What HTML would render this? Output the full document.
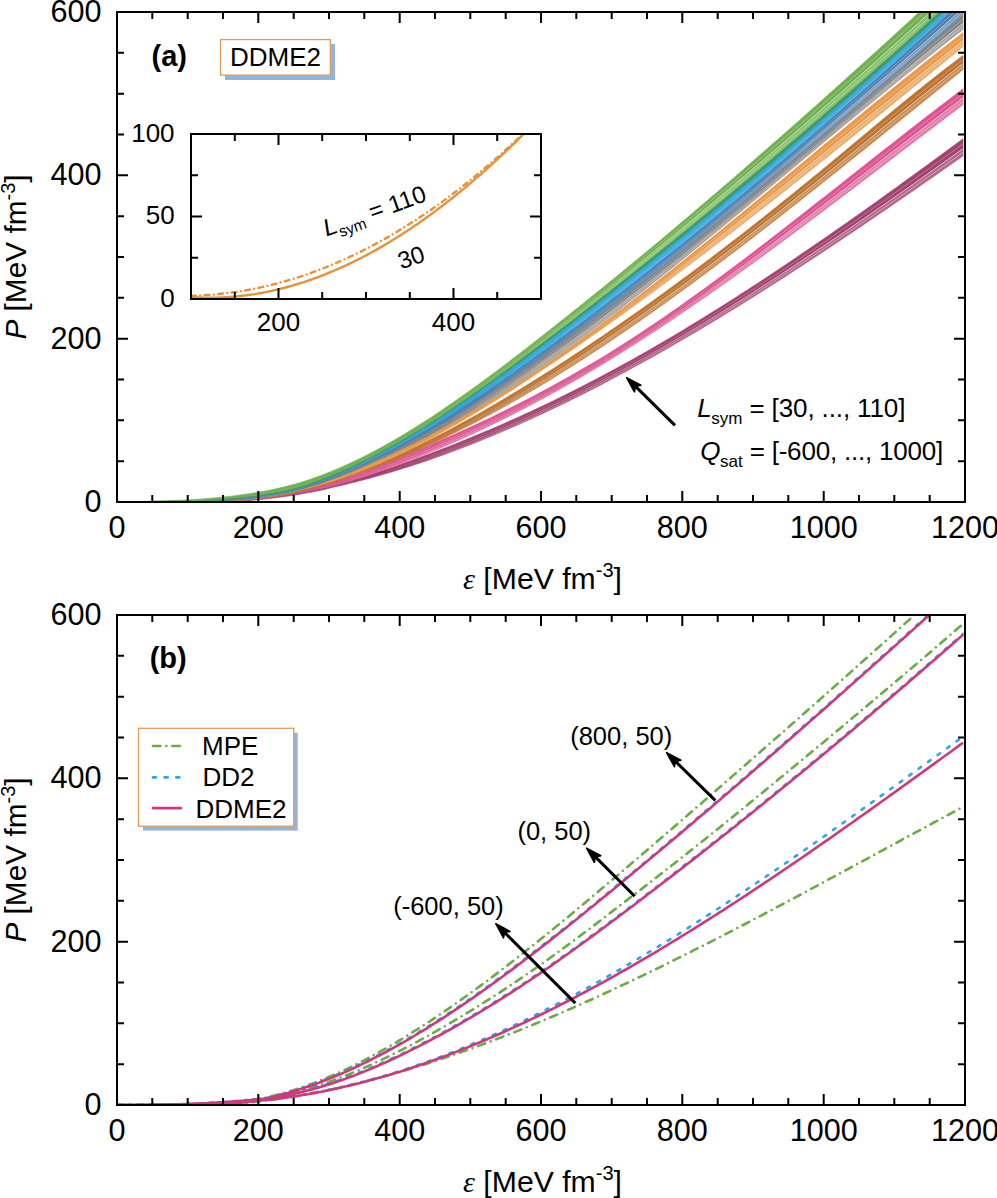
<!DOCTYPE html><html><head><meta charset="utf-8"><style>html,body{margin:0;padding:0;background:#fff;}svg{display:block;}</style></head><body><svg width="997" height="1198" viewBox="0 0 997 1198" font-family='"Liberation Sans", sans-serif'>
<rect width="997" height="1198" fill="#fff"/>
<g clip-path="url(#clipA)">
<path d="M117,502 L123,501.9 L129,501.7 L135,501.7 L141,501.6 L147,501.6 L153,501.6 L159,501.6 L165,501.6 L171,501.6 L177,501.6 L183,501.6 L189,501.5 L195,501.5 L201,501.4 L207,501.3 L213,501.1 L219,500.9 L225,500.6 L231,500.3 L237,499.9 L243,499.5 L249,499 L255,498.5 L261,497.9 L267,497.2 L273,496.5 L279,495.7 L285,494.9 L291,494 L297,493.1 L303,492 L309,491 L315,489.8 L321,488.6 L327,487.2 L333,485.7 L339,484.1 L345,482.4 L351,480.6 L357,478.7 L363,476.9 L369,474.9 L375,473 L381,471 L387,469 L393,467 L399,464.9 L405,462.8 L411,460.7 L417,458.5 L423,456.3 L429,454.1 L435,451.8 L441,449.5 L447,447.2 L453,444.9 L459,442.5 L465,440.1 L471,437.6 L477,435.1 L483,432.6 L489,430.1 L495,427.5 L501,424.9 L507,422.3 L513,419.6 L519,416.9 L525,414.1 L531,411.4 L537,408.6 L543,405.7 L549,402.9 L555,400 L561,397 L567,394 L573,391 L579,388 L585,384.9 L591,381.8 L597,378.7 L603,375.5 L609,372.3 L615,369.1 L621,365.8 L627,362.5 L633,359.2 L639,355.8 L645,352.4 L651,349 L657,345.5 L663,342 L669,338.5 L675,334.9 L681,331.4 L687,327.7 L693,324.1 L699,320.4 L705,316.7 L711,313 L717,309.3 L723,305.5 L729,301.7 L735,297.9 L741,294 L747,290.2 L753,286.3 L759,282.4 L765,278.4 L771,274.5 L777,270.5 L783,266.5 L789,262.4 L795,258.4 L801,254.3 L807,250.2 L813,246.1 L819,242 L825,237.9 L831,233.7 L837,229.5 L843,225.4 L849,221.2 L855,216.9 L861,212.7 L867,208.4 L873,204.2 L879,199.9 L885,195.6 L891,191.3 L897,187 L903,182.6 L909,178.3 L915,173.9 L921,169.6 L927,165.2 L933,160.8 L939,156.4 L945,152 L951,147.6 L957,143.2 L963,138.8 L963,155.9 L957,160.1 L951,164.3 L945,168.5 L939,172.7 L933,176.9 L927,181 L921,185.2 L915,189.4 L909,193.5 L903,197.7 L897,201.8 L891,205.9 L885,210 L879,214.1 L873,218.2 L867,222.3 L861,226.4 L855,230.4 L849,234.4 L843,238.5 L837,242.5 L831,246.5 L825,250.5 L819,254.4 L813,258.4 L807,262.3 L801,266.2 L795,270.1 L789,274 L783,277.9 L777,281.7 L771,285.6 L765,289.4 L759,293.2 L753,297 L747,300.7 L741,304.4 L735,308.2 L729,311.8 L723,315.5 L717,319.2 L711,322.8 L705,326.4 L699,330 L693,333.5 L687,337 L681,340.5 L675,344 L669,347.5 L663,350.9 L657,354.3 L651,357.7 L645,361 L639,364.3 L633,367.6 L627,370.9 L621,374.1 L615,377.3 L609,380.5 L603,383.7 L597,386.8 L591,389.9 L585,392.9 L579,395.9 L573,398.9 L567,401.9 L561,404.8 L555,407.7 L549,410.5 L543,413.4 L537,416.1 L531,418.9 L525,421.6 L519,424.3 L513,426.9 L507,429.5 L501,432.1 L495,434.6 L489,437.1 L483,439.6 L477,442 L471,444.4 L465,446.7 L459,449 L453,451.3 L447,453.5 L441,455.7 L435,457.8 L429,459.9 L423,461.9 L417,463.9 L411,465.9 L405,467.8 L399,469.7 L393,471.5 L387,473.3 L381,475 L375,476.7 L369,478.4 L363,480 L357,481.5 L351,483 L345,484.5 L339,485.9 L333,487.3 L327,488.8 L321,490.2 L315,491.4 L309,492.6 L303,493.6 L297,494.7 L291,495.6 L285,496.5 L279,497.3 L273,498.1 L267,498.8 L261,499.5 L255,500.1 L249,500.6 L243,501.1 L237,501.5 L231,501.9 L225,502.2 L219,502.5 L213,502.7 L207,502.9 L201,503 L195,503.1 L189,503.1 L183,503.2 L177,503.2 L171,503.2 L165,503.2 L159,503.2 L153,503.2 L147,503.2 L141,503.2 L135,503.3 L129,503.3 L123,503.5 L117,503.6Z" fill="#a24270" stroke="#a24270" stroke-width="0.6"/>
<path d="M117,503.6 L123,503.5 L129,503.3 L135,503.3 L141,503.2 L147,503.2 L153,503.2 L159,503.2 L165,503.2 L171,503.2 L177,503.2 L183,503.2 L189,503.1 L195,503.1 L201,503 L207,502.9 L213,502.7 L219,502.5 L225,502.2 L231,501.9 L237,501.5 L243,501.1 L249,500.6 L255,500.1 L261,499.5 L267,498.8 L273,498.1 L279,497.3 L285,496.5 L291,495.6 L297,494.7 L303,493.6 L309,492.6 L315,491.4 L321,490.2 L327,488.8 L333,487.3 L339,485.9 L345,484.5 L351,483 L357,481.5 L363,480 L369,478.4 L375,476.7 L381,475 L387,473.2 L393,471.4 L399,469.5 L405,467.5 L411,465.5 L417,463.4 L423,461.4 L429,459.2 L435,457.1 L441,454.8 L447,452.6 L453,450.3 L459,448 L465,445.6 L471,443.2 L477,440.8 L483,438.3 L489,435.8 L495,433.2 L501,430.6 L507,428 L513,425.4 L519,422.7 L525,420 L531,417.2 L537,414.4 L543,411.6 L549,408.7 L555,405.9 L561,402.9 L567,400 L573,397 L579,394 L585,390.9 L591,387.8 L597,384.7 L603,381.5 L609,378.3 L615,375.1 L621,371.9 L627,368.6 L633,365.2 L639,361.9 L645,358.5 L651,355.1 L657,351.6 L663,348.1 L669,344.6 L675,341.1 L681,337.5 L687,333.9 L693,330.3 L699,326.6 L705,322.9 L711,319.2 L717,315.5 L723,311.7 L729,308 L735,304.3 L741,300.5 L747,296.7 L753,292.9 L759,289.1 L765,285.2 L771,281.4 L777,277.5 L783,273.6 L789,269.6 L795,265.7 L801,261.7 L807,257.7 L813,253.7 L819,249.7 L825,245.7 L831,241.6 L837,237.6 L843,233.5 L849,229.4 L855,225.3 L861,221.2 L867,217 L873,212.9 L879,208.7 L885,204.5 L891,200.4 L897,196.2 L903,191.9 L909,187.7 L915,183.5 L921,179.3 L927,175 L933,170.8 L939,166.5 L945,162.2 L951,157.9 L957,153.7 L963,149.4 L963,155.9 L957,160.1 L951,164.3 L945,168.5 L939,172.7 L933,176.9 L927,181 L921,185.2 L915,189.4 L909,193.5 L903,197.7 L897,201.8 L891,205.9 L885,210 L879,214.1 L873,218.2 L867,222.3 L861,226.4 L855,230.4 L849,234.4 L843,238.5 L837,242.5 L831,246.5 L825,250.5 L819,254.4 L813,258.4 L807,262.3 L801,266.2 L795,270.1 L789,274 L783,277.9 L777,281.7 L771,285.6 L765,289.4 L759,293.2 L753,297 L747,300.7 L741,304.4 L735,308.2 L729,311.8 L723,315.5 L717,319.2 L711,322.8 L705,326.4 L699,330 L693,333.5 L687,337 L681,340.5 L675,344 L669,347.5 L663,350.9 L657,354.3 L651,357.7 L645,361 L639,364.3 L633,367.6 L627,370.9 L621,374.1 L615,377.3 L609,380.5 L603,383.7 L597,386.8 L591,389.9 L585,392.9 L579,395.9 L573,398.9 L567,401.9 L561,404.8 L555,407.7 L549,410.5 L543,413.4 L537,416.1 L531,418.9 L525,421.6 L519,424.3 L513,426.9 L507,429.5 L501,432.1 L495,434.6 L489,437.1 L483,439.6 L477,442 L471,444.4 L465,446.7 L459,449 L453,451.3 L447,453.5 L441,455.7 L435,457.8 L429,459.9 L423,461.9 L417,463.9 L411,465.9 L405,467.8 L399,469.7 L393,471.5 L387,473.3 L381,475 L375,476.7 L369,478.4 L363,480 L357,481.5 L351,483 L345,484.5 L339,485.9 L333,487.3 L327,488.8 L321,490.2 L315,491.4 L309,492.6 L303,493.6 L297,494.7 L291,495.6 L285,496.5 L279,497.3 L273,498.1 L267,498.8 L261,499.5 L255,500.1 L249,500.6 L243,501.1 L237,501.5 L231,501.9 L225,502.2 L219,502.5 L213,502.7 L207,502.9 L201,503 L195,503.1 L189,503.1 L183,503.2 L177,503.2 L171,503.2 L165,503.2 L159,503.2 L153,503.2 L147,503.2 L141,503.2 L135,503.3 L129,503.3 L123,503.5 L117,503.6Z" fill="#c689a6" fill-opacity="0.55"/>
<path d="M387,470.3 L393,468.3 L399,466.3 L405,464.3 M405,464.3 L411,462.2 L417,460.1 L423,458 M387,471.5 L393,469.6 L399,467.7 L405,465.7 M387,472.4 L393,470.6 L399,468.7 L405,466.8 M405,466.8 L411,464.9 L417,462.9 L423,460.8" fill="none" stroke="#fff" stroke-opacity="0.05" stroke-width="0.8"/>
<path d="M423,458 L429,455.8 L435,453.6 L441,451.4 M441,451.4 L447,449.1 L453,446.8 L459,444.4 M459,444.4 L465,442.1 L471,439.7 L477,437.2 M423,460.8 L429,458.7 L435,456.6 L441,454.4" fill="none" stroke="#fff" stroke-opacity="0.10" stroke-width="0.8"/>
<path d="M477,437.2 L483,434.7 L489,432.2 L495,429.7 M495,429.7 L501,427.1 L507,424.4 L513,421.8 M513,421.8 L519,419.1 L525,416.4 L531,413.6 M531,413.6 L537,410.8 L543,408 L549,405.2 M549,405.2 L555,402.3 L561,399.4 L567,396.4 M567,396.4 L573,393.4 L579,390.4 L585,387.3 M405,465.7 L411,463.7 L417,461.7 L423,459.6 M441,454.4 L447,452.2 L453,450 L459,447.7 M459,447.7 L465,445.4 L471,443 L477,440.6 M477,440.6 L483,438.2 L489,435.7 L495,433.2" fill="none" stroke="#fff" stroke-opacity="0.15" stroke-width="0.8"/>
<path d="M585,387.3 L591,384.2 L597,381.1 L603,378 M603,378 L609,374.8 L615,371.6 L621,368.3 M621,368.3 L627,365 L633,361.7 L639,358.4 M639,358.4 L645,355 L651,351.6 L657,348.1 M657,348.1 L663,344.7 L669,341.2 L675,337.7 M423,459.6 L429,457.5 L435,455.3 L441,453.1 M495,433.2 L501,430.7 L507,428.1 L513,425.5 M513,425.5 L519,422.8 L525,420.1 L531,417.4 M531,417.4 L537,414.6 L543,411.8 L549,409 M549,409 L555,406.1 L561,403.2 L567,400.3 M567,400.3 L573,397.3 L579,394.3 L585,391.3" fill="none" stroke="#fff" stroke-opacity="0.20" stroke-width="0.8"/>
<path d="M675,337.7 L681,334.1 L687,330.5 L693,326.9 M693,326.9 L699,323.3 L705,319.6 L711,316 M711,316 L717,312.2 L723,308.5 L729,304.7 M441,453.1 L447,450.9 L453,448.6 L459,446.3 M585,391.3 L591,388.3 L597,385.2 L603,382 M603,382 L609,378.9 L615,375.7 L621,372.5 M621,372.5 L627,369.2 L633,365.9 L639,362.6 M639,362.6 L645,359.3 L651,355.9 L657,352.5" fill="none" stroke="#fff" stroke-opacity="0.25" stroke-width="0.8"/>
<path d="M729,304.7 L735,301 L741,297.2 L747,293.3 M747,293.3 L753,289.5 L759,285.6 L765,281.7 M765,281.7 L771,277.8 L777,273.9 L783,269.9 M459,446.3 L465,443.9 L471,441.5 L477,439.1 M477,439.1 L483,436.7 L489,434.2 L495,431.6 M657,352.5 L663,349.1 L669,345.7 L675,342.2 M675,342.2 L681,338.7 L687,335.2 L693,331.6 M693,331.6 L699,328.1 L705,324.5 L711,320.8" fill="none" stroke="#fff" stroke-opacity="0.30" stroke-width="0.8"/>
<path d="M783,269.9 L789,265.9 L795,261.9 L801,257.9 M801,257.9 L807,253.9 L813,249.8 L819,245.7 M819,245.7 L825,241.7 L831,237.6 L837,233.4 M837,233.4 L843,229.3 L849,225.1 L855,221 M855,221 L861,216.8 L867,212.6 L873,208.4 M873,208.4 L879,204.2 L885,199.9 L891,195.7 M891,195.7 L897,191.4 L903,187.1 L909,182.9 M909,182.9 L915,178.6 L921,174.3 L927,170 M927,170 L933,165.6 L939,161.3 L945,157 M945,157 L951,152.6 L957,148.3 L963,143.9 M495,431.6 L501,429.1 L507,426.5 L513,423.9 M513,423.9 L519,421.2 L525,418.5 L531,415.7 M711,320.8 L717,317.2 L723,313.5 L729,309.8 M729,309.8 L735,306.1 L741,302.4 L747,298.6" fill="none" stroke="#fff" stroke-opacity="0.35" stroke-width="0.8"/>
<path d="M531,415.7 L537,413 L543,410.2 L549,407.3 M549,407.3 L555,404.4 L561,401.5 L567,398.6 M567,398.6 L573,395.6 L579,392.6 L585,389.6 M747,298.6 L753,294.8 L759,291 L765,287.2 M765,287.2 L771,283.4 L777,279.5 L783,275.6" fill="none" stroke="#fff" stroke-opacity="0.40" stroke-width="0.8"/>
<path d="M585,389.6 L591,386.5 L597,383.4 L603,380.2 M603,380.2 L609,377.1 L615,373.9 L621,370.6 M621,370.6 L627,367.4 L633,364.1 L639,360.8 M783,275.6 L789,271.7 L795,267.8 L801,263.9 M801,263.9 L807,259.9 L813,255.9 L819,251.9 M819,251.9 L825,247.9 L831,243.9 L837,239.9 M837,239.9 L843,235.8 L849,231.8 L855,227.7 M855,227.7 L861,223.6 L867,219.5 L873,215.4 M873,215.4 L879,211.3 L885,207.1 L891,203 M891,203 L897,198.8 L903,194.6 L909,190.5 M909,190.5 L915,186.3 L921,182.1 L927,177.9 M927,177.9 L933,173.6 L939,169.4 L945,165.2 M945,165.2 L951,160.9 L957,156.7 L963,152.4" fill="none" stroke="#fff" stroke-opacity="0.45" stroke-width="0.8"/>
<path d="M639,360.8 L645,357.4 L651,354 L657,350.6" fill="none" stroke="#fff" stroke-opacity="0.50" stroke-width="0.8"/>
<path d="M657,350.6 L663,347.2 L669,343.7 L675,340.2 M675,340.2 L681,336.7 L687,333.1 L693,329.6" fill="none" stroke="#fff" stroke-opacity="0.55" stroke-width="0.8"/>
<path d="M693,329.6 L699,326 L705,322.3 L711,318.7" fill="none" stroke="#fff" stroke-opacity="0.60" stroke-width="0.8"/>
<path d="M711,318.7 L717,315 L723,311.3 L729,307.6 M729,307.6 L735,303.8 L741,300.1 L747,296.3" fill="none" stroke="#fff" stroke-opacity="0.65" stroke-width="0.8"/>
<path d="M747,296.3 L753,292.5 L759,288.6 L765,284.8" fill="none" stroke="#fff" stroke-opacity="0.70" stroke-width="0.8"/>
<path d="M765,284.8 L771,280.9 L777,277 L783,273.1" fill="none" stroke="#fff" stroke-opacity="0.75" stroke-width="0.8"/>
<path d="M783,273.1 L789,269.2 L795,265.2 L801,261.2" fill="none" stroke="#fff" stroke-opacity="0.80" stroke-width="0.8"/>
<path d="M801,261.2 L807,257.2 L813,253.2 L819,249.2 M819,249.2 L825,245.2 L831,241.1 L837,237.1 M837,237.1 L843,233 L849,228.9 L855,224.7 M855,224.7 L861,220.6 L867,216.5 L873,212.3 M873,212.3 L879,208.1 L885,204 L891,199.8 M891,199.8 L897,195.6 L903,191.3 L909,187.1 M909,187.1 L915,182.9 L921,178.6 L927,174.4 M927,174.4 L933,170.1 L939,165.8 L945,161.6 M945,161.6 L951,157.3 L957,153 L963,148.7" fill="none" stroke="#fff" stroke-opacity="0.85" stroke-width="0.8"/>
<path d="M117,502 L123,501.9 L129,501.8 L135,501.7 L141,501.7 L147,501.6 L153,501.6 L159,501.6 L165,501.5 L171,501.5 L177,501.4 L183,501.4 L189,501.3 L195,501.2 L201,501.1 L207,500.9 L213,500.7 L219,500.4 L225,500.1 L231,499.8 L237,499.4 L243,498.9 L249,498.4 L255,497.8 L261,497.1 L267,496.4 L273,495.5 L279,494.6 L285,493.6 L291,492.5 L297,491.3 L303,490 L309,488.6 L315,487.1 L321,485.5 L327,483.8 L333,482 L339,480.1 L345,478.2 L351,476.2 L357,474.1 L363,471.9 L369,469.7 L375,467.4 L381,465.1 L387,462.7 L393,460.3 L399,457.9 L405,455.5 L411,453 L417,450.5 L423,448 L429,445.4 L435,442.8 L441,440.2 L447,437.6 L453,435 L459,432.3 L465,429.6 L471,426.8 L477,424 L483,421.2 L489,418.4 L495,415.5 L501,412.6 L507,409.6 L513,406.6 L519,403.6 L525,400.5 L531,397.4 L537,394.3 L543,391.1 L549,387.9 L555,384.6 L561,381.3 L567,377.9 L573,374.5 L579,371.1 L585,367.6 L591,364.1 L597,360.5 L603,356.9 L609,353.2 L615,349.4 L621,345.7 L627,341.8 L633,337.9 L639,334 L645,330 L651,326 L657,322 L663,317.9 L669,313.7 L675,309.6 L681,305.4 L687,301.1 L693,296.8 L699,292.5 L705,288.2 L711,283.8 L717,279.4 L723,274.9 L729,270.5 L735,266 L741,261.5 L747,256.9 L753,252.4 L759,247.8 L765,243.2 L771,238.6 L777,233.9 L783,229.3 L789,224.6 L795,219.9 L801,215.3 L807,210.6 L813,205.8 L819,201.1 L825,196.4 L831,191.7 L837,186.9 L843,182.2 L849,177.5 L855,172.7 L861,168 L867,163.3 L873,158.5 L879,153.8 L885,149.1 L891,144.4 L897,139.7 L903,135 L909,130.3 L915,125.6 L921,120.9 L927,116.3 L933,111.7 L939,107.1 L945,102.5 L951,97.9 L957,93.3 L963,88.8 L963,104.6 L957,109.2 L951,113.7 L945,118.3 L939,122.8 L933,127.4 L927,132 L921,136.5 L915,141.1 L909,145.7 L903,150.3 L897,154.8 L891,159.4 L885,164 L879,168.6 L873,173.2 L867,177.7 L861,182.3 L855,186.9 L849,191.4 L843,196 L837,200.5 L831,205 L825,209.6 L819,214.1 L813,218.6 L807,223.1 L801,227.6 L795,232.1 L789,236.5 L783,241 L777,245.4 L771,249.8 L765,254.2 L759,258.6 L753,263 L747,267.3 L741,271.6 L735,275.9 L729,280.2 L723,284.5 L717,288.7 L711,292.9 L705,297.1 L699,301.3 L693,305.4 L687,309.5 L681,313.6 L675,317.7 L669,321.7 L663,325.7 L657,329.7 L651,333.6 L645,337.5 L639,341.4 L633,345.2 L627,349 L621,352.8 L615,356.5 L609,360.2 L603,363.9 L597,367.5 L591,371.1 L585,374.7 L579,378.2 L573,381.6 L567,385.1 L561,388.5 L555,391.8 L549,395.1 L543,398.4 L537,401.6 L531,404.8 L525,408 L519,411.1 L513,414.2 L507,417.2 L501,420.2 L495,423.1 L489,426 L483,428.9 L477,431.7 L471,434.5 L465,437.2 L459,439.9 L453,442.5 L447,445.2 L441,447.7 L435,450.2 L429,452.7 L423,455.1 L417,457.5 L411,459.8 L405,462.1 L399,464.4 L393,466.6 L387,468.7 L381,470.8 L375,472.9 L369,474.9 L363,476.9 L357,478.8 L351,480.7 L345,482.5 L339,484.2 L333,485.8 L327,487.2 L321,488.6 L315,489.8 L309,490.9 L303,492 L297,493 L291,494.1 L285,495.2 L279,496.2 L273,497.1 L267,498 L261,498.7 L255,499.4 L249,500 L243,500.5 L237,501 L231,501.4 L225,501.7 L219,502 L213,502.3 L207,502.5 L201,502.7 L195,502.8 L189,502.9 L183,503 L177,503 L171,503.1 L165,503.1 L159,503.2 L153,503.2 L147,503.2 L141,503.3 L135,503.3 L129,503.4 L123,503.5 L117,503.6Z" fill="#dc5592" stroke="#dc5592" stroke-width="0.6"/>
<path d="M117,503.6 L123,503.5 L129,503.4 L135,503.3 L141,503.3 L147,503.2 L153,503.2 L159,503.2 L165,503.1 L171,503.1 L177,503 L183,503 L189,502.9 L195,502.8 L201,502.7 L207,502.5 L213,502.3 L219,502 L225,501.7 L231,501.4 L237,501 L243,500.5 L249,500 L255,499.4 L261,498.7 L267,498 L273,497.1 L279,496.2 L285,495.2 L291,494.1 L297,493 L303,492 L309,490.9 L315,489.8 L321,488.6 L327,487.2 L333,485.8 L339,484.1 L345,482.4 L351,480.5 L357,478.6 L363,476.6 L369,474.5 L375,472.4 L381,470.2 L387,468 L393,465.7 L399,463.4 L405,461 L411,458.6 L417,456.2 L423,453.7 L429,451.2 L435,448.6 L441,446.1 L447,443.5 L453,440.8 L459,438.1 L465,435.4 L471,432.7 L477,429.9 L483,427.1 L489,424.2 L495,421.4 L501,418.4 L507,415.5 L513,412.5 L519,409.4 L525,406.4 L531,403.2 L537,400.1 L543,396.9 L549,393.6 L555,390.4 L561,387 L567,383.7 L573,380.2 L579,376.8 L585,373.3 L591,369.8 L597,366.2 L603,362.5 L609,358.9 L615,355.1 L621,351.4 L627,347.6 L633,343.7 L639,339.8 L645,335.9 L651,331.9 L657,327.9 L663,323.8 L669,319.7 L675,315.6 L681,311.4 L687,307.2 L693,302.9 L699,298.6 L705,294.3 L711,289.9 L717,285.6 L723,281.1 L729,276.7 L735,272.2 L741,267.8 L747,263.4 L753,258.9 L759,254.5 L765,250 L771,245.5 L777,241 L783,236.5 L789,232 L795,227.5 L801,222.9 L807,218.3 L813,213.8 L819,209.2 L825,204.6 L831,200 L837,195.4 L843,190.7 L849,186.1 L855,181.5 L861,176.9 L867,172.2 L873,167.6 L879,163 L885,158.3 L891,153.7 L897,149.1 L903,144.4 L909,139.8 L915,135.2 L921,130.6 L927,126 L933,121.4 L939,116.8 L945,112.3 L951,107.7 L957,103.2 L963,98.6 L963,104.6 L957,109.2 L951,113.7 L945,118.3 L939,122.8 L933,127.4 L927,132 L921,136.5 L915,141.1 L909,145.7 L903,150.3 L897,154.8 L891,159.4 L885,164 L879,168.6 L873,173.2 L867,177.7 L861,182.3 L855,186.9 L849,191.4 L843,196 L837,200.5 L831,205 L825,209.6 L819,214.1 L813,218.6 L807,223.1 L801,227.6 L795,232.1 L789,236.5 L783,241 L777,245.4 L771,249.8 L765,254.2 L759,258.6 L753,263 L747,267.3 L741,271.6 L735,275.9 L729,280.2 L723,284.5 L717,288.7 L711,292.9 L705,297.1 L699,301.3 L693,305.4 L687,309.5 L681,313.6 L675,317.7 L669,321.7 L663,325.7 L657,329.7 L651,333.6 L645,337.5 L639,341.4 L633,345.2 L627,349 L621,352.8 L615,356.5 L609,360.2 L603,363.9 L597,367.5 L591,371.1 L585,374.7 L579,378.2 L573,381.6 L567,385.1 L561,388.5 L555,391.8 L549,395.1 L543,398.4 L537,401.6 L531,404.8 L525,408 L519,411.1 L513,414.2 L507,417.2 L501,420.2 L495,423.1 L489,426 L483,428.9 L477,431.7 L471,434.5 L465,437.2 L459,439.9 L453,442.5 L447,445.2 L441,447.7 L435,450.2 L429,452.7 L423,455.1 L417,457.5 L411,459.8 L405,462.1 L399,464.4 L393,466.6 L387,468.7 L381,470.8 L375,472.9 L369,474.9 L363,476.9 L357,478.8 L351,480.7 L345,482.5 L339,484.2 L333,485.8 L327,487.2 L321,488.6 L315,489.8 L309,490.9 L303,492 L297,493 L291,494.1 L285,495.2 L279,496.2 L273,497.1 L267,498 L261,498.7 L255,499.4 L249,500 L243,500.5 L237,501 L231,501.4 L225,501.7 L219,502 L213,502.3 L207,502.5 L201,502.7 L195,502.8 L189,502.9 L183,503 L177,503 L171,503.1 L165,503.1 L159,503.2 L153,503.2 L147,503.2 L141,503.3 L135,503.3 L129,503.4 L123,503.5 L117,503.6Z" fill="#ec9cc0" fill-opacity="0.55"/>
<path d="M351,477.5 L357,475.5 L363,473.4 L369,471.3 M369,471.3 L375,469.1 L381,466.8 L387,464.5 M351,479.8 L357,477.9 L363,475.9 L369,473.9" fill="none" stroke="#fff" stroke-opacity="0.05" stroke-width="0.8"/>
<path d="M387,464.5 L393,462.2 L399,459.9 L405,457.5 M351,478.8 L357,476.8 L363,474.8 L369,472.7 M369,473.9 L375,471.8 L381,469.7 L387,467.5" fill="none" stroke="#fff" stroke-opacity="0.10" stroke-width="0.8"/>
<path d="M405,457.5 L411,455 L417,452.6 L423,450.1 M423,450.1 L429,447.6 L435,445.1 L441,442.5 M441,442.5 L447,439.9 L453,437.2 L459,434.6 M459,434.6 L465,431.9 L471,429.1 L477,426.3 M477,426.3 L483,423.5 L489,420.7 L495,417.8 M495,417.8 L501,414.8 L507,411.9 L513,408.9 M513,408.9 L519,405.8 L525,402.8 L531,399.6 M531,399.6 L537,396.5 L543,393.3 L549,390.1 M549,390.1 L555,386.8 L561,383.4 L567,380.1 M567,380.1 L573,376.7 L579,373.2 L585,369.7 M585,369.7 L591,366.2 L597,362.6 L603,359 M603,359 L609,355.3 L615,351.6 L621,347.8 M621,347.8 L627,344 L633,340.1 L639,336.2 M639,336.2 L645,332.3 L651,328.3 L657,324.3 M657,324.3 L663,320.2 L669,316.1 L675,312 M369,472.7 L375,470.6 L381,468.4 L387,466.2 M387,467.5 L393,465.3 L399,463.1 L405,460.8 M405,460.8 L411,458.5 L417,456.1 L423,453.7 M567,383.6 L573,380.2 L579,376.8 L585,373.2 M585,373.2 L591,369.7 L597,366.1 L603,362.5 M603,362.5 L609,358.8 L615,355.1 L621,351.4" fill="none" stroke="#fff" stroke-opacity="0.15" stroke-width="0.8"/>
<path d="M675,312 L681,307.8 L687,303.6 L693,299.4 M693,299.4 L699,295.1 L705,290.8 L711,286.5 M423,453.7 L429,451.2 L435,448.8 L441,446.2 M441,446.2 L447,443.6 L453,441 L459,438.4 M459,438.4 L465,435.7 L471,432.9 L477,430.2 M477,430.2 L483,427.3 L489,424.5 L495,421.6 M495,421.6 L501,418.6 L507,415.7 L513,412.6 M513,412.6 L519,409.6 L525,406.5 L531,403.3 M531,403.3 L537,400.2 L543,396.9 L549,393.7 M549,393.7 L555,390.4 L561,387 L567,383.6 M621,351.4 L627,347.6 L633,343.8 L639,339.9 M639,339.9 L645,336 L651,332.1 L657,328.1 M657,328.1 L663,324.1 L669,320.1 L675,316.1" fill="none" stroke="#fff" stroke-opacity="0.20" stroke-width="0.8"/>
<path d="M711,286.5 L717,282.2 L723,277.8 L729,273.4 M729,273.4 L735,269 L741,264.5 L747,260 M387,466.2 L393,464 L399,461.7 L405,459.3 M675,316.1 L681,312 L687,307.9 L693,303.7 M693,303.7 L699,299.5 L705,295.3 L711,291.1" fill="none" stroke="#fff" stroke-opacity="0.25" stroke-width="0.8"/>
<path d="M747,260 L753,255.5 L759,251 L765,246.5 M765,246.5 L771,241.9 L777,237.4 L783,232.8 M405,459.3 L411,457 L417,454.6 L423,452.1 M585,371.7 L591,368.2 L597,364.6 L603,360.9 M711,291.1 L717,286.8 L723,282.6 L729,278.3" fill="none" stroke="#fff" stroke-opacity="0.30" stroke-width="0.8"/>
<path d="M783,232.8 L789,228.2 L795,223.6 L801,219 M801,219 L807,214.3 L813,209.7 L819,205 M819,205 L825,200.4 L831,195.7 L837,191 M837,191 L843,186.3 L849,181.7 L855,177 M855,177 L861,172.3 L867,167.6 L873,162.9 M873,162.9 L879,158.2 L885,153.6 L891,148.9 M891,148.9 L897,144.2 L903,139.6 L909,134.9 M909,134.9 L915,130.3 L921,125.6 L927,121 M927,121 L933,116.4 L939,111.8 L945,107.2 M945,107.2 L951,102.6 L957,98.1 L963,93.6 M423,452.1 L429,449.6 L435,447.1 L441,444.6 M513,411 L519,407.9 L525,404.8 L531,401.7 M531,401.7 L537,398.5 L543,395.3 L549,392.1 M549,392.1 L555,388.8 L561,385.5 L567,382.1 M567,382.1 L573,378.7 L579,375.2 L585,371.7 M603,360.9 L609,357.3 L615,353.6 L621,349.8 M621,349.8 L627,346 L633,342.2 L639,338.3 M729,278.3 L735,273.9 L741,269.6 L747,265.2" fill="none" stroke="#fff" stroke-opacity="0.35" stroke-width="0.8"/>
<path d="M441,444.6 L447,442 L453,439.4 L459,436.7 M459,436.7 L465,434 L471,431.3 L477,428.5 M477,428.5 L483,425.7 L489,422.8 L495,419.9 M495,419.9 L501,417 L507,414 L513,411 M639,338.3 L645,334.4 L651,330.4 L657,326.4 M657,326.4 L663,322.4 L669,318.4 L675,314.3 M747,265.2 L753,260.8 L759,256.4 L765,252 M765,252 L771,247.6 L777,243.1 L783,238.6" fill="none" stroke="#fff" stroke-opacity="0.40" stroke-width="0.8"/>
<path d="M675,314.3 L681,310.2 L687,306 L693,301.8 M783,238.6 L789,234.1 L795,229.6 L801,225.1 M801,225.1 L807,220.6 L813,216 L819,211.5 M819,211.5 L825,206.9 L831,202.4 L837,197.8 M837,197.8 L843,193.2 L849,188.6 L855,184 M855,184 L861,179.4 L867,174.8 L873,170.2 M873,170.2 L879,165.6 L885,161 L891,156.4 M891,156.4 L897,151.8 L903,147.2 L909,142.6 M909,142.6 L915,138 L921,133.4 L927,128.8 M927,128.8 L933,124.3 L939,119.7 L945,115.1 M945,115.1 L951,110.6 L957,106 L963,101.5" fill="none" stroke="#fff" stroke-opacity="0.45" stroke-width="0.8"/>
<path d="M693,301.8 L699,297.6 L705,293.4 L711,289.1" fill="none" stroke="#fff" stroke-opacity="0.50" stroke-width="0.8"/>
<path d="M711,289.1 L717,284.8 L723,280.5 L729,276.1" fill="none" stroke="#fff" stroke-opacity="0.60" stroke-width="0.8"/>
<path d="M729,276.1 L735,271.7 L741,267.4 L747,262.9" fill="none" stroke="#fff" stroke-opacity="0.65" stroke-width="0.8"/>
<path d="M747,262.9 L753,258.5 L759,254.1 L765,249.6" fill="none" stroke="#fff" stroke-opacity="0.70" stroke-width="0.8"/>
<path d="M765,249.6 L771,245.1 L777,240.6 L783,236.1" fill="none" stroke="#fff" stroke-opacity="0.80" stroke-width="0.8"/>
<path d="M783,236.1 L789,231.5 L795,227 L801,222.4 M801,222.4 L807,217.8 L813,213.2 L819,208.6 M819,208.6 L825,204 L831,199.4 L837,194.8 M837,194.8 L843,190.2 L849,185.6 L855,180.9 M855,180.9 L861,176.3 L867,171.6 L873,167 M873,167 L879,162.4 L885,157.7 L891,153.1 M891,153.1 L897,148.5 L903,143.8 L909,139.2 M909,139.2 L915,134.6 L921,130 L927,125.4 M927,125.4 L933,120.8 L939,116.2 L945,111.6 M945,111.6 L951,107.1 L957,102.5 L963,98" fill="none" stroke="#fff" stroke-opacity="0.85" stroke-width="0.8"/>
<path d="M117,501.9 L123,501.8 L129,501.8 L135,501.7 L141,501.7 L147,501.6 L153,501.6 L159,501.6 L165,501.5 L171,501.5 L177,501.4 L183,501.4 L189,501.3 L195,501.2 L201,501 L207,500.8 L213,500.6 L219,500.4 L225,500 L231,499.7 L237,499.2 L243,498.7 L249,498.2 L255,497.5 L261,496.8 L267,496 L273,495.2 L279,494.2 L285,493.1 L291,492 L297,490.7 L303,489.3 L309,487.9 L315,486.3 L321,484.6 L327,482.8 L333,480.9 L339,478.9 L345,476.8 L351,474.7 L357,472.4 L363,470.1 L369,467.7 L375,465.2 L381,462.7 L387,460.1 L393,457.4 L399,454.7 L405,451.9 L411,449.1 L417,446.2 L423,443.3 L429,440.3 L435,437.3 L441,434.2 L447,431 L453,427.9 L459,424.6 L465,421.3 L471,418 L477,414.7 L483,411.2 L489,407.8 L495,404.3 L501,400.8 L507,397.2 L513,393.6 L519,390 L525,386.3 L531,382.6 L537,378.8 L543,375.1 L549,371.3 L555,367.4 L561,363.6 L567,359.7 L573,355.7 L579,351.8 L585,347.8 L591,343.8 L597,339.8 L603,335.7 L609,331.6 L615,327.5 L621,323.3 L627,319.1 L633,314.9 L639,310.7 L645,306.4 L651,302.2 L657,297.8 L663,293.5 L669,289.1 L675,284.8 L681,280.3 L687,275.9 L693,271.4 L699,266.9 L705,262.4 L711,257.9 L717,253.3 L723,248.8 L729,244.1 L735,239.5 L741,234.9 L747,230.2 L753,225.5 L759,220.8 L765,216 L771,211.2 L777,206.5 L783,201.6 L789,196.8 L795,192 L801,187.1 L807,182.2 L813,177.3 L819,172.4 L825,167.4 L831,162.4 L837,157.5 L843,152.5 L849,147.4 L855,142.4 L861,137.4 L867,132.4 L873,127.4 L879,122.4 L885,117.4 L891,112.5 L897,107.5 L903,102.6 L909,97.7 L915,92.8 L921,88 L927,83.2 L933,78.5 L939,73.7 L945,69.1 L951,64.5 L957,59.9 L963,55.4 L963,69.6 L957,74.5 L951,79.3 L945,84.1 L939,89 L933,93.8 L927,98.7 L921,103.5 L915,108.4 L909,113.2 L903,118.1 L897,122.9 L891,127.8 L885,132.6 L879,137.5 L873,142.3 L867,147.2 L861,152 L855,156.8 L849,161.6 L843,166.4 L837,171.2 L831,176 L825,180.8 L819,185.6 L813,190.4 L807,195.1 L801,199.9 L795,204.6 L789,209.3 L783,214.1 L777,218.8 L771,223.4 L765,228.1 L759,232.7 L753,237.4 L747,242 L741,246.6 L735,251.2 L729,255.7 L723,260.3 L717,264.8 L711,269.3 L705,273.8 L699,278.2 L693,282.7 L687,287.1 L681,291.4 L675,295.8 L669,300.1 L663,304.4 L657,308.7 L651,313 L645,317.2 L639,321.4 L633,325.6 L627,329.7 L621,333.8 L615,337.9 L609,341.9 L603,345.9 L597,349.9 L591,353.8 L585,357.7 L579,361.6 L573,365.4 L567,369.2 L561,373 L555,376.7 L549,380.4 L543,384.1 L537,387.7 L531,391.2 L525,394.7 L519,398.2 L513,401.7 L507,405.1 L501,408.4 L495,411.7 L489,415 L483,418.2 L477,421.4 L471,424.5 L465,427.6 L459,430.6 L453,433.6 L447,436.5 L441,439.4 L435,442.2 L429,445 L423,447.7 L417,450.4 L411,453 L405,455.5 L399,458 L393,460.5 L387,462.9 L381,465.2 L375,467.5 L369,469.7 L363,471.9 L357,474 L351,476.3 L345,478.4 L339,480.5 L333,482.5 L327,484.4 L321,486.2 L315,487.9 L309,489.5 L303,490.9 L297,492.3 L291,493.6 L285,494.7 L279,495.8 L273,496.8 L267,497.6 L261,498.4 L255,499.1 L249,499.8 L243,500.3 L237,500.8 L231,501.3 L225,501.6 L219,502 L213,502.2 L207,502.4 L201,502.6 L195,502.8 L189,502.9 L183,503 L177,503 L171,503.1 L165,503.1 L159,503.2 L153,503.2 L147,503.2 L141,503.3 L135,503.3 L129,503.4 L123,503.4 L117,503.5Z" fill="#bd7430" stroke="#bd7430" stroke-width="0.6"/>
<path d="M117,503.5 L123,503.4 L129,503.4 L135,503.3 L141,503.3 L147,503.2 L153,503.2 L159,503.2 L165,503.1 L171,503.1 L177,503 L183,503 L189,502.9 L195,502.8 L201,502.6 L207,502.4 L213,502.2 L219,502 L225,501.6 L231,501.3 L237,500.8 L243,500.3 L249,499.8 L255,499.1 L261,498.4 L267,497.6 L273,496.8 L279,495.8 L285,494.7 L291,493.6 L297,492.3 L303,490.9 L309,489.5 L315,487.9 L321,486.2 L327,484.4 L333,482.5 L339,480.5 L345,478.4 L351,476.3 L357,474 L363,471.9 L369,469.7 L375,467.5 L381,465.2 L387,462.9 L393,460.5 L399,458 L405,455.5 L411,453 L417,450.3 L423,447.6 L429,444.8 L435,441.9 L441,439 L447,436 L453,432.9 L459,429.8 L465,426.7 L471,423.5 L477,420.2 L483,416.9 L489,413.5 L495,410.1 L501,406.6 L507,403.1 L513,399.6 L519,396 L525,392.4 L531,388.7 L537,385 L543,381.2 L549,377.4 L555,373.6 L561,369.7 L567,365.9 L573,361.9 L579,358 L585,354 L591,350 L597,346 L603,342 L609,338 L615,333.9 L621,329.8 L627,325.7 L633,321.5 L639,317.3 L645,313.1 L651,308.9 L657,304.6 L663,300.3 L669,296 L675,291.6 L681,287.2 L687,282.8 L693,278.4 L699,273.9 L705,269.5 L711,265 L717,260.4 L723,255.9 L729,251.3 L735,246.7 L741,242.1 L747,237.5 L753,232.9 L759,228.2 L765,223.5 L771,218.8 L777,214.1 L783,209.3 L789,204.6 L795,199.8 L801,195 L807,190.2 L813,185.4 L819,180.6 L825,175.7 L831,170.9 L837,166 L843,161.1 L849,156.2 L855,151.3 L861,146.5 L867,141.6 L873,136.7 L879,131.8 L885,126.9 L891,122 L897,117.1 L903,112.2 L909,107.3 L915,102.5 L921,97.6 L927,92.8 L933,88 L939,83.2 L945,78.4 L951,73.7 L957,68.9 L963,64.2 L963,69.6 L957,74.5 L951,79.3 L945,84.1 L939,89 L933,93.8 L927,98.7 L921,103.5 L915,108.4 L909,113.2 L903,118.1 L897,122.9 L891,127.8 L885,132.6 L879,137.5 L873,142.3 L867,147.2 L861,152 L855,156.8 L849,161.6 L843,166.4 L837,171.2 L831,176 L825,180.8 L819,185.6 L813,190.4 L807,195.1 L801,199.9 L795,204.6 L789,209.3 L783,214.1 L777,218.8 L771,223.4 L765,228.1 L759,232.7 L753,237.4 L747,242 L741,246.6 L735,251.2 L729,255.7 L723,260.3 L717,264.8 L711,269.3 L705,273.8 L699,278.2 L693,282.7 L687,287.1 L681,291.4 L675,295.8 L669,300.1 L663,304.4 L657,308.7 L651,313 L645,317.2 L639,321.4 L633,325.6 L627,329.7 L621,333.8 L615,337.9 L609,341.9 L603,345.9 L597,349.9 L591,353.8 L585,357.7 L579,361.6 L573,365.4 L567,369.2 L561,373 L555,376.7 L549,380.4 L543,384.1 L537,387.7 L531,391.2 L525,394.7 L519,398.2 L513,401.7 L507,405.1 L501,408.4 L495,411.7 L489,415 L483,418.2 L477,421.4 L471,424.5 L465,427.6 L459,430.6 L453,433.6 L447,436.5 L441,439.4 L435,442.2 L429,445 L423,447.7 L417,450.4 L411,453 L405,455.5 L399,458 L393,460.5 L387,462.9 L381,465.2 L375,467.5 L369,469.7 L363,471.9 L357,474 L351,476.3 L345,478.4 L339,480.5 L333,482.5 L327,484.4 L321,486.2 L315,487.9 L309,489.5 L303,490.9 L297,492.3 L291,493.6 L285,494.7 L279,495.8 L273,496.8 L267,497.6 L261,498.4 L255,499.1 L249,499.8 L243,500.3 L237,500.8 L231,501.3 L225,501.6 L219,502 L213,502.2 L207,502.4 L201,502.6 L195,502.8 L189,502.9 L183,503 L177,503 L171,503.1 L165,503.1 L159,503.2 L153,503.2 L147,503.2 L141,503.3 L135,503.3 L129,503.4 L123,503.4 L117,503.5Z" fill="#d6a070" fill-opacity="0.55"/>
<path d="M423,444.6 L429,441.7 L435,438.7 L441,435.7 M441,435.7 L447,432.7 L453,429.6 L459,426.4 M423,446.8 L429,444 L435,441.2 L441,438.3" fill="none" stroke="#fff" stroke-opacity="0.05" stroke-width="0.8"/>
<path d="M459,426.4 L465,423.2 L471,420 L477,416.7 M423,445.8 L429,443 L435,440.1 L441,437.2 M441,438.3 L447,435.4 L453,432.4 L459,429.4" fill="none" stroke="#fff" stroke-opacity="0.10" stroke-width="0.8"/>
<path d="M477,416.7 L483,413.3 L489,409.9 L495,406.5 M495,406.5 L501,403.1 L507,399.6 L513,396 M441,437.2 L447,434.2 L453,431.2 L459,428.1 M459,429.4 L465,426.3 L471,423.2 L477,420 M477,420 L483,416.8 L489,413.5 L495,410.2" fill="none" stroke="#fff" stroke-opacity="0.15" stroke-width="0.8"/>
<path d="M513,396 L519,392.4 L525,388.8 L531,385.2 M531,385.2 L537,381.5 L543,377.8 L549,374 M495,410.2 L501,406.9 L507,403.5 L513,400" fill="none" stroke="#fff" stroke-opacity="0.20" stroke-width="0.8"/>
<path d="M549,374 L555,370.2 L561,366.4 L567,362.5 M567,362.5 L573,358.7 L579,354.7 L585,350.8 M585,350.8 L591,346.8 L597,342.8 L603,338.8 M459,428.1 L465,424.9 L471,421.8 L477,418.5 M513,400 L519,396.6 L525,393.1 L531,389.5" fill="none" stroke="#fff" stroke-opacity="0.25" stroke-width="0.8"/>
<path d="M603,338.8 L609,334.7 L615,330.6 L621,326.5 M621,326.5 L627,322.3 L633,318.1 L639,313.9 M639,313.9 L645,309.7 L651,305.4 L657,301.1 M657,301.1 L663,296.8 L669,292.4 L675,288.1 M675,288.1 L681,283.7 L687,279.3 L693,274.8 M693,274.8 L699,270.3 L705,265.8 L711,261.3 M531,389.5 L537,385.9 L543,382.3 L549,378.6 M549,378.6 L555,374.9 L561,371.1 L567,367.3 M567,367.3 L573,363.5 L579,359.6 L585,355.8" fill="none" stroke="#fff" stroke-opacity="0.30" stroke-width="0.8"/>
<path d="M711,261.3 L717,256.8 L723,252.2 L729,247.6 M729,247.6 L735,243 L741,238.4 L747,233.7 M747,233.7 L753,229 L759,224.4 L765,219.6 M765,219.6 L771,214.9 L777,210.1 L783,205.4 M783,205.4 L789,200.6 L795,195.8 L801,190.9 M801,190.9 L807,186.1 L813,181.2 L819,176.3 M819,176.3 L825,171.4 L831,166.5 L837,161.6 M837,161.6 L843,156.6 L849,151.7 L855,146.7 M855,146.7 L861,141.8 L867,136.8 L873,131.9 M873,131.9 L879,126.9 L885,122 L891,117.1 M891,117.1 L897,112.1 L903,107.2 L909,102.4 M909,102.4 L915,97.5 L921,92.7 L927,87.8 M927,87.8 L933,83.1 L939,78.3 L945,73.6 M945,73.6 L951,68.9 L957,64.3 L963,59.7 M477,418.5 L483,415.3 L489,412 L495,408.6 M585,355.8 L591,351.8 L597,347.9 L603,343.9 M603,343.9 L609,339.8 L615,335.8 L621,331.7 M621,331.7 L627,327.6 L633,323.4 L639,319.3" fill="none" stroke="#fff" stroke-opacity="0.35" stroke-width="0.8"/>
<path d="M495,408.6 L501,405.2 L507,401.8 L513,398.3 M639,319.3 L645,315 L651,310.8 L657,306.5 M657,306.5 L663,302.3 L669,297.9 L675,293.6 M675,293.6 L681,289.2 L687,284.8 L693,280.4 M693,280.4 L699,276 L705,271.5 L711,267 M711,267 L717,262.5 L723,258 L729,253.4" fill="none" stroke="#fff" stroke-opacity="0.40" stroke-width="0.8"/>
<path d="M513,398.3 L519,394.8 L525,391.2 L531,387.6 M729,253.4 L735,248.8 L741,244.2 L747,239.6 M747,239.6 L753,235 L759,230.3 L765,225.7 M765,225.7 L771,221 L777,216.3 L783,211.6 M783,211.6 L789,206.8 L795,202.1 L801,197.3 M801,197.3 L807,192.6 L813,187.8 L819,183 M819,183 L825,178.1 L831,173.3 L837,168.5 M837,168.5 L843,163.6 L849,158.8 L855,153.9 M855,153.9 L861,149.1 L867,144.2 L873,139.3 M873,139.3 L879,134.5 L885,129.6 L891,124.7 M891,124.7 L897,119.8 L903,115 L909,110.1 M909,110.1 L915,105.3 L921,100.4 L927,95.6 M927,95.6 L933,90.7 L939,85.9 L945,81.1 M945,81.1 L951,76.3 L957,71.5 L963,66.8" fill="none" stroke="#fff" stroke-opacity="0.45" stroke-width="0.8"/>
<path d="M531,387.6 L537,383.9 L543,380.3 L549,376.6" fill="none" stroke="#fff" stroke-opacity="0.50" stroke-width="0.8"/>
<path d="M549,376.6 L555,372.8 L561,369 L567,365.2" fill="none" stroke="#fff" stroke-opacity="0.55" stroke-width="0.8"/>
<path d="M567,365.2 L573,361.4 L579,357.5 L585,353.6" fill="none" stroke="#fff" stroke-opacity="0.60" stroke-width="0.8"/>
<path d="M585,353.6 L591,349.6 L597,345.6 L603,341.6" fill="none" stroke="#fff" stroke-opacity="0.65" stroke-width="0.8"/>
<path d="M603,341.6 L609,337.6 L615,333.5 L621,329.4 M621,329.4 L627,325.3 L633,321.1 L639,316.9 M639,316.9 L645,312.7 L651,308.4 L657,304.2" fill="none" stroke="#fff" stroke-opacity="0.70" stroke-width="0.8"/>
<path d="M657,304.2 L663,299.9 L669,295.5 L675,291.2 M675,291.2 L681,286.8 L687,282.4 L693,277.9" fill="none" stroke="#fff" stroke-opacity="0.75" stroke-width="0.8"/>
<path d="M693,277.9 L699,273.5 L705,269 L711,264.5 M711,264.5 L717,260 L723,255.4 L729,250.9 M729,250.9 L735,246.3 L741,241.7 L747,237" fill="none" stroke="#fff" stroke-opacity="0.80" stroke-width="0.8"/>
<path d="M747,237 L753,232.4 L759,227.7 L765,223 M765,223 L771,218.3 L777,213.6 L783,208.8 M783,208.8 L789,204.1 L795,199.3 L801,194.5 M801,194.5 L807,189.7 L813,184.9 L819,180 M819,180 L825,175.2 L831,170.3 L837,165.5 M837,165.5 L843,160.6 L849,155.7 L855,150.8 M855,150.8 L861,145.9 L867,141 L873,136.1 M873,136.1 L879,131.1 L885,126.2 L891,121.4 M891,121.4 L897,116.5 L903,111.6 L909,106.7 M909,106.7 L915,101.8 L921,97 L927,92.2 M927,92.2 L933,87.4 L939,82.6 L945,77.8 M945,77.8 L951,73.1 L957,68.3 L963,63.7" fill="none" stroke="#fff" stroke-opacity="0.85" stroke-width="0.8"/>
<path d="M117,502 L123,501.8 L129,501.7 L135,501.6 L141,501.5 L147,501.4 L153,501.3 L159,501.3 L165,501.2 L171,501.2 L177,501.1 L183,501 L189,500.9 L195,500.8 L201,500.6 L207,500.4 L213,500.2 L219,499.9 L225,499.6 L231,499.2 L237,498.7 L243,498.1 L249,497.5 L255,496.8 L261,496 L267,495.2 L273,494.2 L279,493.1 L285,491.9 L291,490.6 L297,489.2 L303,487.7 L309,486 L315,484.3 L321,482.4 L327,480.4 L333,478.3 L339,476.2 L345,473.9 L351,471.6 L357,469.3 L363,466.8 L369,464.3 L375,461.7 L381,459.1 L387,456.4 L393,453.6 L399,450.7 L405,447.8 L411,444.9 L417,441.8 L423,438.7 L429,435.6 L435,432.4 L441,429.1 L447,425.8 L453,422.4 L459,419 L465,415.5 L471,412 L477,408.4 L483,404.8 L489,401.1 L495,397.4 L501,393.6 L507,389.7 L513,385.9 L519,381.9 L525,378 L531,374 L537,369.9 L543,365.8 L549,361.7 L555,357.5 L561,353.3 L567,349.1 L573,344.8 L579,340.5 L585,336.1 L591,331.7 L597,327.3 L603,322.8 L609,318.3 L615,313.8 L621,309.3 L627,304.7 L633,300.1 L639,295.5 L645,290.8 L651,286.2 L657,281.5 L663,276.7 L669,272 L675,267.2 L681,262.4 L687,257.6 L693,252.8 L699,248 L705,243.1 L711,238.3 L717,233.4 L723,228.5 L729,223.6 L735,218.7 L741,213.7 L747,208.8 L753,203.8 L759,198.9 L765,193.9 L771,188.9 L777,184 L783,179 L789,174 L795,169 L801,164.1 L807,159.1 L813,154.1 L819,149.1 L825,144.1 L831,139.2 L837,134.2 L843,129.2 L849,124.3 L855,119.3 L861,114.4 L867,109.4 L873,104.5 L879,99.6 L885,94.7 L891,89.8 L897,85 L903,80.1 L909,75.3 L915,70.4 L921,65.6 L927,60.8 L933,56.1 L939,51.3 L945,46.6 L951,41.9 L957,37.2 L963,32.6 L963,46.6 L957,51.5 L951,56.4 L945,61.3 L939,66.2 L933,71.1 L927,76 L921,80.9 L915,85.8 L909,90.7 L903,95.6 L897,100.5 L891,105.4 L885,110.3 L879,115.2 L873,120 L867,124.9 L861,129.7 L855,134.6 L849,139.4 L843,144.3 L837,149.1 L831,153.9 L825,158.8 L819,163.6 L813,168.4 L807,173.2 L801,177.9 L795,182.7 L789,187.5 L783,192.2 L777,197 L771,201.7 L765,206.4 L759,211.1 L753,215.8 L747,220.5 L741,225.2 L735,229.8 L729,234.5 L723,239.1 L717,243.7 L711,248.3 L705,252.9 L699,257.5 L693,262 L687,266.5 L681,271.1 L675,275.6 L669,280.1 L663,284.5 L657,289 L651,293.4 L645,297.8 L639,302.2 L633,306.6 L627,310.9 L621,315.3 L615,319.6 L609,323.9 L603,328.2 L597,332.4 L591,336.6 L585,340.8 L579,345 L573,349.2 L567,353.3 L561,357.4 L555,361.5 L549,365.6 L543,369.6 L537,373.6 L531,377.6 L525,381.6 L519,385.5 L513,389.4 L507,393.3 L501,397.1 L495,400.9 L489,404.6 L483,408.3 L477,412 L471,415.6 L465,419.2 L459,422.7 L453,426.1 L447,429.5 L441,432.9 L435,436.2 L429,439.4 L423,442.5 L417,445.6 L411,448.7 L405,451.6 L399,454.5 L393,457.3 L387,460 L381,462.7 L375,465.3 L369,467.8 L363,470.2 L357,472.5 L351,474.8 L345,476.9 L339,479 L333,480.9 L327,482.8 L321,484.6 L315,486.2 L309,487.8 L303,489.3 L297,490.8 L291,492.2 L285,493.5 L279,494.7 L273,495.8 L267,496.8 L261,497.6 L255,498.4 L249,499.1 L243,499.7 L237,500.3 L231,500.8 L225,501.2 L219,501.5 L213,501.8 L207,502 L201,502.2 L195,502.4 L189,502.5 L183,502.6 L177,502.7 L171,502.8 L165,502.8 L159,502.9 L153,502.9 L147,503 L141,503.1 L135,503.2 L129,503.3 L123,503.4 L117,503.6Z" fill="#e99a4c" stroke="#e99a4c" stroke-width="0.6"/>
<path d="M117,503.6 L123,503.4 L129,503.3 L135,503.2 L141,503.1 L147,503 L153,502.9 L159,502.9 L165,502.8 L171,502.8 L177,502.7 L183,502.6 L189,502.5 L195,502.4 L201,502.2 L207,502 L213,501.8 L219,501.5 L225,501.2 L231,500.8 L237,500.3 L243,499.7 L249,499.1 L255,498.4 L261,497.6 L267,496.8 L273,495.8 L279,494.7 L285,493.5 L291,492.2 L297,490.8 L303,489.3 L309,487.8 L315,486.2 L321,484.6 L327,482.8 L333,480.9 L339,479 L345,476.9 L351,474.8 L357,472.5 L363,470.2 L369,467.8 L375,465.3 L381,462.7 L387,460 L393,457.3 L399,454.5 L405,451.6 L411,448.7 L417,445.6 L423,442.5 L429,439.4 L435,436.2 L441,432.9 L447,429.5 L453,426.1 L459,422.7 L465,419.2 L471,415.6 L477,412 L483,408.3 L489,404.6 L495,400.9 L501,397.1 L507,393.3 L513,389.4 L519,385.5 L525,381.6 L531,377.6 L537,373.6 L543,369.6 L549,365.6 L555,361.5 L561,357.4 L567,353.3 L573,349.1 L579,344.9 L585,340.6 L591,336.3 L597,332 L603,327.7 L609,323.3 L615,318.9 L621,314.5 L627,310.1 L633,305.6 L639,301.1 L645,296.5 L651,291.9 L657,287.3 L663,282.7 L669,278 L675,273.3 L681,268.5 L687,263.8 L693,259 L699,254.2 L705,249.3 L711,244.5 L717,239.8 L723,235.1 L729,230.3 L735,225.6 L741,220.8 L747,216 L753,211.3 L759,206.5 L765,201.7 L771,196.9 L777,192 L783,187.2 L789,182.4 L795,177.5 L801,172.7 L807,167.8 L813,162.9 L819,158.1 L825,153.2 L831,148.3 L837,143.4 L843,138.6 L849,133.7 L855,128.8 L861,123.9 L867,119 L873,114.1 L879,109.2 L885,104.4 L891,99.5 L897,94.6 L903,89.7 L909,84.9 L915,80 L921,75.1 L927,70.3 L933,65.4 L939,60.6 L945,55.7 L951,50.9 L957,46.1 L963,41.3 L963,46.6 L957,51.5 L951,56.4 L945,61.3 L939,66.2 L933,71.1 L927,76 L921,80.9 L915,85.8 L909,90.7 L903,95.6 L897,100.5 L891,105.4 L885,110.3 L879,115.2 L873,120 L867,124.9 L861,129.7 L855,134.6 L849,139.4 L843,144.3 L837,149.1 L831,153.9 L825,158.8 L819,163.6 L813,168.4 L807,173.2 L801,177.9 L795,182.7 L789,187.5 L783,192.2 L777,197 L771,201.7 L765,206.4 L759,211.1 L753,215.8 L747,220.5 L741,225.2 L735,229.8 L729,234.5 L723,239.1 L717,243.7 L711,248.3 L705,252.9 L699,257.5 L693,262 L687,266.5 L681,271.1 L675,275.6 L669,280.1 L663,284.5 L657,289 L651,293.4 L645,297.8 L639,302.2 L633,306.6 L627,310.9 L621,315.3 L615,319.6 L609,323.9 L603,328.2 L597,332.4 L591,336.6 L585,340.8 L579,345 L573,349.2 L567,353.3 L561,357.4 L555,361.5 L549,365.6 L543,369.6 L537,373.6 L531,377.6 L525,381.6 L519,385.5 L513,389.4 L507,393.3 L501,397.1 L495,400.9 L489,404.6 L483,408.3 L477,412 L471,415.6 L465,419.2 L459,422.7 L453,426.1 L447,429.5 L441,432.9 L435,436.2 L429,439.4 L423,442.5 L417,445.6 L411,448.7 L405,451.6 L399,454.5 L393,457.3 L387,460 L381,462.7 L375,465.3 L369,467.8 L363,470.2 L357,472.5 L351,474.8 L345,476.9 L339,479 L333,480.9 L327,482.8 L321,484.6 L315,486.2 L309,487.8 L303,489.3 L297,490.8 L291,492.2 L285,493.5 L279,494.7 L273,495.8 L267,496.8 L261,497.6 L255,498.4 L249,499.1 L243,499.7 L237,500.3 L231,500.8 L225,501.2 L219,501.5 L213,501.8 L207,502 L201,502.2 L195,502.4 L189,502.5 L183,502.6 L177,502.7 L171,502.8 L165,502.8 L159,502.9 L153,502.9 L147,503 L141,503.1 L135,503.2 L129,503.3 L123,503.4 L117,503.6Z" fill="#f2bd85" fill-opacity="0.55"/>
<path d="M585,337.5 L591,333.2 L597,328.8 L603,324.4 M603,324.4 L609,320 L615,315.6 L621,311.1 M567,351.5 L573,347.3 L579,343.1 L585,338.8 M567,352.5 L573,348.3 L579,344.1 L585,339.9 M585,339.9 L591,335.7 L597,331.4 L603,327.1" fill="none" stroke="#fff" stroke-opacity="0.05" stroke-width="0.8"/>
<path d="M621,311.1 L627,306.6 L633,302.1 L639,297.5 M585,338.8 L591,334.6 L597,330.3 L603,325.9 M603,327.1 L609,322.8 L615,318.4 L621,314.1" fill="none" stroke="#fff" stroke-opacity="0.10" stroke-width="0.8"/>
<path d="M639,297.5 L645,292.9 L651,288.3 L657,283.7 M657,283.7 L663,279.1 L669,274.4 L675,269.7 M621,314.1 L627,309.7 L633,305.3 L639,300.9" fill="none" stroke="#fff" stroke-opacity="0.15" stroke-width="0.8"/>
<path d="M675,269.7 L681,265 L687,260.3 L693,255.6 M603,325.9 L609,321.6 L615,317.2 L621,312.8 M639,300.9 L645,296.4 L651,292 L657,287.5 M657,287.5 L663,283 L669,278.4 L675,273.9" fill="none" stroke="#fff" stroke-opacity="0.20" stroke-width="0.8"/>
<path d="M693,255.6 L699,250.8 L705,246.1 L711,241.3 M621,312.8 L627,308.3 L633,303.9 L639,299.4 M675,273.9 L681,269.3 L687,264.8 L693,260.2" fill="none" stroke="#fff" stroke-opacity="0.25" stroke-width="0.8"/>
<path d="M711,241.3 L717,236.5 L723,231.7 L729,226.8 M729,226.8 L735,222 L741,217.2 L747,212.3 M693,260.2 L699,255.6 L705,250.9 L711,246.3" fill="none" stroke="#fff" stroke-opacity="0.30" stroke-width="0.8"/>
<path d="M747,212.3 L753,207.4 L759,202.6 L765,197.7 M765,197.7 L771,192.8 L777,187.9 L783,183 M783,183 L789,178.1 L795,173.1 L801,168.2 M801,168.2 L807,163.3 L813,158.4 L819,153.4 M819,153.4 L825,148.5 L831,143.6 L837,138.7 M837,138.7 L843,133.7 L849,128.8 L855,123.9 M855,123.9 L861,119 L867,114.1 L873,109.2 M873,109.2 L879,104.3 L885,99.4 L891,94.5 M891,94.5 L897,89.6 L903,84.8 L909,79.9 M909,79.9 L915,75.1 L921,70.2 L927,65.4 M927,65.4 L933,60.6 L939,55.8 L945,51 M945,51 L951,46.2 L957,41.5 L963,36.8 M639,299.4 L645,294.9 L651,290.4 L657,285.8 M711,246.3 L717,241.6 L723,237 L729,232.3" fill="none" stroke="#fff" stroke-opacity="0.35" stroke-width="0.8"/>
<path d="M657,285.8 L663,281.3 L669,276.7 L675,272.1 M729,232.3 L735,227.6 L741,222.9 L747,218.2" fill="none" stroke="#fff" stroke-opacity="0.40" stroke-width="0.8"/>
<path d="M747,218.2 L753,213.4 L759,208.7 L765,203.9 M765,203.9 L771,199.1 L777,194.4 L783,189.6 M783,189.6 L789,184.8 L795,180 L801,175.2 M801,175.2 L807,170.3 L813,165.5 L819,160.7 M819,160.7 L825,155.8 L831,151 L837,146.1 M837,146.1 L843,141.3 L849,136.4 L855,131.5 M855,131.5 L861,126.7 L867,121.8 L873,116.9 M873,116.9 L879,112 L885,107.2 L891,102.3 M891,102.3 L897,97.4 L903,92.5 L909,87.6 M909,87.6 L915,82.8 L921,77.9 L927,73 M927,73 L933,68.1 L939,63.3 L945,58.4 M945,58.4 L951,53.5 L957,48.7 L963,43.8" fill="none" stroke="#fff" stroke-opacity="0.45" stroke-width="0.8"/>
<path d="M675,272.1 L681,267.4 L687,262.8 L693,258.2" fill="none" stroke="#fff" stroke-opacity="0.50" stroke-width="0.8"/>
<path d="M693,258.2 L699,253.5 L705,248.8 L711,244.1" fill="none" stroke="#fff" stroke-opacity="0.60" stroke-width="0.8"/>
<path d="M711,244.1 L717,239.4 L723,234.6 L729,229.9" fill="none" stroke="#fff" stroke-opacity="0.70" stroke-width="0.8"/>
<path d="M729,229.9 L735,225.1 L741,220.4 L747,215.6" fill="none" stroke="#fff" stroke-opacity="0.80" stroke-width="0.8"/>
<path d="M747,215.6 L753,210.8 L759,206 L765,201.2 M765,201.2 L771,196.3 L777,191.5 L783,186.7 M783,186.7 L789,181.8 L795,177 L801,172.1 M801,172.1 L807,167.2 L813,162.4 L819,157.5 M819,157.5 L825,152.6 L831,147.7 L837,142.8 M837,142.8 L843,138 L849,133.1 L855,128.2 M855,128.2 L861,123.3 L867,118.4 L873,113.5 M873,113.5 L879,108.6 L885,103.7 L891,98.9 M891,98.9 L897,94 L903,89.1 L909,84.2 M909,84.2 L915,79.4 L921,74.5 L927,69.7 M927,69.7 L933,64.8 L939,60 L945,55.1 M945,55.1 L951,50.3 L957,45.5 L963,40.7" fill="none" stroke="#fff" stroke-opacity="0.85" stroke-width="0.8"/>
<path d="M117,501.9 L123,501.8 L129,501.7 L135,501.7 L141,501.6 L147,501.5 L153,501.5 L159,501.4 L165,501.4 L171,501.3 L177,501.2 L183,501.1 L189,501 L195,500.8 L201,500.6 L207,500.4 L213,500.1 L219,499.8 L225,499.4 L231,498.9 L237,498.4 L243,497.8 L249,497.2 L255,496.4 L261,495.6 L267,494.7 L273,493.7 L279,492.6 L285,491.3 L291,490 L297,488.6 L303,487 L309,485.3 L315,483.6 L321,481.7 L327,479.6 L333,477.5 L339,475.3 L345,473 L351,470.6 L357,468.1 L363,465.5 L369,462.8 L375,460 L381,457.1 L387,454.2 L393,451.2 L399,448.1 L405,444.9 L411,441.6 L417,438.3 L423,434.9 L429,431.5 L435,427.9 L441,424.3 L447,420.7 L453,417 L459,413.2 L465,409.4 L471,405.5 L477,401.6 L483,397.7 L489,393.7 L495,389.6 L501,385.5 L507,381.4 L513,377.2 L519,373 L525,368.8 L531,364.5 L537,360.3 L543,356 L549,351.6 L555,347.3 L561,342.9 L567,338.5 L573,334.1 L579,329.6 L585,325.2 L591,320.7 L597,316.2 L603,311.7 L609,307.1 L615,302.6 L621,298 L627,293.4 L633,288.8 L639,284.1 L645,279.5 L651,274.8 L657,270.1 L663,265.4 L669,260.7 L675,255.9 L681,251.2 L687,246.4 L693,241.6 L699,236.8 L705,232 L711,227.2 L717,222.3 L723,217.4 L729,212.6 L735,207.7 L741,202.8 L747,197.9 L753,192.9 L759,188 L765,183 L771,178.1 L777,173.1 L783,168.1 L789,163.1 L795,158.1 L801,153.1 L807,148 L813,143 L819,138 L825,132.9 L831,127.8 L837,122.8 L843,117.7 L849,112.6 L855,107.5 L861,102.4 L867,97.3 L873,92.1 L879,87 L885,81.9 L891,76.7 L897,71.6 L903,66.5 L909,61.3 L915,56.1 L921,51 L927,45.8 L933,40.6 L939,35.5 L945,30.3 L951,25.1 L957,19.9 L963,14.7 L963,29.5 L957,34.1 L951,38.8 L945,43.5 L939,48.2 L933,52.9 L927,57.7 L921,62.5 L915,67.3 L909,72.1 L903,76.9 L897,81.8 L891,86.7 L885,91.6 L879,96.5 L873,101.4 L867,106.4 L861,111.3 L855,116.3 L849,121.2 L843,126.2 L837,131.2 L831,136.2 L825,141.2 L819,146.2 L813,151.2 L807,156.2 L801,161.3 L795,166.3 L789,171.3 L783,176.3 L777,181.3 L771,186.3 L765,191.3 L759,196.3 L753,201.3 L747,206.3 L741,211.3 L735,216.3 L729,221.3 L723,226.2 L717,231.2 L711,236.1 L705,241 L699,245.9 L693,250.8 L687,255.7 L681,260.5 L675,265.4 L669,270.2 L663,275 L657,279.8 L651,284.5 L645,289.2 L639,293.9 L633,298.6 L627,303.3 L621,307.9 L615,312.5 L609,317.1 L603,321.6 L597,326.1 L591,330.6 L585,335 L579,339.4 L573,343.8 L567,348.1 L561,352.4 L555,356.7 L549,360.9 L543,365.1 L537,369.2 L531,373.3 L525,377.4 L519,381.4 L513,385.3 L507,389.2 L501,393.1 L495,396.9 L489,400.7 L483,404.4 L477,408.1 L471,411.7 L465,415.3 L459,418.8 L453,422.3 L447,425.7 L441,429 L435,432.3 L429,435.5 L423,438.7 L417,441.8 L411,444.8 L405,447.8 L399,450.7 L393,453.6 L387,456.4 L381,459.1 L375,461.8 L369,464.4 L363,467.1 L357,469.7 L351,472.2 L345,474.6 L339,476.9 L333,479.1 L327,481.2 L321,483.3 L315,485.2 L309,486.9 L303,488.6 L297,490.2 L291,491.6 L285,492.9 L279,494.2 L273,495.3 L267,496.3 L261,497.2 L255,498 L249,498.8 L243,499.4 L237,500 L231,500.5 L225,501 L219,501.4 L213,501.7 L207,502 L201,502.2 L195,502.4 L189,502.6 L183,502.7 L177,502.8 L171,502.9 L165,503 L159,503 L153,503.1 L147,503.1 L141,503.2 L135,503.3 L129,503.3 L123,503.4 L117,503.5Z" fill="#858585" stroke="#858585" stroke-width="0.6"/>
<path d="M117,503.5 L123,503.4 L129,503.3 L135,503.3 L141,503.2 L147,503.1 L153,503.1 L159,503 L165,503 L171,502.9 L177,502.8 L183,502.7 L189,502.6 L195,502.4 L201,502.2 L207,502 L213,501.7 L219,501.4 L225,501 L231,500.5 L237,500 L243,499.4 L249,498.8 L255,498 L261,497.2 L267,496.3 L273,495.3 L279,494.2 L285,492.9 L291,491.6 L297,490.2 L303,488.6 L309,486.9 L315,485.2 L321,483.3 L327,481.2 L333,479.1 L339,476.9 L345,474.6 L351,472.2 L357,469.7 L363,467.1 L369,464.4 L375,461.8 L381,459.1 L387,456.4 L393,453.6 L399,450.7 L405,447.8 L411,444.8 L417,441.8 L423,438.7 L429,435.5 L435,432.2 L441,428.8 L447,425.4 L453,421.8 L459,418.2 L465,414.6 L471,410.9 L477,407.1 L483,403.2 L489,399.3 L495,395.4 L501,391.4 L507,387.3 L513,383.2 L519,379.1 L525,374.9 L531,370.7 L537,366.4 L543,362.1 L549,357.8 L555,353.5 L561,349.1 L567,344.7 L573,340.3 L579,335.8 L585,331.4 L591,326.9 L597,322.4 L603,317.9 L609,313.3 L615,308.8 L621,304.2 L627,299.6 L633,295 L639,290.3 L645,285.7 L651,281 L657,276.3 L663,271.6 L669,266.9 L675,262.1 L681,257.4 L687,252.6 L693,247.8 L699,243 L705,238.1 L711,233.3 L717,228.4 L723,223.6 L729,218.7 L735,213.8 L741,208.9 L747,203.9 L753,199 L759,194 L765,189.1 L771,184.1 L777,179.1 L783,174.1 L789,169.1 L795,164.1 L801,159.1 L807,154.1 L813,149 L819,144 L825,138.9 L831,133.9 L837,128.8 L843,123.8 L849,118.7 L855,113.6 L861,108.5 L867,103.4 L873,98.3 L879,93.2 L885,88.1 L891,82.9 L897,77.9 L903,73 L909,68 L915,63 L921,58.1 L927,53.2 L933,48.3 L939,43.4 L945,38.5 L951,33.6 L957,28.7 L963,23.9 L963,29.5 L957,34.1 L951,38.8 L945,43.5 L939,48.2 L933,52.9 L927,57.7 L921,62.5 L915,67.3 L909,72.1 L903,76.9 L897,81.8 L891,86.7 L885,91.6 L879,96.5 L873,101.4 L867,106.4 L861,111.3 L855,116.3 L849,121.2 L843,126.2 L837,131.2 L831,136.2 L825,141.2 L819,146.2 L813,151.2 L807,156.2 L801,161.3 L795,166.3 L789,171.3 L783,176.3 L777,181.3 L771,186.3 L765,191.3 L759,196.3 L753,201.3 L747,206.3 L741,211.3 L735,216.3 L729,221.3 L723,226.2 L717,231.2 L711,236.1 L705,241 L699,245.9 L693,250.8 L687,255.7 L681,260.5 L675,265.4 L669,270.2 L663,275 L657,279.8 L651,284.5 L645,289.2 L639,293.9 L633,298.6 L627,303.3 L621,307.9 L615,312.5 L609,317.1 L603,321.6 L597,326.1 L591,330.6 L585,335 L579,339.4 L573,343.8 L567,348.1 L561,352.4 L555,356.7 L549,360.9 L543,365.1 L537,369.2 L531,373.3 L525,377.4 L519,381.4 L513,385.3 L507,389.2 L501,393.1 L495,396.9 L489,400.7 L483,404.4 L477,408.1 L471,411.7 L465,415.3 L459,418.8 L453,422.3 L447,425.7 L441,429 L435,432.3 L429,435.5 L423,438.7 L417,441.8 L411,444.8 L405,447.8 L399,450.7 L393,453.6 L387,456.4 L381,459.1 L375,461.8 L369,464.4 L363,467.1 L357,469.7 L351,472.2 L345,474.6 L339,476.9 L333,479.1 L327,481.2 L321,483.3 L315,485.2 L309,486.9 L303,488.6 L297,490.2 L291,491.6 L285,492.9 L279,494.2 L273,495.3 L267,496.3 L261,497.2 L255,498 L249,498.8 L243,499.4 L237,500 L231,500.5 L225,501 L219,501.4 L213,501.7 L207,502 L201,502.2 L195,502.4 L189,502.6 L183,502.7 L177,502.8 L171,502.9 L165,503 L159,503 L153,503.1 L147,503.1 L141,503.2 L135,503.3 L129,503.3 L123,503.4 L117,503.5Z" fill="#bdbdbd" fill-opacity="0.55"/>
<path d="M441,425.7 L447,422.2 L453,418.6 L459,414.9 M441,428.1 L447,424.7 L453,421.2 L459,417.7" fill="none" stroke="#fff" stroke-opacity="0.05" stroke-width="0.8"/>
<path d="M459,414.9 L465,411.2 L471,407.4 L477,403.6 M441,427 L447,423.6 L453,420 L459,416.5 M459,417.7 L465,414.1 L471,410.5 L477,406.8" fill="none" stroke="#fff" stroke-opacity="0.10" stroke-width="0.8"/>
<path d="M477,403.6 L483,399.7 L489,395.8 L495,391.8 M495,391.8 L501,387.8 L507,383.7 L513,379.7 M477,406.8 L483,403.1 L489,399.3 L495,395.5" fill="none" stroke="#fff" stroke-opacity="0.15" stroke-width="0.8"/>
<path d="M513,379.7 L519,375.5 L525,371.4 L531,367.2 M531,367.2 L537,362.9 L543,358.7 L549,354.4 M693,244.4 L699,239.5 L705,234.7 L711,229.8 M711,229.8 L717,225 L723,220.1 L729,215.2 M729,215.2 L735,210.3 L741,205.3 L747,200.4 M747,200.4 L753,195.5 L759,190.5 L765,185.5 M765,185.5 L771,180.6 L777,175.6 L783,170.6 M783,170.6 L789,165.6 L795,160.5 L801,155.5 M801,155.5 L807,150.5 L813,145.5 L819,140.4 M819,140.4 L825,135.4 L831,130.3 L837,125.3 M837,125.3 L843,120.2 L849,115.2 L855,110.1 M855,110.1 L861,105.1 L867,100 L873,94.9 M459,416.5 L465,412.8 L471,409.1 L477,405.4 M495,395.5 L501,391.6 L507,387.7 L513,383.7" fill="none" stroke="#fff" stroke-opacity="0.20" stroke-width="0.8"/>
<path d="M549,354.4 L555,350.1 L561,345.8 L567,341.4 M567,341.4 L573,337 L579,332.6 L585,328.1 M585,328.1 L591,323.7 L597,319.2 L603,314.6 M603,314.6 L609,310.1 L615,305.5 L621,301 M621,301 L627,296.4 L633,291.7 L639,287.1 M639,287.1 L645,282.4 L651,277.7 L657,273 M657,273 L663,268.3 L669,263.5 L675,258.8 M675,258.8 L681,254 L687,249.2 L693,244.4 M873,94.9 L879,89.9 L885,84.8 L891,79.7 M513,383.7 L519,379.7 L525,375.6 L531,371.6 M711,234.3 L717,229.4 L723,224.5 L729,219.5 M729,219.5 L735,214.6 L741,209.6 L747,204.6 M747,204.6 L753,199.7 L759,194.7 L765,189.7 M765,189.7 L771,184.7 L777,179.7 L783,174.7 M783,174.7 L789,169.7 L795,164.6 L801,159.6 M801,159.6 L807,154.6 L813,149.6 L819,144.6 M819,144.6 L825,139.5 L831,134.5 L837,129.5 M837,129.5 L843,124.5 L849,119.5 L855,114.5" fill="none" stroke="#fff" stroke-opacity="0.25" stroke-width="0.8"/>
<path d="M891,79.7 L897,74.7 L903,69.6 L909,64.5 M909,64.5 L915,59.5 L921,54.4 L927,49.4 M477,405.4 L483,401.6 L489,397.7 L495,393.9 M531,371.6 L537,367.4 L543,363.2 L549,359 M549,359 L555,354.8 L561,350.5 L567,346.2 M567,346.2 L573,341.8 L579,337.5 L585,333 M639,292 L645,287.3 L651,282.6 L657,277.8 M657,277.8 L663,273.1 L669,268.3 L675,263.5 M675,263.5 L681,258.7 L687,253.8 L693,249 M693,249 L699,244.1 L705,239.2 L711,234.3 M855,114.5 L861,109.5 L867,104.5 L873,99.6 M873,99.6 L879,94.6 L885,89.6 L891,84.7" fill="none" stroke="#fff" stroke-opacity="0.30" stroke-width="0.8"/>
<path d="M927,49.4 L933,44.3 L939,39.3 L945,34.2 M945,34.2 L951,29.2 L957,24.2 L963,19.2 M585,333 L591,328.6 L597,324.1 L603,319.6 M603,319.6 L609,315.1 L615,310.5 L621,305.9 M621,305.9 L627,301.3 L633,296.6 L639,292 M891,84.7 L897,79.8 L903,74.8 L909,69.9" fill="none" stroke="#fff" stroke-opacity="0.35" stroke-width="0.8"/>
<path d="M495,393.9 L501,389.9 L507,385.9 L513,381.9 M909,69.9 L915,65.1 L921,60.2 L927,55.3" fill="none" stroke="#fff" stroke-opacity="0.40" stroke-width="0.8"/>
<path d="M513,381.9 L519,377.9 L525,373.8 L531,369.6 M747,202.8 L753,197.8 L759,192.8 L765,187.9 M765,187.9 L771,182.9 L777,177.9 L783,172.9 M783,172.9 L789,167.9 L795,162.8 L801,157.8 M801,157.8 L807,152.8 L813,147.8 L819,142.7 M819,142.7 L825,137.7 L831,132.7 L837,127.7 M927,55.3 L933,50.5 L939,45.6 L945,40.8 M945,40.8 L951,36 L957,31.3 L963,26.5" fill="none" stroke="#fff" stroke-opacity="0.45" stroke-width="0.8"/>
<path d="M711,232.3 L717,227.4 L723,222.5 L729,217.6 M729,217.6 L735,212.7 L741,207.7 L747,202.8 M837,127.7 L843,122.6 L849,117.6 L855,112.6" fill="none" stroke="#fff" stroke-opacity="0.50" stroke-width="0.8"/>
<path d="M531,369.6 L537,365.5 L543,361.2 L549,357 M675,261.4 L681,256.6 L687,251.8 L693,246.9 M693,246.9 L699,242.1 L705,237.2 L711,232.3 M855,112.6 L861,107.6 L867,102.5 L873,97.5" fill="none" stroke="#fff" stroke-opacity="0.55" stroke-width="0.8"/>
<path d="M549,357 L555,352.7 L561,348.4 L567,344.1 M567,344.1 L573,339.7 L579,335.3 L585,330.9 M585,330.9 L591,326.4 L597,321.9 L603,317.4 M621,303.7 L627,299.1 L633,294.5 L639,289.8 M639,289.8 L645,285.1 L651,280.4 L657,275.7 M657,275.7 L663,271 L669,266.2 L675,261.4 M873,97.5 L879,92.5 L885,87.5 L891,82.5" fill="none" stroke="#fff" stroke-opacity="0.60" stroke-width="0.8"/>
<path d="M603,317.4 L609,312.9 L615,308.3 L621,303.7" fill="none" stroke="#fff" stroke-opacity="0.65" stroke-width="0.8"/>
<path d="M891,82.5 L897,77.5 L903,72.5 L909,67.6" fill="none" stroke="#fff" stroke-opacity="0.70" stroke-width="0.8"/>
<path d="M909,67.6 L915,62.6 L921,57.6 L927,52.7" fill="none" stroke="#fff" stroke-opacity="0.80" stroke-width="0.8"/>
<path d="M927,52.7 L933,47.8 L939,42.8 L945,37.9 M945,37.9 L951,33 L957,28.2 L963,23.3" fill="none" stroke="#fff" stroke-opacity="0.85" stroke-width="0.8"/>
<path d="M117,502 L123,501.9 L129,501.8 L135,501.8 L141,501.7 L147,501.6 L153,501.6 L159,501.5 L165,501.4 L171,501.2 L177,501.1 L183,501 L189,500.8 L195,500.6 L201,500.3 L207,500.1 L213,499.8 L219,499.4 L225,499.1 L231,498.6 L237,498.1 L243,497.6 L249,497 L255,496.3 L261,495.5 L267,494.6 L273,493.6 L279,492.5 L285,491.3 L291,489.9 L297,488.4 L303,486.7 L309,484.9 L315,483 L321,480.9 L327,478.7 L333,476.4 L339,474 L345,471.5 L351,469 L357,466.3 L363,463.6 L369,460.7 L375,457.8 L381,454.8 L387,451.7 L393,448.5 L399,445.3 L405,442 L411,438.6 L417,435.2 L423,431.6 L429,428.1 L435,424.4 L441,420.7 L447,416.9 L453,413.1 L459,409.3 L465,405.3 L471,401.4 L477,397.3 L483,393.3 L489,389.2 L495,385 L501,380.9 L507,376.6 L513,372.4 L519,368.1 L525,363.8 L531,359.5 L537,355.1 L543,350.7 L549,346.3 L555,341.9 L561,337.4 L567,333 L573,328.5 L579,324 L585,319.4 L591,314.9 L597,310.3 L603,305.7 L609,301.1 L615,296.5 L621,291.9 L627,287.2 L633,282.5 L639,277.8 L645,273.1 L651,268.4 L657,263.6 L663,258.8 L669,254 L675,249.2 L681,244.4 L687,239.5 L693,234.7 L699,229.8 L705,224.9 L711,220 L717,215.1 L723,210.1 L729,205.1 L735,200.2 L741,195.2 L747,190.2 L753,185.1 L759,180.1 L765,175 L771,169.9 L777,164.8 L783,159.7 L789,154.6 L795,149.5 L801,144.3 L807,139.1 L813,134 L819,128.8 L825,123.6 L831,118.3 L837,113.1 L843,107.8 L849,102.6 L855,97.3 L861,92 L867,86.7 L873,81.4 L879,76 L885,70.7 L891,65.3 L897,59.9 L903,54.5 L909,49.1 L915,43.7 L921,38.3 L927,32.9 L933,27.4 L939,22 L945,16.5 L951,11 L957,5.5 L963,0 L963,14.7 L957,19.9 L951,25.1 L945,30.3 L939,35.5 L933,40.6 L927,45.8 L921,51 L915,56.1 L909,61.3 L903,66.5 L897,71.6 L891,76.7 L885,81.9 L879,87 L873,92.1 L867,97.3 L861,102.4 L855,107.5 L849,112.6 L843,117.7 L837,122.8 L831,127.8 L825,132.9 L819,138 L813,143 L807,148 L801,153.1 L795,158.1 L789,163.1 L783,168.1 L777,173.1 L771,178.1 L765,183 L759,188 L753,192.9 L747,197.9 L741,202.8 L735,207.7 L729,212.6 L723,217.4 L717,222.3 L711,227.2 L705,232 L699,236.8 L693,241.6 L687,246.4 L681,251.2 L675,255.9 L669,260.7 L663,265.4 L657,270.1 L651,274.8 L645,279.5 L639,284.1 L633,288.8 L627,293.4 L621,298 L615,302.6 L609,307.1 L603,311.7 L597,316.2 L591,320.7 L585,325.2 L579,329.6 L573,334.1 L567,338.5 L561,342.9 L555,347.3 L549,351.6 L543,356 L537,360.3 L531,364.5 L525,368.8 L519,373 L513,377.2 L507,381.4 L501,385.5 L495,389.6 L489,393.7 L483,397.7 L477,401.6 L471,405.5 L465,409.4 L459,413.2 L453,417 L447,420.7 L441,424.3 L435,427.9 L429,431.5 L423,434.9 L417,438.3 L411,441.6 L405,444.9 L399,448.1 L393,451.2 L387,454.2 L381,457.1 L375,460 L369,462.8 L363,465.5 L357,468.1 L351,470.6 L345,473.1 L339,475.6 L333,478 L327,480.3 L321,482.5 L315,484.6 L309,486.5 L303,488.3 L297,490 L291,491.5 L285,492.9 L279,494.1 L273,495.2 L267,496.2 L261,497.1 L255,497.9 L249,498.6 L243,499.2 L237,499.7 L231,500.2 L225,500.7 L219,501 L213,501.4 L207,501.7 L201,501.9 L195,502.2 L189,502.4 L183,502.6 L177,502.7 L171,502.8 L165,503 L159,503.1 L153,503.2 L147,503.2 L141,503.3 L135,503.4 L129,503.4 L123,503.5 L117,503.6Z" fill="#4f7fae" stroke="#4f7fae" stroke-width="0.6"/>
<path d="M117,503.6 L123,503.5 L129,503.4 L135,503.4 L141,503.3 L147,503.2 L153,503.2 L159,503.1 L165,503 L171,502.8 L177,502.7 L183,502.6 L189,502.4 L195,502.2 L201,501.9 L207,501.7 L213,501.4 L219,501 L225,500.7 L231,500.2 L237,499.7 L243,499.2 L249,498.6 L255,497.9 L261,497.1 L267,496.2 L273,495.2 L279,494.1 L285,492.9 L291,491.5 L297,490 L303,488.3 L309,486.5 L315,484.6 L321,482.5 L327,480.3 L333,478 L339,475.6 L345,473.1 L351,470.6 L357,468.1 L363,465.5 L369,462.8 L375,460 L381,457.1 L387,454.2 L393,451.2 L399,448.1 L405,444.9 L411,441.6 L417,438.3 L423,434.9 L429,431.5 L435,427.9 L441,424.3 L447,420.7 L453,417 L459,413.2 L465,409.4 L471,405.5 L477,401.6 L483,397.6 L489,393.5 L495,389.4 L501,385.3 L507,381.2 L513,377 L519,372.7 L525,368.5 L531,364.2 L537,359.9 L543,355.5 L549,351.2 L555,346.8 L561,342.4 L567,338 L573,333.5 L579,329 L585,324.5 L591,320 L597,315.5 L603,310.9 L609,306.4 L615,301.8 L621,297.2 L627,292.5 L633,287.9 L639,283.2 L645,278.5 L651,273.8 L657,269.1 L663,264.3 L669,259.6 L675,254.8 L681,250 L687,245.2 L693,240.3 L699,235.5 L705,230.6 L711,225.7 L717,220.8 L723,215.9 L729,211 L735,206 L741,201 L747,196.1 L753,191 L759,186 L765,181 L771,175.9 L777,170.9 L783,165.8 L789,160.7 L795,155.6 L801,150.4 L807,145.3 L813,140.1 L819,134.9 L825,129.7 L831,124.5 L837,119.3 L843,114 L849,108.8 L855,103.6 L861,98.4 L867,93.2 L873,88 L879,82.8 L885,77.6 L891,72.4 L897,67.2 L903,61.9 L909,56.7 L915,51.4 L921,46.2 L927,40.9 L933,35.6 L939,30.3 L945,25 L951,19.8 L957,14.4 L963,9.1 L963,14.7 L957,19.9 L951,25.1 L945,30.3 L939,35.5 L933,40.6 L927,45.8 L921,51 L915,56.1 L909,61.3 L903,66.5 L897,71.6 L891,76.7 L885,81.9 L879,87 L873,92.1 L867,97.3 L861,102.4 L855,107.5 L849,112.6 L843,117.7 L837,122.8 L831,127.8 L825,132.9 L819,138 L813,143 L807,148 L801,153.1 L795,158.1 L789,163.1 L783,168.1 L777,173.1 L771,178.1 L765,183 L759,188 L753,192.9 L747,197.9 L741,202.8 L735,207.7 L729,212.6 L723,217.4 L717,222.3 L711,227.2 L705,232 L699,236.8 L693,241.6 L687,246.4 L681,251.2 L675,255.9 L669,260.7 L663,265.4 L657,270.1 L651,274.8 L645,279.5 L639,284.1 L633,288.8 L627,293.4 L621,298 L615,302.6 L609,307.1 L603,311.7 L597,316.2 L591,320.7 L585,325.2 L579,329.6 L573,334.1 L567,338.5 L561,342.9 L555,347.3 L549,351.6 L543,356 L537,360.3 L531,364.5 L525,368.8 L519,373 L513,377.2 L507,381.4 L501,385.5 L495,389.6 L489,393.7 L483,397.7 L477,401.6 L471,405.5 L465,409.4 L459,413.2 L453,417 L447,420.7 L441,424.3 L435,427.9 L429,431.5 L423,434.9 L417,438.3 L411,441.6 L405,444.9 L399,448.1 L393,451.2 L387,454.2 L381,457.1 L375,460 L369,462.8 L363,465.5 L357,468.1 L351,470.6 L345,473.1 L339,475.6 L333,478 L327,480.3 L321,482.5 L315,484.6 L309,486.5 L303,488.3 L297,490 L291,491.5 L285,492.9 L279,494.1 L273,495.2 L267,496.2 L261,497.1 L255,497.9 L249,498.6 L243,499.2 L237,499.7 L231,500.2 L225,500.7 L219,501 L213,501.4 L207,501.7 L201,501.9 L195,502.2 L189,502.4 L183,502.6 L177,502.7 L171,502.8 L165,503 L159,503.1 L153,503.2 L147,503.2 L141,503.3 L135,503.4 L129,503.4 L123,503.5 L117,503.6Z" fill="#95b2cd" fill-opacity="0.55"/>
<path d="M495,386.4 L501,382.3 L507,378.1 L513,373.8 M513,373.8 L519,369.6 L525,365.3 L531,361 M531,361 L537,356.6 L543,352.3 L549,347.9 M549,347.9 L555,343.5 L561,339.1 L567,334.6 M567,334.6 L573,330.2 L579,325.7 L585,321.2 M477,399.8 L483,395.8 L489,391.8 L495,387.7 M495,388.7 L501,384.6 L507,380.4 L513,376.3 M513,376.3 L519,372 L525,367.8 L531,363.5 M531,363.5 L537,359.2 L543,354.9 L549,350.6" fill="none" stroke="#fff" stroke-opacity="0.05" stroke-width="0.8"/>
<path d="M585,321.2 L591,316.6 L597,312.1 L603,307.5 M603,307.5 L609,302.9 L615,298.3 L621,293.7 M621,293.7 L627,289.1 L633,284.4 L639,279.7 M639,279.7 L645,275 L651,270.3 L657,265.6 M657,265.6 L663,260.8 L669,256 L675,251.2 M675,251.2 L681,246.4 L687,241.6 L693,236.8 M495,387.7 L501,383.6 L507,379.4 L513,375.2 M513,375.2 L519,371 L525,366.7 L531,362.4 M549,350.6 L555,346.2 L561,341.8 L567,337.4 M567,337.4 L573,333 L579,328.5 L585,324 M585,324 L591,319.5 L597,315 L603,310.5 M603,310.5 L609,305.9 L615,301.4 L621,296.8 M621,296.8 L627,292.1 L633,287.5 L639,282.9" fill="none" stroke="#fff" stroke-opacity="0.10" stroke-width="0.8"/>
<path d="M693,236.8 L699,231.9 L705,227 L711,222.1 M711,222.1 L717,217.2 L723,212.3 L729,207.4 M729,207.4 L735,202.4 L741,197.5 L747,192.5 M747,192.5 L753,187.5 L759,182.5 L765,177.4 M531,362.4 L537,358.1 L543,353.8 L549,349.4 M549,349.4 L555,345 L561,340.6 L567,336.2 M567,336.2 L573,331.7 L579,327.3 L585,322.8 M639,282.9 L645,278.2 L651,273.5 L657,268.8 M657,268.8 L663,264.1 L669,259.4 L675,254.6 M675,254.6 L681,249.8 L687,245 L693,240.2 M693,240.2 L699,235.4 L705,230.6 L711,225.7" fill="none" stroke="#fff" stroke-opacity="0.15" stroke-width="0.8"/>
<path d="M765,177.4 L771,172.4 L777,167.3 L783,162.2 M783,162.2 L789,157.2 L795,152.1 L801,146.9 M801,146.9 L807,141.8 L813,136.7 L819,131.5 M585,322.8 L591,318.3 L597,313.7 L603,309.2 M603,309.2 L609,304.6 L615,300 L621,295.4 M711,225.7 L717,220.9 L723,216 L729,211.1 M729,211.1 L735,206.2 L741,201.3 L747,196.3 M747,196.3 L753,191.4 L759,186.4 L765,181.4" fill="none" stroke="#fff" stroke-opacity="0.20" stroke-width="0.8"/>
<path d="M819,131.5 L825,126.4 L831,121.2 L837,116 M837,116 L843,110.8 L849,105.6 L855,100.3 M621,295.4 L627,290.8 L633,286.1 L639,281.5 M639,281.5 L645,276.8 L651,272.1 L657,267.4 M765,181.4 L771,176.4 L777,171.4 L783,166.4 M783,166.4 L789,161.4 L795,156.4 L801,151.3" fill="none" stroke="#fff" stroke-opacity="0.25" stroke-width="0.8"/>
<path d="M855,100.3 L861,95.1 L867,89.9 L873,84.6 M873,84.6 L879,79.3 L885,74 L891,68.7 M657,267.4 L663,262.6 L669,257.9 L675,253.1 M675,253.1 L681,248.3 L687,243.5 L693,238.7 M693,238.7 L699,233.9 L705,229 L711,224.1 M801,151.3 L807,146.3 L813,141.2 L819,136.1 M819,136.1 L825,131 L831,125.9 L837,120.8" fill="none" stroke="#fff" stroke-opacity="0.30" stroke-width="0.8"/>
<path d="M891,68.7 L897,63.4 L903,58.1 L909,52.8 M909,52.8 L915,47.5 L921,42.1 L927,36.8 M927,36.8 L933,31.4 L939,26 L945,20.6 M945,20.6 L951,15.2 L957,9.8 L963,4.4 M711,224.1 L717,219.3 L723,214.4 L729,209.5 M837,120.8 L843,115.7 L849,110.6 L855,105.4 M855,105.4 L861,100.3 L867,95.1 L873,90" fill="none" stroke="#fff" stroke-opacity="0.35" stroke-width="0.8"/>
<path d="M729,209.5 L735,204.5 L741,199.6 L747,194.6 M747,194.6 L753,189.7 L759,184.7 L765,179.7 M873,90 L879,84.8 L885,79.6 L891,74.5" fill="none" stroke="#fff" stroke-opacity="0.40" stroke-width="0.8"/>
<path d="M765,179.7 L771,174.7 L777,169.6 L783,164.6 M891,74.5 L897,69.3 L903,64.1 L909,58.9 M909,58.9 L915,53.7 L921,48.4 L927,43.2 M927,43.2 L933,38 L939,32.8 L945,27.5 M945,27.5 L951,22.3 L957,17 L963,11.8" fill="none" stroke="#fff" stroke-opacity="0.45" stroke-width="0.8"/>
<path d="M783,164.6 L789,159.5 L795,154.5 L801,149.4" fill="none" stroke="#fff" stroke-opacity="0.50" stroke-width="0.8"/>
<path d="M801,149.4 L807,144.3 L813,139.2 L819,134.1" fill="none" stroke="#fff" stroke-opacity="0.55" stroke-width="0.8"/>
<path d="M819,134.1 L825,129 L831,123.8 L837,118.7" fill="none" stroke="#fff" stroke-opacity="0.60" stroke-width="0.8"/>
<path d="M837,118.7 L843,113.5 L849,108.4 L855,103.2" fill="none" stroke="#fff" stroke-opacity="0.65" stroke-width="0.8"/>
<path d="M855,103.2 L861,98 L867,92.8 L873,87.6" fill="none" stroke="#fff" stroke-opacity="0.70" stroke-width="0.8"/>
<path d="M873,87.6 L879,82.4 L885,77.2 L891,71.9" fill="none" stroke="#fff" stroke-opacity="0.75" stroke-width="0.8"/>
<path d="M891,71.9 L897,66.7 L903,61.5 L909,56.2 M909,56.2 L915,50.9 L921,45.7 L927,40.4 M927,40.4 L933,35.1 L939,29.8 L945,24.5 M945,24.5 L951,19.2 L957,13.9 L963,8.6" fill="none" stroke="#fff" stroke-opacity="0.85" stroke-width="0.8"/>
<path d="M117,502 L123,502 L129,502 L135,502 L141,501.9 L147,501.9 L153,501.8 L159,501.6 L165,501.5 L171,501.3 L177,501.2 L183,500.9 L189,500.7 L195,500.4 L201,500.1 L207,499.8 L213,499.5 L219,499.1 L225,498.7 L231,498.3 L237,497.8 L243,497.2 L249,496.6 L255,496 L261,495.2 L267,494.3 L273,493.3 L279,492.2 L285,490.9 L291,489.5 L297,487.9 L303,486.1 L309,484.2 L315,482.1 L321,479.9 L327,477.6 L333,475.2 L339,472.7 L345,470.1 L351,467.5 L357,464.7 L363,461.8 L369,458.9 L375,455.8 L381,452.7 L387,449.5 L393,446.2 L399,442.8 L405,439.3 L411,435.8 L417,432.2 L423,428.6 L429,424.8 L435,421 L441,417.2 L447,413.3 L453,409.3 L459,405.3 L465,401.2 L471,397.1 L477,392.9 L483,388.7 L489,384.5 L495,380.2 L501,375.9 L507,371.5 L513,367.1 L519,362.7 L525,358.3 L531,353.8 L537,349.4 L543,344.9 L549,340.4 L555,335.8 L561,331.3 L567,326.8 L573,322.2 L579,317.6 L585,313 L591,308.4 L597,303.8 L603,299.1 L609,294.5 L615,289.8 L621,285.1 L627,280.4 L633,275.7 L639,271 L645,266.2 L651,261.5 L657,256.7 L663,251.9 L669,247.1 L675,242.3 L681,237.4 L687,232.6 L693,227.7 L699,222.8 L705,217.9 L711,213 L717,208.1 L723,203.2 L729,198.2 L735,193.3 L741,188.3 L747,183.3 L753,178.3 L759,173.3 L765,168.2 L771,163.2 L777,158.1 L783,153 L789,147.9 L795,142.8 L801,137.7 L807,132.5 L813,127.4 L819,122.2 L825,117 L831,111.8 L837,106.6 L843,101.4 L849,96.2 L855,90.9 L861,85.6 L867,80.4 L873,75.1 L879,69.8 L885,64.4 L891,59.1 L897,53.7 L903,48.4 L909,43 L915,37.6 L921,32.2 L927,26.8 L933,21.3 L939,15.9 L945,10.4 L951,5 L957,-0.5 L963,-6 L963,0 L957,5.5 L951,11 L945,16.5 L939,22 L933,27.4 L927,32.9 L921,38.3 L915,43.7 L909,49.1 L903,54.5 L897,59.9 L891,65.3 L885,70.7 L879,76 L873,81.4 L867,86.7 L861,92 L855,97.3 L849,102.6 L843,107.8 L837,113.1 L831,118.3 L825,123.6 L819,128.8 L813,134 L807,139.1 L801,144.3 L795,149.5 L789,154.6 L783,159.7 L777,164.8 L771,169.9 L765,175 L759,180.1 L753,185.1 L747,190.2 L741,195.2 L735,200.2 L729,205.1 L723,210.1 L717,215.1 L711,220 L705,224.9 L699,229.8 L693,234.7 L687,239.5 L681,244.4 L675,249.2 L669,254 L663,258.8 L657,263.6 L651,268.4 L645,273.1 L639,277.8 L633,282.5 L627,287.2 L621,291.9 L615,296.5 L609,301.1 L603,305.7 L597,310.3 L591,314.9 L585,319.4 L579,324 L573,328.5 L567,333 L561,337.4 L555,341.9 L549,346.3 L543,350.7 L537,355.1 L531,359.5 L525,363.8 L519,368.1 L513,372.4 L507,376.6 L501,380.9 L495,385 L489,389.2 L483,393.3 L477,397.3 L471,401.4 L465,405.3 L459,409.3 L453,413.1 L447,416.9 L441,420.7 L435,424.4 L429,428.1 L423,431.6 L417,435.2 L411,438.6 L405,442 L399,445.3 L393,448.5 L387,451.7 L381,454.8 L375,457.8 L369,460.7 L363,463.6 L357,466.3 L351,469.1 L345,471.7 L339,474.3 L333,476.8 L327,479.2 L321,481.5 L315,483.7 L309,485.8 L303,487.7 L297,489.5 L291,491.1 L285,492.5 L279,493.8 L273,494.9 L267,495.9 L261,496.8 L255,497.6 L249,498.2 L243,498.8 L237,499.4 L231,499.9 L225,500.3 L219,500.7 L213,501.1 L207,501.4 L201,501.7 L195,502 L189,502.3 L183,502.5 L177,502.8 L171,502.9 L165,503.1 L159,503.2 L153,503.4 L147,503.5 L141,503.5 L135,503.6 L129,503.6 L123,503.6 L117,503.6Z" fill="#2ba6df" stroke="#2ba6df" stroke-width="0.6"/>
<path d="M117,503.6 L123,503.6 L129,503.6 L135,503.6 L141,503.5 L147,503.5 L153,503.4 L159,503.2 L165,503.1 L171,502.9 L177,502.8 L183,502.5 L189,502.3 L195,502 L201,501.7 L207,501.4 L213,501.1 L219,500.7 L225,500.3 L231,499.9 L237,499.4 L243,498.8 L249,498.2 L255,497.6 L261,496.8 L267,495.9 L273,494.9 L279,493.8 L285,492.5 L291,491.1 L297,489.5 L303,487.7 L309,485.8 L315,483.7 L321,481.5 L327,479.2 L333,476.8 L339,474.3 L345,471.7 L351,469.1 L357,466.3 L363,463.6 L369,460.7 L375,457.8 L381,454.8 L387,451.7 L393,448.5 L399,445.3 L405,442 L411,438.6 L417,435.2 L423,431.6 L429,428.1 L435,424.4 L441,420.7 L447,416.9 L453,413.1 L459,409.3 L465,405.3 L471,401.3 L477,397.2 L483,393.1 L489,389 L495,384.8 L501,380.5 L507,376.3 L513,372 L519,367.6 L525,363.3 L531,358.9 L537,354.5 L543,350 L549,345.6 L555,341.1 L561,336.6 L567,332.1 L573,327.6 L579,323 L585,318.5 L591,313.9 L597,309.3 L603,304.6 L609,300 L615,295.4 L621,290.7 L627,286 L633,281.3 L639,276.6 L645,271.8 L651,267.1 L657,262.3 L663,257.5 L669,252.7 L675,247.9 L681,243.1 L687,238.2 L693,233.4 L699,228.5 L705,223.6 L711,218.7 L717,213.8 L723,208.8 L729,203.9 L735,198.9 L741,193.9 L747,188.9 L753,183.9 L759,178.9 L765,173.8 L771,168.7 L777,163.7 L783,158.6 L789,153.5 L795,148.3 L801,143.2 L807,138.1 L813,132.9 L819,127.7 L825,122.5 L831,117.3 L837,112.1 L843,106.8 L849,101.6 L855,96.3 L861,91 L867,85.8 L873,80.4 L879,75.1 L885,69.8 L891,64.4 L897,59.1 L903,53.7 L909,48.3 L915,42.9 L921,37.5 L927,32.1 L933,26.6 L939,21.2 L945,15.7 L951,10.2 L957,4.7 L963,-0.8 L963,0 L957,5.5 L951,11 L945,16.5 L939,22 L933,27.4 L927,32.9 L921,38.3 L915,43.7 L909,49.1 L903,54.5 L897,59.9 L891,65.3 L885,70.7 L879,76 L873,81.4 L867,86.7 L861,92 L855,97.3 L849,102.6 L843,107.8 L837,113.1 L831,118.3 L825,123.6 L819,128.8 L813,134 L807,139.1 L801,144.3 L795,149.5 L789,154.6 L783,159.7 L777,164.8 L771,169.9 L765,175 L759,180.1 L753,185.1 L747,190.2 L741,195.2 L735,200.2 L729,205.1 L723,210.1 L717,215.1 L711,220 L705,224.9 L699,229.8 L693,234.7 L687,239.5 L681,244.4 L675,249.2 L669,254 L663,258.8 L657,263.6 L651,268.4 L645,273.1 L639,277.8 L633,282.5 L627,287.2 L621,291.9 L615,296.5 L609,301.1 L603,305.7 L597,310.3 L591,314.9 L585,319.4 L579,324 L573,328.5 L567,333 L561,337.4 L555,341.9 L549,346.3 L543,350.7 L537,355.1 L531,359.5 L525,363.8 L519,368.1 L513,372.4 L507,376.6 L501,380.9 L495,385 L489,389.2 L483,393.3 L477,397.3 L471,401.4 L465,405.3 L459,409.3 L453,413.1 L447,416.9 L441,420.7 L435,424.4 L429,428.1 L423,431.6 L417,435.2 L411,438.6 L405,442 L399,445.3 L393,448.5 L387,451.7 L381,454.8 L375,457.8 L369,460.7 L363,463.6 L357,466.3 L351,469.1 L345,471.7 L339,474.3 L333,476.8 L327,479.2 L321,481.5 L315,483.7 L309,485.8 L303,487.7 L297,489.5 L291,491.1 L285,492.5 L279,493.8 L273,494.9 L267,495.9 L261,496.8 L255,497.6 L249,498.2 L243,498.8 L237,499.4 L231,499.9 L225,500.3 L219,500.7 L213,501.1 L207,501.4 L201,501.7 L195,502 L189,502.3 L183,502.5 L177,502.8 L171,502.9 L165,503.1 L159,503.2 L153,503.4 L147,503.5 L141,503.5 L135,503.6 L129,503.6 L123,503.6 L117,503.6Z" fill="#7fcbef" fill-opacity="0.55"/>
<path d="M477,394.3 L483,390.1 L489,385.9 L495,381.6 M495,381.6 L501,377.4 L507,373.1 L513,368.7 M513,368.7 L519,364.3 L525,359.9 L531,355.5 M477,395.5 L483,391.4 L489,387.2 L495,383 M477,396.5 L483,392.4 L489,388.2 L495,384.1 M495,384.1 L501,379.9 L507,375.6 L513,371.3" fill="none" stroke="#fff" stroke-opacity="0.05" stroke-width="0.8"/>
<path d="M531,355.5 L537,351.1 L543,346.6 L549,342.1 M549,342.1 L555,337.7 L561,333.1 L567,328.6 M567,328.6 L573,324.1 L579,319.5 L585,314.9 M585,314.9 L591,310.3 L597,305.7 L603,301.1 M603,301.1 L609,296.5 L615,291.8 L621,287.1 M621,287.1 L627,282.5 L633,277.7 L639,273 M747,185.3 L753,180.3 L759,175.3 L765,170.3 M765,170.3 L771,165.2 L777,160.1 L783,155 M783,155 L789,149.9 L795,144.8 L801,139.7 M801,139.7 L807,134.5 L813,129.4 L819,124.2 M819,124.2 L825,119 L831,113.8 L837,108.6 M837,108.6 L843,103.3 L849,98.1 L855,92.8 M855,92.8 L861,87.5 L867,82.3 L873,77 M873,77 L879,71.6 L885,66.3 L891,61 M891,61 L897,55.6 L903,50.2 L909,44.8 M909,44.8 L915,39.4 L921,34 L927,28.6 M927,28.6 L933,23.2 L939,17.7 L945,12.2 M945,12.2 L951,6.8 L957,1.3 L963,-4.2 M495,383 L501,378.8 L507,374.5 L513,370.2 M513,371.3 L519,367 L525,362.7 L531,358.3 M531,358.3 L537,353.9 L543,349.5 L549,345.1 M549,345.1 L555,340.7 L561,336.2 L567,331.7 M891,64.1 L897,58.7 L903,53.3 L909,47.9 M909,47.9 L915,42.5 L921,37.1 L927,31.7 M927,31.7 L933,26.2 L939,20.7 L945,15.3 M945,15.3 L951,9.8 L957,4.3 L963,-1.2" fill="none" stroke="#fff" stroke-opacity="0.10" stroke-width="0.8"/>
<path d="M639,273 L645,268.3 L651,263.5 L657,258.8 M657,258.8 L663,254 L669,249.2 L675,244.4 M675,244.4 L681,239.5 L687,234.7 L693,229.8 M693,229.8 L699,224.9 L705,220 L711,215.1 M711,215.1 L717,210.2 L723,205.3 L729,200.3 M729,200.3 L735,195.3 L741,190.3 L747,185.3 M513,370.2 L519,365.8 L525,361.5 L531,357.1 M567,331.7 L573,327.2 L579,322.7 L585,318.2 M585,318.2 L591,313.6 L597,309 L603,304.4 M603,304.4 L609,299.8 L615,295.2 L621,290.5 M621,290.5 L627,285.8 L633,281.2 L639,276.4 M639,276.4 L645,271.7 L651,267 L657,262.2 M657,262.2 L663,257.4 L669,252.6 L675,247.8 M675,247.8 L681,243 L687,238.2 L693,233.3 M693,233.3 L699,228.4 L705,223.5 L711,218.6 M711,218.6 L717,213.7 L723,208.7 L729,203.8 M729,203.8 L735,198.8 L741,193.8 L747,188.8 M747,188.8 L753,183.8 L759,178.7 L765,173.7 M765,173.7 L771,168.6 L777,163.5 L783,158.4 M783,158.4 L789,153.3 L795,148.1 L801,143 M801,143 L807,137.8 L813,132.6 L819,127.5 M819,127.5 L825,122.3 L831,117 L837,111.8 M837,111.8 L843,106.5 L849,101.3 L855,96 M855,96 L861,90.7 L867,85.4 L873,80.1 M873,80.1 L879,74.8 L885,69.4 L891,64.1" fill="none" stroke="#fff" stroke-opacity="0.15" stroke-width="0.8"/>
<path d="M531,357.1 L537,352.7 L543,348.3 L549,343.8 M549,343.8 L555,339.3 L561,334.9 L567,330.4 M909,46.6 L915,41.2 L921,35.7 L927,30.3 M927,30.3 L933,24.9 L939,19.4 L945,13.9 M945,13.9 L951,8.5 L957,3 L963,-2.5" fill="none" stroke="#fff" stroke-opacity="0.20" stroke-width="0.8"/>
<path d="M567,330.4 L573,325.8 L579,321.3 L585,316.7 M585,316.7 L591,312.2 L597,307.6 L603,303 M819,126 L825,120.8 L831,115.6 L837,110.4 M837,110.4 L843,105.1 L849,99.9 L855,94.6 M855,94.6 L861,89.3 L867,84 L873,78.7 M873,78.7 L879,73.4 L885,68 L891,62.7 M891,62.7 L897,57.3 L903,52 L909,46.6" fill="none" stroke="#fff" stroke-opacity="0.25" stroke-width="0.8"/>
<path d="M603,303 L609,298.3 L615,293.7 L621,289 M621,289 L627,284.3 L633,279.7 L639,274.9 M639,274.9 L645,270.2 L651,265.5 L657,260.7 M657,260.7 L663,255.9 L669,251.1 L675,246.3 M675,246.3 L681,241.5 L687,236.6 L693,231.8 M693,231.8 L699,226.9 L705,222 L711,217.1 M711,217.1 L717,212.1 L723,207.2 L729,202.2 M729,202.2 L735,197.3 L741,192.3 L747,187.3 M747,187.3 L753,182.2 L759,177.2 L765,172.2 M765,172.2 L771,167.1 L777,162 L783,156.9 M783,156.9 L789,151.8 L795,146.7 L801,141.5 M801,141.5 L807,136.4 L813,131.2 L819,126" fill="none" stroke="#fff" stroke-opacity="0.30" stroke-width="0.8"/>
<path d="M117,502 L123,501.8 L129,501.7 L135,501.6 L141,501.5 L147,501.4 L153,501.3 L159,501.2 L165,501.1 L171,501 L177,500.9 L183,500.7 L189,500.6 L195,500.3 L201,500.1 L207,499.8 L213,499.5 L219,499.1 L225,498.6 L231,498.1 L237,497.5 L243,496.9 L249,496.2 L255,495.4 L261,494.6 L267,493.6 L273,492.6 L279,491.5 L285,490.2 L291,488.8 L297,487.2 L303,485.5 L309,483.5 L315,481.4 L321,479.1 L327,476.7 L333,474.3 L339,471.8 L345,469.1 L351,466.4 L357,463.6 L363,460.7 L369,457.7 L375,454.6 L381,451.4 L387,448.1 L393,444.8 L399,441.4 L405,437.9 L411,434.3 L417,430.6 L423,426.9 L429,423.1 L435,419.3 L441,415.4 L447,411.4 L453,407.4 L459,403.3 L465,399.2 L471,395 L477,390.8 L483,386.6 L489,382.3 L495,377.9 L501,373.6 L507,369.2 L513,364.7 L519,360.3 L525,355.8 L531,351.3 L537,346.8 L543,342.2 L549,337.7 L555,333.1 L561,328.6 L567,324 L573,319.4 L579,314.7 L585,310.1 L591,305.4 L597,300.8 L603,296.1 L609,291.4 L615,286.7 L621,282 L627,277.3 L633,272.5 L639,267.7 L645,263 L651,258.2 L657,253.4 L663,248.6 L669,243.7 L675,238.9 L681,234 L687,229.1 L693,224.3 L699,219.3 L705,214.4 L711,209.5 L717,204.6 L723,199.6 L729,194.6 L735,189.6 L741,184.6 L747,179.6 L753,174.6 L759,169.6 L765,164.5 L771,159.4 L777,154.3 L783,149.3 L789,144.1 L795,139 L801,133.9 L807,128.7 L813,123.6 L819,118.4 L825,113.2 L831,108 L837,102.8 L843,97.5 L849,92.3 L855,87 L861,81.7 L867,76.5 L873,71.2 L879,65.8 L885,60.5 L891,55.2 L897,49.8 L903,44.4 L909,39.1 L915,33.7 L921,28.2 L927,22.8 L933,17.4 L939,11.9 L945,6.5 L951,1 L957,-4.5 L963,-10 L963,-6 L957,-0.5 L951,5 L945,10.4 L939,15.9 L933,21.3 L927,26.8 L921,32.2 L915,37.6 L909,43 L903,48.4 L897,53.7 L891,59.1 L885,64.4 L879,69.8 L873,75.1 L867,80.4 L861,85.6 L855,90.9 L849,96.2 L843,101.4 L837,106.6 L831,111.8 L825,117 L819,122.2 L813,127.4 L807,132.5 L801,137.7 L795,142.8 L789,147.9 L783,153 L777,158.1 L771,163.2 L765,168.2 L759,173.3 L753,178.3 L747,183.3 L741,188.3 L735,193.3 L729,198.2 L723,203.2 L717,208.1 L711,213 L705,217.9 L699,222.8 L693,227.7 L687,232.6 L681,237.4 L675,242.3 L669,247.1 L663,251.9 L657,256.7 L651,261.5 L645,266.2 L639,271 L633,275.7 L627,280.4 L621,285.1 L615,289.8 L609,294.5 L603,299.1 L597,303.8 L591,308.4 L585,313 L579,317.6 L573,322.2 L567,326.8 L561,331.3 L555,335.8 L549,340.4 L543,344.9 L537,349.4 L531,353.8 L525,358.3 L519,362.7 L513,367.1 L507,371.5 L501,375.9 L495,380.2 L489,384.5 L483,388.7 L477,392.9 L471,397.1 L465,401.2 L459,405.3 L453,409.3 L447,413.3 L441,417.2 L435,421 L429,424.8 L423,428.6 L417,432.2 L411,435.9 L405,439.5 L399,443 L393,446.4 L387,449.7 L381,453 L375,456.2 L369,459.3 L363,462.3 L357,465.2 L351,468 L345,470.7 L339,473.4 L333,475.9 L327,478.3 L321,480.7 L315,483 L309,485.1 L303,487.1 L297,488.8 L291,490.4 L285,491.8 L279,493.1 L273,494.2 L267,495.2 L261,496.2 L255,497 L249,497.8 L243,498.5 L237,499.1 L231,499.7 L225,500.2 L219,500.7 L213,501.1 L207,501.4 L201,501.7 L195,501.9 L189,502.2 L183,502.3 L177,502.5 L171,502.6 L165,502.7 L159,502.8 L153,502.9 L147,503 L141,503.1 L135,503.2 L129,503.3 L123,503.4 L117,503.6Z" fill="#3e9868" stroke="#3e9868" stroke-width="0.6"/>
<path d="M117,503.6 L123,503.4 L129,503.3 L135,503.2 L141,503.1 L147,503 L153,502.9 L159,502.8 L165,502.7 L171,502.6 L177,502.5 L183,502.3 L189,502.2 L195,501.9 L201,501.7 L207,501.4 L213,501.1 L219,500.7 L225,500.2 L231,499.7 L237,499.1 L243,498.5 L249,497.8 L255,497 L261,496.2 L267,495.2 L273,494.2 L279,493.1 L285,491.8 L291,490.4 L297,488.8 L303,487.1 L309,485.1 L315,483 L321,480.7 L327,478.3 L333,475.9 L339,473.4 L345,470.7 L351,468 L357,465.2 L363,462.3 L369,459.3 L375,456.2 L381,453 L387,449.7 L393,446.4 L399,443 L405,439.5 L411,435.9 L417,432.2 L423,428.6 L429,424.8 L435,421 L441,417.2 L447,413.3 L453,409.3 L459,405.3 L465,401.2 L471,397.1 L477,392.9 L483,388.7 L489,384.5 L495,380.2 L501,375.9 L507,371.5 L513,367.1 L519,362.7 L525,358.3 L531,353.8 L537,349.4 L543,344.9 L549,340.4 L555,335.8 L561,331.3 L567,326.8 L573,322.2 L579,317.6 L585,313 L591,308.4 L597,303.8 L603,299.1 L609,294.5 L615,289.8 L621,285.1 L627,280.4 L633,275.7 L639,271 L645,266.2 L651,261.5 L657,256.7 L663,251.9 L669,247.1 L675,242.3 L681,237.4 L687,232.6 L693,227.7 L699,222.8 L705,217.9 L711,213 L717,208.1 L723,203.2 L729,198.2 L735,193.3 L741,188.3 L747,183.3 L753,178.3 L759,173.3 L765,168.2 L771,163.2 L777,158.1 L783,153 L789,147.9 L795,142.8 L801,137.7 L807,132.5 L813,127.4 L819,122.2 L825,117 L831,111.8 L837,106.6 L843,101.4 L849,96.2 L855,90.9 L861,85.6 L867,80.4 L873,75.1 L879,69.8 L885,64.4 L891,59.1 L897,53.7 L903,48.4 L909,43 L915,37.6 L921,32.2 L927,26.8 L933,21.3 L939,15.9 L945,10.4 L951,5 L957,-0.5 L963,-6 L963,-6 L957,-0.5 L951,5 L945,10.4 L939,15.9 L933,21.3 L927,26.8 L921,32.2 L915,37.6 L909,43 L903,48.4 L897,53.7 L891,59.1 L885,64.4 L879,69.8 L873,75.1 L867,80.4 L861,85.6 L855,90.9 L849,96.2 L843,101.4 L837,106.6 L831,111.8 L825,117 L819,122.2 L813,127.4 L807,132.5 L801,137.7 L795,142.8 L789,147.9 L783,153 L777,158.1 L771,163.2 L765,168.2 L759,173.3 L753,178.3 L747,183.3 L741,188.3 L735,193.3 L729,198.2 L723,203.2 L717,208.1 L711,213 L705,217.9 L699,222.8 L693,227.7 L687,232.6 L681,237.4 L675,242.3 L669,247.1 L663,251.9 L657,256.7 L651,261.5 L645,266.2 L639,271 L633,275.7 L627,280.4 L621,285.1 L615,289.8 L609,294.5 L603,299.1 L597,303.8 L591,308.4 L585,313 L579,317.6 L573,322.2 L567,326.8 L561,331.3 L555,335.8 L549,340.4 L543,344.9 L537,349.4 L531,353.8 L525,358.3 L519,362.7 L513,367.1 L507,371.5 L501,375.9 L495,380.2 L489,384.5 L483,388.7 L477,392.9 L471,397.1 L465,401.2 L459,405.3 L453,409.3 L447,413.3 L441,417.2 L435,421 L429,424.8 L423,428.6 L417,432.2 L411,435.9 L405,439.5 L399,443 L393,446.4 L387,449.7 L381,453 L375,456.2 L369,459.3 L363,462.3 L357,465.2 L351,468 L345,470.7 L339,473.4 L333,475.9 L327,478.3 L321,480.7 L315,483 L309,485.1 L303,487.1 L297,488.8 L291,490.4 L285,491.8 L279,493.1 L273,494.2 L267,495.2 L261,496.2 L255,497 L249,497.8 L243,498.5 L237,499.1 L231,499.7 L225,500.2 L219,500.7 L213,501.1 L207,501.4 L201,501.7 L195,501.9 L189,502.2 L183,502.3 L177,502.5 L171,502.6 L165,502.7 L159,502.8 L153,502.9 L147,503 L141,503.1 L135,503.2 L129,503.3 L123,503.4 L117,503.6Z" fill="#3e9868" fill-opacity="0.55"/>
<path d="M117,502 L123,501.9 L129,501.8 L135,501.7 L141,501.6 L147,501.5 L153,501.3 L159,501.1 L165,500.9 L171,500.7 L177,500.4 L183,500.1 L189,499.8 L195,499.4 L201,499 L207,498.5 L213,498 L219,497.4 L225,496.8 L231,496.2 L237,495.4 L243,494.6 L249,493.8 L255,492.8 L261,491.8 L267,490.7 L273,489.5 L279,488.1 L285,486.7 L291,485.1 L297,483.5 L303,481.7 L309,479.7 L315,477.6 L321,475.5 L327,473.1 L333,470.7 L339,468.2 L345,465.5 L351,462.8 L357,459.9 L363,457 L369,453.9 L375,450.8 L381,447.5 L387,444.2 L393,440.8 L399,437.3 L405,433.7 L411,430.1 L417,426.3 L423,422.5 L429,418.7 L435,414.7 L441,410.7 L447,406.6 L453,402.5 L459,398.3 L465,394.1 L471,389.8 L477,385.5 L483,381.1 L489,376.7 L495,372.2 L501,367.7 L507,363.2 L513,358.6 L519,354 L525,349.4 L531,344.7 L537,340 L543,335.3 L549,330.6 L555,325.9 L561,321.1 L567,316.4 L573,311.6 L579,306.8 L585,302 L591,297.1 L597,292.3 L603,287.4 L609,282.6 L615,277.7 L621,272.8 L627,267.8 L633,262.9 L639,257.9 L645,253 L651,248 L657,243 L663,238 L669,232.9 L675,227.9 L681,222.8 L687,217.7 L693,212.7 L699,207.6 L705,202.4 L711,197.3 L717,192.2 L723,187 L729,181.9 L735,176.7 L741,171.5 L747,166.3 L753,161.1 L759,155.8 L765,150.6 L771,145.3 L777,140.1 L783,134.8 L789,129.5 L795,124.2 L801,118.9 L807,113.6 L813,108.2 L819,102.9 L825,97.5 L831,92.2 L837,86.8 L843,81.4 L849,76 L855,70.6 L861,65.2 L867,59.8 L873,54.3 L879,48.9 L885,43.4 L891,38 L897,32.5 L903,27 L909,21.5 L915,16 L921,10.5 L927,5 L933,-0.5 L939,-6 L945,-11.6 L951,-17.1 L957,-22.7 L963,-28.2 L963,-10 L957,-4.5 L951,1 L945,6.5 L939,11.9 L933,17.4 L927,22.8 L921,28.2 L915,33.7 L909,39.1 L903,44.4 L897,49.8 L891,55.2 L885,60.5 L879,65.8 L873,71.2 L867,76.5 L861,81.7 L855,87 L849,92.3 L843,97.5 L837,102.8 L831,108 L825,113.2 L819,118.4 L813,123.6 L807,128.7 L801,133.9 L795,139 L789,144.1 L783,149.3 L777,154.3 L771,159.4 L765,164.5 L759,169.6 L753,174.6 L747,179.6 L741,184.6 L735,189.6 L729,194.6 L723,199.6 L717,204.6 L711,209.5 L705,214.4 L699,219.3 L693,224.3 L687,229.1 L681,234 L675,238.9 L669,243.7 L663,248.6 L657,253.4 L651,258.2 L645,263 L639,267.7 L633,272.5 L627,277.3 L621,282 L615,286.7 L609,291.4 L603,296.1 L597,300.8 L591,305.4 L585,310.1 L579,314.7 L573,319.4 L567,324 L561,328.6 L555,333.1 L549,337.7 L543,342.2 L537,346.8 L531,351.3 L525,355.8 L519,360.3 L513,364.7 L507,369.2 L501,373.6 L495,377.9 L489,382.3 L483,386.6 L477,390.8 L471,395 L465,399.2 L459,403.3 L453,407.4 L447,411.4 L441,415.4 L435,419.3 L429,423.1 L423,426.9 L417,430.6 L411,434.3 L405,437.9 L399,441.4 L393,444.8 L387,448.1 L381,451.4 L375,454.6 L369,457.7 L363,460.7 L357,463.6 L351,466.4 L345,469.1 L339,471.8 L333,474.3 L327,476.7 L321,479.1 L315,481.4 L309,483.5 L303,485.5 L297,487.2 L291,488.8 L285,490.2 L279,491.5 L273,492.6 L267,493.6 L261,494.6 L255,495.4 L249,496.2 L243,496.9 L237,497.5 L231,498.1 L225,498.6 L219,499.1 L213,499.6 L207,500.1 L201,500.6 L195,501 L189,501.4 L183,501.7 L177,502 L171,502.3 L165,502.5 L159,502.7 L153,502.9 L147,503.1 L141,503.2 L135,503.3 L129,503.4 L123,503.5 L117,503.6Z" fill="#72b152" stroke="#72b152" stroke-width="0.6"/>
<path d="M117,503.6 L123,503.5 L129,503.4 L135,503.3 L141,503.2 L147,503.1 L153,502.9 L159,502.7 L165,502.5 L171,502.3 L177,502 L183,501.7 L189,501.4 L195,501 L201,500.6 L207,500.1 L213,499.6 L219,499.1 L225,498.6 L231,498.1 L237,497.5 L243,496.9 L249,496.2 L255,495.4 L261,494.6 L267,493.6 L273,492.6 L279,491.5 L285,490.2 L291,488.8 L297,487.2 L303,485.5 L309,483.5 L315,481.4 L321,479.1 L327,476.7 L333,474.3 L339,471.8 L345,469.1 L351,466.4 L357,463.6 L363,460.7 L369,457.7 L375,454.6 L381,451.4 L387,448.1 L393,444.8 L399,441.3 L405,437.8 L411,434.2 L417,430.6 L423,426.8 L429,423 L435,419.1 L441,415.2 L447,411.2 L453,407.1 L459,403 L465,398.8 L471,394.6 L477,390.4 L483,386.1 L489,381.7 L495,377.3 L501,372.9 L507,368.4 L513,363.9 L519,359.4 L525,354.8 L531,350.2 L537,345.6 L543,341 L549,336.3 L555,331.6 L561,326.9 L567,322.2 L573,317.5 L579,312.8 L585,308 L591,303.2 L597,298.4 L603,293.5 L609,288.7 L615,283.8 L621,278.9 L627,274 L633,269.1 L639,264.1 L645,259.2 L651,254.3 L657,249.4 L663,244.5 L669,239.6 L675,234.7 L681,229.8 L687,224.8 L693,219.8 L699,214.9 L705,209.9 L711,204.9 L717,199.9 L723,194.8 L729,189.8 L735,184.7 L741,179.6 L747,174.6 L753,169.5 L759,164.3 L765,159.2 L771,154.1 L777,148.9 L783,143.8 L789,138.6 L795,133.4 L801,128.2 L807,123 L813,117.7 L819,112.5 L825,107.2 L831,102 L837,96.7 L843,91.4 L849,86.1 L855,80.8 L861,75.5 L867,70.1 L873,64.8 L879,59.4 L885,54 L891,48.6 L897,43.2 L903,37.8 L909,32.4 L915,27 L921,21.5 L927,16.1 L933,10.6 L939,5.1 L945,-0.4 L951,-5.9 L957,-11.4 L963,-16.9 L963,-10 L957,-4.5 L951,1 L945,6.5 L939,11.9 L933,17.4 L927,22.8 L921,28.2 L915,33.7 L909,39.1 L903,44.4 L897,49.8 L891,55.2 L885,60.5 L879,65.8 L873,71.2 L867,76.5 L861,81.7 L855,87 L849,92.3 L843,97.5 L837,102.8 L831,108 L825,113.2 L819,118.4 L813,123.6 L807,128.7 L801,133.9 L795,139 L789,144.1 L783,149.3 L777,154.3 L771,159.4 L765,164.5 L759,169.6 L753,174.6 L747,179.6 L741,184.6 L735,189.6 L729,194.6 L723,199.6 L717,204.6 L711,209.5 L705,214.4 L699,219.3 L693,224.3 L687,229.1 L681,234 L675,238.9 L669,243.7 L663,248.6 L657,253.4 L651,258.2 L645,263 L639,267.7 L633,272.5 L627,277.3 L621,282 L615,286.7 L609,291.4 L603,296.1 L597,300.8 L591,305.4 L585,310.1 L579,314.7 L573,319.4 L567,324 L561,328.6 L555,333.1 L549,337.7 L543,342.2 L537,346.8 L531,351.3 L525,355.8 L519,360.3 L513,364.7 L507,369.2 L501,373.6 L495,377.9 L489,382.3 L483,386.6 L477,390.8 L471,395 L465,399.2 L459,403.3 L453,407.4 L447,411.4 L441,415.4 L435,419.3 L429,423.1 L423,426.9 L417,430.6 L411,434.3 L405,437.9 L399,441.4 L393,444.8 L387,448.1 L381,451.4 L375,454.6 L369,457.7 L363,460.7 L357,463.6 L351,466.4 L345,469.1 L339,471.8 L333,474.3 L327,476.7 L321,479.1 L315,481.4 L309,483.5 L303,485.5 L297,487.2 L291,488.8 L285,490.2 L279,491.5 L273,492.6 L267,493.6 L261,494.6 L255,495.4 L249,496.2 L243,496.9 L237,497.5 L231,498.1 L225,498.6 L219,499.1 L213,499.6 L207,500.1 L201,500.6 L195,501 L189,501.4 L183,501.7 L177,502 L171,502.3 L165,502.5 L159,502.7 L153,502.9 L147,503.1 L141,503.2 L135,503.3 L129,503.4 L123,503.5 L117,503.6Z" fill="#9fcd85" fill-opacity="0.55"/>
<path d="M441,412.1 L447,408.1 L453,404 L459,399.8 M459,399.8 L465,395.6 L471,391.4 L477,387.1 M477,387.1 L483,382.7 L489,378.3 L495,373.9 M405,436.1 L411,432.5 L417,428.8 L423,425.1 M423,425.1 L429,421.3 L435,417.4 L441,413.4 M423,426 L429,422.2 L435,418.4 L441,414.4 M441,414.4 L447,410.5 L453,406.4 L459,402.3 M459,402.3 L465,398.2 L471,394 L477,389.8" fill="none" stroke="#fff" stroke-opacity="0.05" stroke-width="0.8"/>
<path d="M495,373.9 L501,369.5 L507,365 L513,360.4 M513,360.4 L519,355.9 L525,351.3 L531,346.7 M531,346.7 L537,342 L543,337.4 L549,332.7 M441,413.4 L447,409.4 L453,405.4 L459,401.2 M459,401.2 L465,397.1 L471,392.8 L477,388.6 M477,389.8 L483,385.5 L489,381.1 L495,376.8 M495,376.8 L501,372.4 L507,368 L513,363.5" fill="none" stroke="#fff" stroke-opacity="0.10" stroke-width="0.8"/>
<path d="M549,332.7 L555,328.1 L561,323.4 L567,318.6 M567,318.6 L573,313.9 L579,309.2 L585,304.4 M477,388.6 L483,384.3 L489,379.9 L495,375.5 M513,363.5 L519,359 L525,354.5 L531,350 M531,350 L537,345.4 L543,340.9 L549,336.3" fill="none" stroke="#fff" stroke-opacity="0.15" stroke-width="0.8"/>
<path d="M585,304.4 L591,299.6 L597,294.8 L603,290 M603,290 L609,285.2 L615,280.4 L621,275.5 M495,375.5 L501,371.1 L507,366.6 L513,362.2 M549,336.3 L555,331.7 L561,327.1 L567,322.4 M567,322.4 L573,317.8 L579,313.1 L585,308.5" fill="none" stroke="#fff" stroke-opacity="0.20" stroke-width="0.8"/>
<path d="M621,275.5 L627,270.7 L633,265.8 L639,260.9 M639,260.9 L645,256 L651,251 L657,246.1 M513,362.2 L519,357.6 L525,353.1 L531,348.5 M585,308.5 L591,303.8 L597,299.1 L603,294.4" fill="none" stroke="#fff" stroke-opacity="0.25" stroke-width="0.8"/>
<path d="M657,246.1 L663,241.1 L669,236.2 L675,231.2 M675,231.2 L681,226.2 L687,221.2 L693,216.1 M531,348.5 L537,343.9 L543,339.3 L549,334.7 M603,294.4 L609,289.6 L615,284.9 L621,280.1 M621,280.1 L627,275.4 L633,270.6 L639,265.8" fill="none" stroke="#fff" stroke-opacity="0.30" stroke-width="0.8"/>
<path d="M693,216.1 L699,211.1 L705,206 L711,201 M711,201 L717,195.9 L723,190.8 L729,185.7 M729,185.7 L735,180.6 L741,175.4 L747,170.3 M747,170.3 L753,165.1 L759,160 L765,154.8 M765,154.8 L771,149.6 L777,144.4 L783,139.1 M783,139.1 L789,133.9 L795,128.7 L801,123.4 M801,123.4 L807,118.1 L813,112.8 L819,107.5 M819,107.5 L825,102.2 L831,96.9 L837,91.6 M837,91.6 L843,86.2 L849,80.9 L855,75.5 M855,75.5 L861,70.2 L867,64.8 L873,59.4 M873,59.4 L879,54 L885,48.6 L891,43.1 M891,43.1 L897,37.7 L903,32.2 L909,26.8 M909,26.8 L915,21.3 L921,15.8 L927,10.4 M927,10.4 L933,4.9 L939,-0.6 L945,-6.2 M945,-6.2 L951,-11.7 L957,-17.2 L963,-22.8 M549,334.7 L555,330.1 L561,325.4 L567,320.8 M639,265.8 L645,261 L651,256.1 L657,251.3" fill="none" stroke="#fff" stroke-opacity="0.35" stroke-width="0.8"/>
<path d="M567,320.8 L573,316.1 L579,311.4 L585,306.7 M657,251.3 L663,246.4 L669,241.6 L675,236.7 M675,236.7 L681,231.8 L687,226.9 L693,221.9" fill="none" stroke="#fff" stroke-opacity="0.40" stroke-width="0.8"/>
<path d="M585,306.7 L591,302 L597,297.2 L603,292.5 M693,221.9 L699,217 L705,212 L711,207.1 M711,207.1 L717,202.1 L723,197.1 L729,192.1 M729,192.1 L735,187 L741,182 L747,177 M747,177 L753,171.9 L759,166.8 L765,161.7 M765,161.7 L771,156.6 L777,151.5 L783,146.4 M783,146.4 L789,141.2 L795,136.1 L801,130.9 M801,130.9 L807,125.7 L813,120.5 L819,115.3 M819,115.3 L825,110.1 L831,104.8 L837,99.6 M837,99.6 L843,94.3 L849,89 L855,83.7 M855,83.7 L861,78.4 L867,73.1 L873,67.8 M873,67.8 L879,62.4 L885,57.1 L891,51.7 M891,51.7 L897,46.3 L903,41 L909,35.6 M909,35.6 L915,30.1 L921,24.7 L927,19.3 M927,19.3 L933,13.8 L939,8.3 L945,2.9 M945,2.9 L951,-2.6 L957,-8.1 L963,-13.6" fill="none" stroke="#fff" stroke-opacity="0.45" stroke-width="0.8"/>
<path d="M603,292.5 L609,287.7 L615,282.9 L621,278.1" fill="none" stroke="#fff" stroke-opacity="0.55" stroke-width="0.8"/>
<path d="M621,278.1 L627,273.3 L633,268.5 L639,263.6" fill="none" stroke="#fff" stroke-opacity="0.60" stroke-width="0.8"/>
<path d="M639,263.6 L645,258.8 L651,253.9 L657,249" fill="none" stroke="#fff" stroke-opacity="0.65" stroke-width="0.8"/>
<path d="M657,249 L663,244.1 L669,239.2 L675,234.3" fill="none" stroke="#fff" stroke-opacity="0.70" stroke-width="0.8"/>
<path d="M675,234.3 L681,229.3 L687,224.4 L693,219.4" fill="none" stroke="#fff" stroke-opacity="0.75" stroke-width="0.8"/>
<path d="M693,219.4 L699,214.4 L705,209.4 L711,204.4 M711,204.4 L717,199.4 L723,194.3 L729,189.3 M729,189.3 L735,184.2 L741,179.1 L747,174 M747,174 L753,168.9 L759,163.8 L765,158.7 M765,158.7 L771,153.5 L777,148.4 L783,143.2 M783,143.2 L789,138 L795,132.8 L801,127.6 M801,127.6 L807,122.4 L813,117.1 L819,111.9 M819,111.9 L825,106.6 L831,101.3 L837,96.1 M837,96.1 L843,90.8 L849,85.5 L855,80.1 M855,80.1 L861,74.8 L867,69.4 L873,64.1 M873,64.1 L879,58.7 L885,53.3 L891,47.9 M891,47.9 L897,42.5 L903,37.1 L909,31.7 M909,31.7 L915,26.3 L921,20.8 L927,15.3 M927,15.3 L933,9.9 L939,4.4 L945,-1.1 M945,-1.1 L951,-6.6 L957,-12.1 L963,-17.7" fill="none" stroke="#fff" stroke-opacity="0.85" stroke-width="0.8"/>
</g>
<path d="M152.3,502 v-7 M152.3,12 v7 M187.7,502 v-7 M187.7,12 v7 M223,502 v-7 M223,12 v7 M258.3,502 v-11 M258.3,12 v11 M293.7,502 v-7 M293.7,12 v7 M329,502 v-7 M329,12 v7 M364.3,502 v-7 M364.3,12 v7 M399.7,502 v-11 M399.7,12 v11 M435,502 v-7 M435,12 v7 M470.3,502 v-7 M470.3,12 v7 M505.7,502 v-7 M505.7,12 v7 M541,502 v-11 M541,12 v11 M576.3,502 v-7 M576.3,12 v7 M611.7,502 v-7 M611.7,12 v7 M647,502 v-7 M647,12 v7 M682.3,502 v-11 M682.3,12 v11 M717.7,502 v-7 M717.7,12 v7 M753,502 v-7 M753,12 v7 M788.3,502 v-7 M788.3,12 v7 M823.7,502 v-11 M823.7,12 v11 M859,502 v-7 M859,12 v7 M894.3,502 v-7 M894.3,12 v7 M929.7,502 v-7 M929.7,12 v7 M117,461.2 h7 M965,461.2 h-7 M117,420.3 h7 M965,420.3 h-7 M117,379.5 h7 M965,379.5 h-7 M117,338.7 h11 M965,338.7 h-11 M117,297.8 h7 M965,297.8 h-7 M117,257 h7 M965,257 h-7 M117,216.2 h7 M965,216.2 h-7 M117,175.3 h11 M965,175.3 h-11 M117,134.5 h7 M965,134.5 h-7 M117,93.7 h7 M965,93.7 h-7 M117,52.8 h7 M965,52.8 h-7" stroke="#000" stroke-width="2" fill="none"/>
<rect x="117" y="12" width="848" height="490" fill="none" stroke="#000" stroke-width="2"/>
<text x="117" y="538" text-anchor="middle" font-size="30.6">0</text>
<text x="258.3" y="538" text-anchor="middle" font-size="30.6">200</text>
<text x="399.7" y="538" text-anchor="middle" font-size="30.6">400</text>
<text x="541" y="538" text-anchor="middle" font-size="30.6">600</text>
<text x="682.3" y="538" text-anchor="middle" font-size="30.6">800</text>
<text x="823.7" y="538" text-anchor="middle" font-size="30.6">1000</text>
<text x="965" y="538" text-anchor="middle" font-size="30.6">1200</text>
<text x="101.5" y="511.8" text-anchor="end" font-size="30.6">0</text>
<text x="101.5" y="348.5" text-anchor="end" font-size="30.6">200</text>
<text x="101.5" y="185.1" text-anchor="end" font-size="30.6">400</text>
<text x="101.5" y="21.8" text-anchor="end" font-size="30.6">600</text>
<text x="542.5" y="589" text-anchor="middle" font-size="30.2"><tspan font-family="Liberation Serif" font-style="italic">ε</tspan> [MeV fm<tspan dy="-11.7" font-size="20">-3</tspan><tspan dy="11.7">]</tspan></text>
<text transform="translate(26.4,257) rotate(-90)" text-anchor="middle" font-size="29.8"><tspan font-style="italic">P</tspan> [MeV fm<tspan dy="-11.7" font-size="20">-3</tspan><tspan dy="11.7">]</tspan></text>
<text x="151.5" y="65.6" font-size="29" font-weight="bold">(a)</text>
<rect x="225" y="44" width="110" height="36" fill="#8fb6de"/>
<rect x="220.5" y="39.6" width="109.8" height="35.5" fill="#fff" stroke="#e49b5a" stroke-width="1.3"/>
<text x="275.5" y="66.4" text-anchor="middle" font-size="26">DDME2</text>
<rect x="191" y="134" width="350" height="165" fill="#fff"/>
<path d="M191,295.7 L192.8,295.7 L194.5,295.6 L196.2,295.6 L198,295.5 L199.8,295.4 L201.5,295.3 L203.2,295.2 L205,295.1 L206.8,295 L208.5,294.9 L210.2,294.8 L212,294.6 L213.8,294.5 L215.5,294.3 L217.2,294.2 L219,294 L220.8,293.8 L222.5,293.6 L224.2,293.4 L226,293.2 L227.8,293 L229.5,292.8 L231.2,292.6 L233,292.3 L234.8,292.1 L236.5,291.8 L238.2,291.5 L240,291.3 L241.8,291 L243.5,290.7 L245.2,290.4 L247,290.1 L248.8,289.8 L250.5,289.4 L252.2,289.1 L254,288.8 L255.8,288.4 L257.5,288 L259.2,287.7 L261,287.3 L262.8,286.9 L264.5,286.5 L266.2,286.1 L268,285.7 L269.8,285.3 L271.5,284.9 L273.2,284.4 L275,284 L276.8,283.5 L278.5,283.1 L280.2,282.6 L282,282.1 L283.8,281.6 L285.5,281.1 L287.2,280.6 L289,280.1 L290.8,279.6 L292.5,279 L294.2,278.5 L296,278 L297.8,277.4 L299.5,276.8 L301.2,276.3 L303,275.7 L304.8,275.1 L306.5,274.5 L308.2,273.9 L310,273.3 L311.8,272.6 L313.5,272 L315.2,271.3 L317,270.7 L318.8,270 L320.5,269.4 L322.2,268.7 L324,268 L325.8,267.3 L327.5,266.6 L329.2,265.9 L331,265.2 L332.8,264.4 L334.5,263.7 L336.2,263 L338,262.2 L339.8,261.4 L341.5,260.7 L343.2,259.9 L345,259.1 L346.8,258.3 L348.5,257.5 L350.2,256.7 L352,255.9 L353.8,255 L355.5,254.2 L357.2,253.3 L359,252.5 L360.8,251.6 L362.5,250.7 L364.2,249.8 L366,249 L367.8,248.1 L369.5,247.1 L371.2,246.2 L373,245.3 L374.8,244.4 L376.5,243.4 L378.2,242.5 L380,241.5 L381.8,240.5 L383.5,239.6 L385.2,238.6 L387,237.6 L388.8,236.6 L390.5,235.6 L392.2,234.5 L394,233.5 L395.8,232.5 L397.5,231.4 L399.2,230.4 L401,229.3 L402.8,228.2 L404.5,227.1 L406.2,226 L408,224.9 L409.8,223.8 L411.5,222.7 L413.2,221.6 L415,220.5 L416.8,219.3 L418.5,218.2 L420.2,217 L422,215.8 L423.8,214.7 L425.5,213.5 L427.2,212.3 L429,211.1 L430.8,209.9 L432.5,208.7 L434.2,207.4 L436,206.2 L437.8,204.9 L439.5,203.7 L441.2,202.4 L443,201.2 L444.8,199.9 L446.5,198.6 L448.2,197.3 L450,196 L451.8,194.7 L453.5,193.3 L455.2,192 L457,190.7 L458.8,189.3 L460.5,188 L462.2,186.6 L464,185.2 L465.8,183.8 L467.5,182.4 L469.2,181 L471,179.6 L472.8,178.2 L474.5,176.8 L476.2,175.3 L478,173.9 L479.8,172.4 L481.5,171 L483.2,169.5 L485,168 L486.8,166.5 L488.5,165 L490.2,163.5 L492,162 L493.8,160.5 L495.5,159 L497.2,157.4 L499,155.9 L500.8,154.3 L502.5,152.8 L504.2,151.2 L506,149.6 L507.8,148 L509.5,146.4 L511.2,144.8 L513,143.2 L514.8,141.6 L516.5,139.9 L518.2,138.3 L520,136.6 L521.8,135 L522.8,134" stroke="#e6923a" stroke-width="2.4" fill="none" stroke-dasharray="4.8 4.4 0 4.4" stroke-linecap="round"/>
<path d="M191,297 L192.8,297.1 L194.5,297.2 L196.2,297.3 L198,297.4 L199.8,297.5 L201.5,297.5 L203.2,297.6 L205,297.6 L206.8,297.6 L208.5,297.6 L210.2,297.7 L212,297.6 L213.8,297.6 L215.5,297.6 L217.2,297.6 L219,297.5 L220.8,297.4 L222.5,297.4 L224.2,297.3 L226,297.2 L227.8,297.1 L229.5,297 L231.2,296.8 L233,296.7 L234.8,296.5 L236.5,296.4 L238.2,296.2 L240,296 L241.8,295.8 L243.5,295.6 L245.2,295.4 L247,295.2 L248.8,294.9 L250.5,294.7 L252.2,294.4 L254,294.2 L255.8,293.9 L257.5,293.6 L259.2,293.3 L261,293 L262.8,292.7 L264.5,292.3 L266.2,292 L268,291.6 L269.8,291.3 L271.5,290.9 L273.2,290.5 L275,290.1 L276.8,289.7 L278.5,289.3 L280.2,288.8 L282,288.4 L283.8,288 L285.5,287.5 L287.2,287 L289,286.5 L290.8,286.1 L292.5,285.6 L294.2,285 L296,284.5 L297.8,284 L299.5,283.4 L301.2,282.9 L303,282.3 L304.8,281.8 L306.5,281.2 L308.2,280.6 L310,280 L311.8,279.4 L313.5,278.7 L315.2,278.1 L317,277.5 L318.8,276.8 L320.5,276.1 L322.2,275.5 L324,274.8 L325.8,274.1 L327.5,273.4 L329.2,272.7 L331,271.9 L332.8,271.2 L334.5,270.5 L336.2,269.7 L338,268.9 L339.8,268.2 L341.5,267.4 L343.2,266.6 L345,265.8 L346.8,265 L348.5,264.1 L350.2,263.3 L352,262.5 L353.8,261.6 L355.5,260.7 L357.2,259.9 L359,259 L360.8,258.1 L362.5,257.2 L364.2,256.3 L366,255.4 L367.8,254.4 L369.5,253.5 L371.2,252.5 L373,251.6 L374.8,250.6 L376.5,249.6 L378.2,248.6 L380,247.6 L381.8,246.6 L383.5,245.6 L385.2,244.6 L387,243.5 L388.8,242.5 L390.5,241.4 L392.2,240.3 L394,239.3 L395.8,238.2 L397.5,237.1 L399.2,236 L401,234.9 L402.8,233.7 L404.5,232.6 L406.2,231.5 L408,230.3 L409.8,229.2 L411.5,228 L413.2,226.8 L415,225.6 L416.8,224.4 L418.5,223.2 L420.2,222 L422,220.8 L423.8,219.5 L425.5,218.3 L427.2,217 L429,215.8 L430.8,214.5 L432.5,213.2 L434.2,211.9 L436,210.6 L437.8,209.3 L439.5,208 L441.2,206.7 L443,205.3 L444.8,204 L446.5,202.6 L448.2,201.3 L450,199.9 L451.8,198.5 L453.5,197.1 L455.2,195.7 L457,194.3 L458.8,192.9 L460.5,191.4 L462.2,190 L464,188.6 L465.8,187.1 L467.5,185.6 L469.2,184.2 L471,182.7 L472.8,181.2 L474.5,179.7 L476.2,178.2 L478,176.7 L479.8,175.2 L481.5,173.6 L483.2,172.1 L485,170.5 L486.8,169 L488.5,167.4 L490.2,165.8 L492,164.2 L493.8,162.6 L495.5,161 L497.2,159.4 L499,157.8 L500.8,156.2 L502.5,154.5 L504.2,152.9 L506,151.2 L507.8,149.6 L509.5,147.9 L511.2,146.2 L513,144.5 L514.8,142.8 L516.5,141.1 L518.2,139.4 L520,137.7 L521.8,136 L523.5,134.2 L523.7,134" stroke="#e6923a" stroke-width="2.4" fill="none"/>
<path d="M234.8,299 v-7 M234.8,134 v7 M278.5,299 v-11 M278.5,134 v11 M322.2,299 v-7 M322.2,134 v7 M366,299 v-7 M366,134 v7 M409.8,299 v-7 M409.8,134 v7 M453.5,299 v-11 M453.5,134 v11 M497.2,299 v-7 M497.2,134 v7 M191,257.8 h7 M541,257.8 h-7 M191,216.5 h11 M541,216.5 h-11 M191,175.2 h7 M541,175.2 h-7" stroke="#000" stroke-width="2" fill="none"/>
<rect x="191" y="134" width="350" height="165" fill="none" stroke="#000" stroke-width="2"/>
<text x="174.6" y="306.5" text-anchor="end" font-size="26">0</text>
<text x="174.6" y="224" text-anchor="end" font-size="26">50</text>
<text x="174.6" y="141.5" text-anchor="end" font-size="26">100</text>
<text x="278.5" y="330.6" text-anchor="middle" font-size="26">200</text>
<text x="453.5" y="330.6" text-anchor="middle" font-size="26">400</text>
<text transform="translate(326.5,236.5) rotate(-19.5)" font-size="24"><tspan font-style="italic">L</tspan><tspan dy="5.5" font-size="15.5">sym</tspan><tspan dy="-5.5"> = 110</tspan></text>
<text transform="translate(401.2,269.5) rotate(-19)" font-size="24">30</text>
<path d="M675,425.4 L635.5,386.4" stroke="#000" stroke-width="3.0"/>
<path d="M626.6,377.6 L640.9,385.2 L635.5,386.4 L634.4,391.8 Z" fill="#000" stroke="#000" stroke-width="1.6" stroke-linejoin="round"/>
<text x="697.2" y="416.8" font-size="26"><tspan font-style="italic">L</tspan><tspan dx="-0.5" dy="7" font-size="17">sym</tspan><tspan dy="-7" letter-spacing="-0.12"> = [30, ..., 110]</tspan></text>
<text x="700.2" y="460.3" font-size="26"><tspan font-style="italic">Q</tspan><tspan dx="-0.5" dy="7" font-size="17">sat</tspan><tspan dy="-7" letter-spacing="-0.2"> = [-600, ..., 1000]</tspan></text>
<g clip-path="url(#clipB)">
<path d="M117,1105 L120,1105 L123,1105 L126,1105 L129,1105 L132,1105 L135,1105 L138,1105 L141,1105 L144,1105 L147,1105 L150,1105 L153,1105 L156,1105 L159,1105 L162,1105 L165,1104.9 L168,1104.9 L171,1104.9 L174,1104.9 L177,1104.9 L180,1104.8 L183,1104.8 L186,1104.7 L189,1104.7 L192,1104.6 L195,1104.6 L198,1104.5 L201,1104.4 L204,1104.3 L207,1104.2 L210,1104.1 L213,1103.9 L216,1103.8 L219,1103.6 L222,1103.4 L225,1103.2 L228,1102.9 L231,1102.7 L234,1102.4 L237,1102.1 L240,1101.7 L243,1101.4 L246,1101 L249,1100.5 L252,1100.1 L255,1099.6 L258,1099 L261,1098.5 L264,1097.8 L267,1097.2 L270,1096.5 L273,1095.8 L276,1095.1 L279,1094.3 L282,1093.5 L285,1092.6 L288,1091.8 L291,1090.9 L294,1089.9 L297,1089 L300,1088 L303,1087 L306,1085.9 L309,1084.8 L312,1083.7 L315,1082.6 L318,1081.4 L321,1080.2 L324,1079 L327,1077.8 L330,1076.5 L333,1075.2 L336,1073.9 L339,1072.5 L342,1071.2 L345,1069.8 L348,1068.3 L351,1066.9 L354,1065.4 L357,1063.9 L360,1062.4 L363,1060.9 L366,1059.3 L369,1057.7 L372,1056.1 L375,1054.5 L378,1052.8 L381,1051.1 L384,1049.5 L387,1047.7 L390,1046 L393,1044.3 L396,1042.5 L399,1040.7 L402,1038.9 L405,1037 L408,1035.2 L411,1033.3 L414,1031.4 L417,1029.5 L420,1027.6 L423,1025.7 L426,1023.7 L429,1021.8 L432,1019.8 L435,1017.8 L438,1015.8 L441,1013.7 L444,1011.7 L447,1009.6 L450,1007.6 L453,1005.5 L456,1003.4 L459,1001.3 L462,999.1 L465,997 L468,994.8 L471,992.7 L474,990.5 L477,988.3 L480,986.1 L483,983.9 L486,981.6 L489,979.4 L492,977.1 L495,974.9 L498,972.6 L501,970.3 L504,968 L507,965.7 L510,963.4 L513,961 L516,958.7 L519,956.4 L522,954 L525,951.6 L528,949.3 L531,946.9 L534,944.5 L537,942.1 L540,939.7 L543,937.3 L546,934.8 L549,932.4 L552,930 L555,927.5 L558,925.1 L561,922.6 L564,920.1 L567,917.7 L570,915.2 L573,912.7 L576,910.2 L579,907.7 L582,905.2 L585,902.7 L588,900.2 L591,897.7 L594,895.2 L597,892.7 L600,890.1 L603,887.6 L606,885.1 L609,882.5 L612,880 L615,877.4 L618,874.9 L621,872.4 L624,869.8 L627,867.2 L630,864.7 L633,862.1 L636,859.6 L639,857 L642,854.4 L645,851.9 L648,849.3 L651,846.7 L654,844.2 L657,841.6 L660,839 L663,836.4 L666,833.8 L669,831.2 L672,828.7 L675,826.1 L678,823.5 L681,820.9 L684,818.3 L687,815.7 L690,813.1 L693,810.5 L696,807.9 L699,805.3 L702,802.7 L705,800.1 L708,797.5 L711,794.9 L714,792.2 L717,789.6 L720,787 L723,784.4 L726,781.8 L729,779.2 L732,776.6 L735,773.9 L738,771.3 L741,768.7 L744,766.1 L747,763.5 L750,760.8 L753,758.2 L756,755.6 L759,753 L762,750.3 L765,747.7 L768,745.1 L771,742.5 L774,739.8 L777,737.2 L780,734.6 L783,731.9 L786,729.3 L789,726.7 L792,724 L795,721.4 L798,718.8 L801,716.1 L804,713.5 L807,710.8 L810,708.2 L813,705.6 L816,702.9 L819,700.3 L822,697.6 L825,694.9 L828,692.3 L831,689.6 L834,687 L837,684.3 L840,681.6 L843,679 L846,676.3 L849,673.6 L852,671 L855,668.3 L858,665.6 L861,662.9 L864,660.3 L867,657.6 L870,654.9 L873,652.2 L876,649.5 L879,646.9 L882,644.2 L885,641.5 L888,638.8 L891,636.1 L894,633.4 L897,630.7 L900,628 L903,625.3 L906,622.6 L909,620 L912,617.3 L915,614.6 L916.7,613" stroke="#6aad45" stroke-width="2.6" fill="none" stroke-dasharray="7.5 5.95 0 5.95" stroke-linecap="round"/>
<path d="M117,1105 L120,1105 L123,1105 L126,1105 L129,1105 L132,1105 L135,1105 L138,1105 L141,1105 L144,1105 L147,1105 L150,1105 L153,1104.9 L156,1104.9 L159,1104.9 L162,1104.9 L165,1104.8 L168,1104.8 L171,1104.8 L174,1104.7 L177,1104.7 L180,1104.6 L183,1104.5 L186,1104.5 L189,1104.4 L192,1104.3 L195,1104.2 L198,1104.1 L201,1104 L204,1103.9 L207,1103.7 L210,1103.6 L213,1103.4 L216,1103.3 L219,1103.1 L222,1102.9 L225,1102.7 L228,1102.5 L231,1102.2 L234,1102 L237,1101.7 L240,1101.4 L243,1101.1 L246,1100.8 L249,1100.5 L252,1100.2 L255,1099.8 L258,1099.4 L261,1099 L264,1098.6 L267,1098.1 L270,1097.6 L273,1097.1 L276,1096.5 L279,1095.9 L282,1095.3 L285,1094.7 L288,1094 L291,1093.3 L294,1092.5 L297,1091.8 L300,1091 L303,1090.1 L306,1089.3 L309,1088.4 L312,1087.5 L315,1086.6 L318,1085.6 L321,1084.6 L324,1083.6 L327,1082.6 L330,1081.5 L333,1080.4 L336,1079.3 L339,1078.2 L342,1077 L345,1075.9 L348,1074.7 L351,1073.5 L354,1072.2 L357,1070.9 L360,1069.7 L363,1068.4 L366,1067 L369,1065.7 L372,1064.3 L375,1062.9 L378,1061.5 L381,1060.1 L384,1058.7 L387,1057.2 L390,1055.7 L393,1054.2 L396,1052.7 L399,1051.2 L402,1049.7 L405,1048.1 L408,1046.6 L411,1045 L414,1043.4 L417,1041.8 L420,1040.1 L423,1038.5 L426,1036.8 L429,1035.2 L432,1033.5 L435,1031.8 L438,1030.1 L441,1028.4 L444,1026.7 L447,1024.9 L450,1023.2 L453,1021.4 L456,1019.6 L459,1017.8 L462,1016 L465,1014.2 L468,1012.4 L471,1010.6 L474,1008.7 L477,1006.9 L480,1005 L483,1003.1 L486,1001.2 L489,999.3 L492,997.4 L495,995.5 L498,993.5 L501,991.6 L504,989.6 L507,987.6 L510,985.6 L513,983.6 L516,981.6 L519,979.6 L522,977.5 L525,975.5 L528,973.4 L531,971.4 L534,969.3 L537,967.2 L540,965.1 L543,963 L546,960.8 L549,958.7 L552,956.5 L555,954.4 L558,952.2 L561,950 L564,947.8 L567,945.6 L570,943.4 L573,941.1 L576,938.9 L579,936.7 L582,934.4 L585,932.2 L588,929.9 L591,927.6 L594,925.4 L597,923.1 L600,920.8 L603,918.5 L606,916.2 L609,913.9 L612,911.6 L615,909.3 L618,907 L621,904.7 L624,902.4 L627,900.1 L630,897.8 L633,895.5 L636,893.2 L639,890.9 L642,888.6 L645,886.3 L648,883.9 L651,881.6 L654,879.3 L657,877 L660,874.6 L663,872.3 L666,869.9 L669,867.6 L672,865.3 L675,862.9 L678,860.6 L681,858.2 L684,855.8 L687,853.5 L690,851.1 L693,848.7 L696,846.3 L699,844 L702,841.6 L705,839.2 L708,836.8 L711,834.4 L714,832 L717,829.6 L720,827.2 L723,824.7 L726,822.3 L729,819.9 L732,817.5 L735,815 L738,812.6 L741,810.1 L744,807.7 L747,805.3 L750,802.8 L753,800.4 L756,797.9 L759,795.4 L762,793 L765,790.5 L768,788 L771,785.6 L774,783.1 L777,780.6 L780,778.1 L783,775.7 L786,773.2 L789,770.7 L792,768.2 L795,765.8 L798,763.3 L801,760.8 L804,758.3 L807,755.8 L810,753.3 L813,750.8 L816,748.3 L819,745.9 L822,743.4 L825,740.9 L828,738.4 L831,735.9 L834,733.4 L837,730.9 L840,728.4 L843,725.9 L846,723.4 L849,720.9 L852,718.3 L855,715.8 L858,713.3 L861,710.8 L864,708.3 L867,705.8 L870,703.3 L873,700.7 L876,698.2 L879,695.7 L882,693.2 L885,690.6 L888,688.1 L891,685.6 L894,683 L897,680.5 L900,677.9 L903,675.4 L906,672.8 L909,670.3 L912,667.7 L915,665.2 L918,662.6 L921,660.1 L924,657.5 L927,654.9 L930,652.4 L933,649.8 L936,647.2 L939,644.7 L942,642.1 L945,639.5 L948,636.9 L951,634.3 L954,631.7 L957,629.1 L960,626.5 L963,623.9" stroke="#6aad45" stroke-width="2.6" fill="none" stroke-dasharray="7.5 5.95 0 5.95" stroke-linecap="round"/>
<path d="M117,1105 L120,1105 L123,1105 L126,1105 L129,1105 L132,1105 L135,1105 L138,1105 L141,1105 L144,1105 L147,1105 L150,1105 L153,1105 L156,1105 L159,1105 L162,1105 L165,1105 L168,1105 L171,1105 L174,1105 L177,1104.9 L180,1104.9 L183,1104.9 L186,1104.9 L189,1104.9 L192,1104.8 L195,1104.8 L198,1104.8 L201,1104.7 L204,1104.7 L207,1104.6 L210,1104.6 L213,1104.5 L216,1104.4 L219,1104.3 L222,1104.2 L225,1104.1 L228,1103.9 L231,1103.8 L234,1103.6 L237,1103.4 L240,1103.2 L243,1103 L246,1102.8 L249,1102.5 L252,1102.2 L255,1101.9 L258,1101.6 L261,1101.2 L264,1100.8 L267,1100.4 L270,1100 L273,1099.6 L276,1099.2 L279,1098.7 L282,1098.3 L285,1097.8 L288,1097.3 L291,1096.9 L294,1096.4 L297,1095.9 L300,1095.3 L303,1094.8 L306,1094.3 L309,1093.7 L312,1093.1 L315,1092.6 L318,1092 L321,1091.4 L324,1090.8 L327,1090.1 L330,1089.5 L333,1088.9 L336,1088.2 L339,1087.5 L342,1086.9 L345,1086.2 L348,1085.5 L351,1084.8 L354,1084.1 L357,1083.3 L360,1082.6 L363,1081.9 L366,1081.1 L369,1080.3 L372,1079.6 L375,1078.8 L378,1078 L381,1077.2 L384,1076.3 L387,1075.5 L390,1074.7 L393,1073.8 L396,1073 L399,1072.1 L402,1071.2 L405,1070.4 L408,1069.5 L411,1068.6 L414,1067.6 L417,1066.7 L420,1065.8 L423,1064.9 L426,1063.9 L429,1062.9 L432,1062 L435,1061 L438,1060 L441,1059 L444,1058 L447,1057 L450,1056 L453,1055 L456,1053.9 L459,1052.9 L462,1051.8 L465,1050.8 L468,1049.7 L471,1048.6 L474,1047.6 L477,1046.5 L480,1045.4 L483,1044.3 L486,1043.1 L489,1042 L492,1040.9 L495,1039.8 L498,1038.6 L501,1037.5 L504,1036.3 L507,1035.1 L510,1033.9 L513,1032.8 L516,1031.6 L519,1030.4 L522,1029.2 L525,1028 L528,1026.7 L531,1025.5 L534,1024.3 L537,1023 L540,1021.8 L543,1020.5 L546,1019.3 L549,1018 L552,1016.8 L555,1015.5 L558,1014.2 L561,1012.9 L564,1011.6 L567,1010.3 L570,1009 L573,1007.7 L576,1006.3 L579,1005 L582,1003.7 L585,1002.3 L588,1001 L591,999.7 L594,998.3 L597,996.9 L600,995.6 L603,994.2 L606,992.8 L609,991.4 L612,990 L615,988.6 L618,987.2 L621,985.8 L624,984.4 L627,983 L630,981.6 L633,980.2 L636,978.7 L639,977.3 L642,975.9 L645,974.4 L648,973 L651,971.5 L654,970.1 L657,968.6 L660,967.1 L663,965.7 L666,964.2 L669,962.7 L672,961.2 L675,959.7 L678,958.2 L681,956.7 L684,955.2 L687,953.7 L690,952.2 L693,950.7 L696,949.2 L699,947.7 L702,946.2 L705,944.6 L708,943.1 L711,941.6 L714,940.1 L717,938.5 L720,937 L723,935.4 L726,933.9 L729,932.3 L732,930.8 L735,929.2 L738,927.7 L741,926.1 L744,924.5 L747,923 L750,921.4 L753,919.8 L756,918.2 L759,916.7 L762,915.1 L765,913.5 L768,911.9 L771,910.3 L774,908.7 L777,907.2 L780,905.6 L783,904 L786,902.4 L789,900.8 L792,899.2 L795,897.6 L798,896 L801,894.4 L804,892.8 L807,891.1 L810,889.5 L813,887.9 L816,886.3 L819,884.7 L822,883.1 L825,881.5 L828,879.8 L831,878.2 L834,876.6 L837,875 L840,873.4 L843,871.7 L846,870.1 L849,868.5 L852,866.9 L855,865.3 L858,863.6 L861,862 L864,860.4 L867,858.8 L870,857.1 L873,855.5 L876,853.9 L879,852.2 L882,850.6 L885,849 L888,847.4 L891,845.7 L894,844.1 L897,842.5 L900,840.9 L903,839.2 L906,837.6 L909,836 L912,834.4 L915,832.7 L918,831.1 L921,829.5 L924,827.9 L927,826.3 L930,824.6 L933,823 L936,821.4 L939,819.8 L942,818.2 L945,816.6 L948,815 L951,813.3 L954,811.7 L957,810.1 L960,808.5 L963,806.9" stroke="#6aad45" stroke-width="2.6" fill="none" stroke-dasharray="7.5 5.95 0 5.95" stroke-linecap="round"/>
<path d="M117,1105 L120,1105 L123,1105 L126,1105 L129,1105 L132,1105 L135,1105 L138,1105 L141,1105 L144,1105 L147,1105 L150,1105 L153,1105 L156,1105 L159,1105 L162,1105 L165,1105 L168,1105 L171,1105 L174,1105 L177,1104.9 L180,1104.9 L183,1104.9 L186,1104.9 L189,1104.9 L192,1104.8 L195,1104.8 L198,1104.7 L201,1104.7 L204,1104.6 L207,1104.5 L210,1104.5 L213,1104.3 L216,1104.2 L219,1104.1 L222,1103.9 L225,1103.8 L228,1103.6 L231,1103.3 L234,1103.1 L237,1102.8 L240,1102.5 L243,1102.2 L246,1101.8 L249,1101.3 L252,1100.9 L255,1100.4 L258,1099.8 L261,1099.2 L264,1098.5 L267,1097.8 L270,1097.1 L273,1096.4 L276,1095.6 L279,1094.9 L282,1094 L285,1093.2 L288,1092.3 L291,1091.5 L294,1090.5 L297,1089.6 L300,1088.6 L303,1087.6 L306,1086.6 L309,1085.6 L312,1084.5 L315,1083.4 L318,1082.3 L321,1081.2 L324,1080 L327,1078.8 L330,1077.6 L333,1076.4 L336,1075.1 L339,1073.8 L342,1072.5 L345,1071.2 L348,1069.8 L351,1068.5 L354,1067.1 L357,1065.7 L360,1064.2 L363,1062.8 L366,1061.3 L369,1059.8 L372,1058.3 L375,1056.8 L378,1055.2 L381,1053.6 L384,1052 L387,1050.4 L390,1048.8 L393,1047.1 L396,1045.4 L399,1043.8 L402,1042 L405,1040.3 L408,1038.6 L411,1036.8 L414,1035 L417,1033.2 L420,1031.4 L423,1029.6 L426,1027.7 L429,1025.9 L432,1024 L435,1022.1 L438,1020.2 L441,1018.3 L444,1016.3 L447,1014.3 L450,1012.4 L453,1010.4 L456,1008.4 L459,1006.4 L462,1004.3 L465,1002.3 L468,1000.2 L471,998.2 L474,996.1 L477,994 L480,991.9 L483,989.7 L486,987.6 L489,985.5 L492,983.3 L495,981.1 L498,978.9 L501,976.7 L504,974.5 L507,972.3 L510,970.1 L513,967.8 L516,965.6 L519,963.3 L522,961.1 L525,958.8 L528,956.5 L531,954.2 L534,951.9 L537,949.6 L540,947.3 L543,944.9 L546,942.6 L549,940.2 L552,937.9 L555,935.5 L558,933.2 L561,930.8 L564,928.4 L567,926 L570,923.6 L573,921.2 L576,918.8 L579,916.4 L582,914 L585,911.5 L588,909.1 L591,906.7 L594,904.2 L597,901.8 L600,899.3 L603,896.9 L606,894.4 L609,892 L612,889.5 L615,887 L618,884.5 L621,882.1 L624,879.6 L627,877.1 L630,874.6 L633,872.1 L636,869.6 L639,867.2 L642,864.7 L645,862.2 L648,859.7 L651,857.1 L654,854.6 L657,852.1 L660,849.6 L663,847.1 L666,844.6 L669,842 L672,839.5 L675,837 L678,834.5 L681,831.9 L684,829.4 L687,826.8 L690,824.3 L693,821.7 L696,819.2 L699,816.6 L702,814.1 L705,811.5 L708,809 L711,806.4 L714,803.8 L717,801.3 L720,798.7 L723,796.1 L726,793.5 L729,791 L732,788.4 L735,785.8 L738,783.2 L741,780.6 L744,778 L747,775.4 L750,772.8 L753,770.2 L756,767.6 L759,765 L762,762.4 L765,759.8 L768,757.2 L771,754.6 L774,752 L777,749.4 L780,746.8 L783,744.1 L786,741.5 L789,738.9 L792,736.3 L795,733.6 L798,731 L801,728.4 L804,725.7 L807,723.1 L810,720.4 L813,717.8 L816,715.2 L819,712.5 L822,709.9 L825,707.2 L828,704.6 L831,701.9 L834,699.2 L837,696.6 L840,693.9 L843,691.3 L846,688.6 L849,685.9 L852,683.3 L855,680.6 L858,677.9 L861,675.3 L864,672.6 L867,669.9 L870,667.2 L873,664.6 L876,661.9 L879,659.2 L882,656.5 L885,653.8 L888,651.1 L891,648.5 L894,645.8 L897,643.1 L900,640.4 L903,637.7 L906,635 L909,632.3 L912,629.6 L915,626.9 L918,624.2 L921,621.5 L924,618.8 L927,616.1 L930,613.4 L930.4,613" stroke="#27a9e1" stroke-width="2.6" fill="none" stroke-dasharray="3 8.7" stroke-linecap="round"/>
<path d="M117,1105 L120,1105 L123,1105 L126,1105 L129,1105 L132,1105 L135,1105 L138,1104.9 L141,1104.9 L144,1104.9 L147,1104.9 L150,1104.8 L153,1104.8 L156,1104.7 L159,1104.7 L162,1104.6 L165,1104.6 L168,1104.5 L171,1104.4 L174,1104.3 L177,1104.3 L180,1104.2 L183,1104.1 L186,1104 L189,1103.8 L192,1103.7 L195,1103.6 L198,1103.5 L201,1103.3 L204,1103.2 L207,1103 L210,1102.8 L213,1102.7 L216,1102.5 L219,1102.3 L222,1102.1 L225,1101.9 L228,1101.6 L231,1101.4 L234,1101.2 L237,1100.9 L240,1100.7 L243,1100.4 L246,1100.1 L249,1099.9 L252,1099.6 L255,1099.3 L258,1099 L261,1098.6 L264,1098.3 L267,1097.9 L270,1097.5 L273,1097 L276,1096.5 L279,1096 L282,1095.5 L285,1094.9 L288,1094.3 L291,1093.7 L294,1093 L297,1092.4 L300,1091.7 L303,1090.9 L306,1090.2 L309,1089.4 L312,1088.6 L315,1087.7 L318,1086.9 L321,1086 L324,1085.1 L327,1084.1 L330,1083.2 L333,1082.2 L336,1081.2 L339,1080.2 L342,1079.1 L345,1078 L348,1076.9 L351,1075.8 L354,1074.7 L357,1073.5 L360,1072.3 L363,1071.1 L366,1069.9 L369,1068.6 L372,1067.4 L375,1066.1 L378,1064.8 L381,1063.5 L384,1062.1 L387,1060.8 L390,1059.4 L393,1058 L396,1056.6 L399,1055.1 L402,1053.7 L405,1052.2 L408,1050.7 L411,1049.2 L414,1047.7 L417,1046.2 L420,1044.7 L423,1043.1 L426,1041.5 L429,1040 L432,1038.4 L435,1036.8 L438,1035.1 L441,1033.5 L444,1031.8 L447,1030.2 L450,1028.5 L453,1026.8 L456,1025.1 L459,1023.4 L462,1021.7 L465,1019.9 L468,1018.2 L471,1016.4 L474,1014.6 L477,1012.8 L480,1011 L483,1009.2 L486,1007.4 L489,1005.5 L492,1003.7 L495,1001.8 L498,999.9 L501,998 L504,996.1 L507,994.2 L510,992.3 L513,990.3 L516,988.4 L519,986.4 L522,984.5 L525,982.5 L528,980.5 L531,978.5 L534,976.4 L537,974.4 L540,972.4 L543,970.3 L546,968.3 L549,966.2 L552,964.1 L555,962 L558,959.9 L561,957.8 L564,955.6 L567,953.5 L570,951.4 L573,949.2 L576,947 L579,944.9 L582,942.7 L585,940.5 L588,938.3 L591,936.1 L594,933.9 L597,931.7 L600,929.5 L603,927.2 L606,925 L609,922.8 L612,920.5 L615,918.3 L618,916 L621,913.8 L624,911.5 L627,909.3 L630,907 L633,904.8 L636,902.5 L639,900.2 L642,897.9 L645,895.7 L648,893.4 L651,891.1 L654,888.8 L657,886.5 L660,884.2 L663,881.9 L666,879.6 L669,877.3 L672,874.9 L675,872.6 L678,870.3 L681,868 L684,865.6 L687,863.3 L690,861 L693,858.6 L696,856.3 L699,853.9 L702,851.6 L705,849.2 L708,846.9 L711,844.5 L714,842.1 L717,839.7 L720,837.4 L723,835 L726,832.6 L729,830.2 L732,827.8 L735,825.4 L738,823 L741,820.6 L744,818.2 L747,815.8 L750,813.4 L753,811 L756,808.6 L759,806.2 L762,803.7 L765,801.3 L768,798.9 L771,796.4 L774,794 L777,791.5 L780,789.1 L783,786.7 L786,784.2 L789,781.7 L792,779.3 L795,776.8 L798,774.4 L801,771.9 L804,769.4 L807,766.9 L810,764.5 L813,762 L816,759.5 L819,757 L822,754.5 L825,752 L828,749.5 L831,747 L834,744.5 L837,742 L840,739.5 L843,737 L846,734.4 L849,731.9 L852,729.4 L855,726.9 L858,724.3 L861,721.8 L864,719.3 L867,716.7 L870,714.2 L873,711.6 L876,709.1 L879,706.5 L882,704 L885,701.4 L888,698.8 L891,696.3 L894,693.7 L897,691.1 L900,688.6 L903,686 L906,683.4 L909,680.8 L912,678.2 L915,675.6 L918,673.1 L921,670.5 L924,667.9 L927,665.3 L930,662.7 L933,660.1 L936,657.4 L939,654.8 L942,652.2 L945,649.6 L948,647 L951,644.4 L954,641.7 L957,639.1 L960,636.5 L963,633.8" stroke="#27a9e1" stroke-width="2.6" fill="none" stroke-dasharray="3 8.7" stroke-linecap="round"/>
<path d="M117,1105 L120,1105 L123,1105 L126,1105 L129,1105 L132,1105 L135,1105 L138,1105 L141,1105 L144,1104.9 L147,1104.9 L150,1104.9 L153,1104.9 L156,1104.8 L159,1104.8 L162,1104.8 L165,1104.7 L168,1104.7 L171,1104.6 L174,1104.6 L177,1104.5 L180,1104.4 L183,1104.4 L186,1104.3 L189,1104.2 L192,1104.1 L195,1104 L198,1103.9 L201,1103.8 L204,1103.7 L207,1103.6 L210,1103.4 L213,1103.3 L216,1103.2 L219,1103 L222,1102.9 L225,1102.7 L228,1102.5 L231,1102.3 L234,1102.2 L237,1102 L240,1101.8 L243,1101.6 L246,1101.3 L249,1101.1 L252,1100.9 L255,1100.7 L258,1100.4 L261,1100.1 L264,1099.9 L267,1099.6 L270,1099.3 L273,1098.9 L276,1098.6 L279,1098.2 L282,1097.9 L285,1097.5 L288,1097.1 L291,1096.6 L294,1096.2 L297,1095.7 L300,1095.3 L303,1094.8 L306,1094.3 L309,1093.8 L312,1093.2 L315,1092.7 L318,1092.1 L321,1091.5 L324,1090.9 L327,1090.3 L330,1089.7 L333,1089.1 L336,1088.4 L339,1087.7 L342,1087.1 L345,1086.4 L348,1085.6 L351,1084.9 L354,1084.2 L357,1083.4 L360,1082.6 L363,1081.8 L366,1081 L369,1080.2 L372,1079.4 L375,1078.6 L378,1077.7 L381,1076.8 L384,1075.9 L387,1075 L390,1074.1 L393,1073.2 L396,1072.3 L399,1071.3 L402,1070.3 L405,1069.4 L408,1068.4 L411,1067.4 L414,1066.4 L417,1065.3 L420,1064.3 L423,1063.2 L426,1062.1 L429,1061.1 L432,1060 L435,1058.9 L438,1057.7 L441,1056.6 L444,1055.5 L447,1054.3 L450,1053.1 L453,1052 L456,1050.8 L459,1049.6 L462,1048.3 L465,1047.1 L468,1045.9 L471,1044.6 L474,1043.3 L477,1042.1 L480,1040.8 L483,1039.5 L486,1038.2 L489,1036.9 L492,1035.5 L495,1034.2 L498,1032.8 L501,1031.5 L504,1030.1 L507,1028.7 L510,1027.3 L513,1025.9 L516,1024.5 L519,1023 L522,1021.6 L525,1020.2 L528,1018.7 L531,1017.2 L534,1015.7 L537,1014.3 L540,1012.8 L543,1011.2 L546,1009.7 L549,1008.2 L552,1006.7 L555,1005.1 L558,1003.5 L561,1002 L564,1000.4 L567,998.8 L570,997.2 L573,995.6 L576,994 L579,992.4 L582,990.7 L585,989.1 L588,987.5 L591,985.8 L594,984.1 L597,982.5 L600,980.8 L603,979.1 L606,977.4 L609,975.7 L612,974 L615,972.2 L618,970.5 L621,968.8 L624,967 L627,965.2 L630,963.5 L633,961.7 L636,959.9 L639,958.1 L642,956.3 L645,954.5 L648,952.7 L651,950.9 L654,949.1 L657,947.3 L660,945.4 L663,943.6 L666,941.7 L669,939.9 L672,938 L675,936.1 L678,934.3 L681,932.4 L684,930.5 L687,928.6 L690,926.7 L693,924.8 L696,922.8 L699,920.9 L702,919 L705,917.1 L708,915.1 L711,913.2 L714,911.2 L717,909.3 L720,907.3 L723,905.3 L726,903.4 L729,901.4 L732,899.4 L735,897.4 L738,895.4 L741,893.4 L744,891.4 L747,889.4 L750,887.4 L753,885.4 L756,883.3 L759,881.3 L762,879.3 L765,877.2 L768,875.2 L771,873.2 L774,871.1 L777,869.1 L780,867 L783,864.9 L786,862.9 L789,860.8 L792,858.7 L795,856.6 L798,854.6 L801,852.5 L804,850.4 L807,848.3 L810,846.2 L813,844.1 L816,842 L819,839.9 L822,837.8 L825,835.7 L828,833.6 L831,831.5 L834,829.3 L837,827.2 L840,825.1 L843,823 L846,820.8 L849,818.7 L852,816.6 L855,814.4 L858,812.3 L861,810.2 L864,808 L867,805.9 L870,803.7 L873,801.6 L876,799.4 L879,797.3 L882,795.1 L885,793 L888,790.8 L891,788.7 L894,786.5 L897,784.3 L900,782.2 L903,780 L906,777.8 L909,775.7 L912,773.5 L915,771.4 L918,769.2 L921,767 L924,764.9 L927,762.7 L930,760.5 L933,758.4 L936,756.2 L939,754 L942,751.8 L945,749.7 L948,747.5 L951,745.3 L954,743.2 L957,741 L960,738.8 L963,736.7" stroke="#27a9e1" stroke-width="2.6" fill="none" stroke-dasharray="3 8.7" stroke-linecap="round"/>
<path d="M117,1105 L120,1105 L123,1105 L126,1105 L129,1105 L132,1105 L135,1105 L138,1105 L141,1105 L144,1105 L147,1105 L150,1105 L153,1105 L156,1105 L159,1105 L162,1105 L165,1105 L168,1105 L171,1105 L174,1105 L177,1105 L180,1105 L183,1104.9 L186,1104.9 L189,1104.9 L192,1104.9 L195,1104.8 L198,1104.8 L201,1104.8 L204,1104.7 L207,1104.6 L210,1104.6 L213,1104.5 L216,1104.4 L219,1104.3 L222,1104.1 L225,1104 L228,1103.8 L231,1103.6 L234,1103.4 L237,1103.1 L240,1102.8 L243,1102.5 L246,1102.1 L249,1101.7 L252,1101.3 L255,1100.8 L258,1100.2 L261,1099.6 L264,1099 L267,1098.3 L270,1097.7 L273,1096.9 L276,1096.2 L279,1095.4 L282,1094.7 L285,1093.8 L288,1093 L291,1092.1 L294,1091.2 L297,1090.3 L300,1089.3 L303,1088.3 L306,1087.3 L309,1086.3 L312,1085.3 L315,1084.2 L318,1083.1 L321,1081.9 L324,1080.8 L327,1079.6 L330,1078.4 L333,1077.2 L336,1075.9 L339,1074.7 L342,1073.4 L345,1072.1 L348,1070.7 L351,1069.4 L354,1068 L357,1066.6 L360,1065.2 L363,1063.7 L366,1062.2 L369,1060.8 L372,1059.2 L375,1057.7 L378,1056.2 L381,1054.6 L384,1053 L387,1051.4 L390,1049.8 L393,1048.1 L396,1046.4 L399,1044.8 L402,1043 L405,1041.3 L408,1039.6 L411,1037.8 L414,1036 L417,1034.2 L420,1032.4 L423,1030.6 L426,1028.8 L429,1026.9 L432,1025 L435,1023.1 L438,1021.2 L441,1019.3 L444,1017.3 L447,1015.4 L450,1013.4 L453,1011.4 L456,1009.4 L459,1007.4 L462,1005.4 L465,1003.3 L468,1001.3 L471,999.2 L474,997.1 L477,995 L480,992.9 L483,990.8 L486,988.6 L489,986.5 L492,984.3 L495,982.1 L498,980 L501,977.8 L504,975.5 L507,973.3 L510,971.1 L513,968.9 L516,966.6 L519,964.3 L522,962.1 L525,959.8 L528,957.5 L531,955.2 L534,952.9 L537,950.6 L540,948.3 L543,945.9 L546,943.6 L549,941.2 L552,938.9 L555,936.5 L558,934.1 L561,931.8 L564,929.4 L567,927 L570,924.6 L573,922.2 L576,919.8 L579,917.3 L582,914.9 L585,912.5 L588,910.1 L591,907.6 L594,905.2 L597,902.7 L600,900.3 L603,897.8 L606,895.4 L609,892.9 L612,890.4 L615,888 L618,885.5 L621,883 L624,880.5 L627,878.1 L630,875.6 L633,873.1 L636,870.6 L639,868.1 L642,865.6 L645,863.1 L648,860.6 L651,858.1 L654,855.6 L657,853.1 L660,850.5 L663,848 L666,845.5 L669,843 L672,840.5 L675,837.9 L678,835.4 L681,832.9 L684,830.3 L687,827.8 L690,825.2 L693,822.7 L696,820.1 L699,817.6 L702,815 L705,812.5 L708,809.9 L711,807.4 L714,804.8 L717,802.2 L720,799.7 L723,797.1 L726,794.5 L729,791.9 L732,789.3 L735,786.8 L738,784.2 L741,781.6 L744,779 L747,776.4 L750,773.8 L753,771.2 L756,768.6 L759,766 L762,763.4 L765,760.8 L768,758.2 L771,755.6 L774,753 L777,750.4 L780,747.7 L783,745.1 L786,742.5 L789,739.9 L792,737.2 L795,734.6 L798,732 L801,729.3 L804,726.7 L807,724.1 L810,721.4 L813,718.8 L816,716.1 L819,713.5 L822,710.9 L825,708.2 L828,705.6 L831,702.9 L834,700.2 L837,697.6 L840,694.9 L843,692.3 L846,689.6 L849,686.9 L852,684.3 L855,681.6 L858,678.9 L861,676.3 L864,673.6 L867,670.9 L870,668.2 L873,665.6 L876,662.9 L879,660.2 L882,657.5 L885,654.8 L888,652.1 L891,649.5 L894,646.8 L897,644.1 L900,641.4 L903,638.7 L906,636 L909,633.3 L912,630.6 L915,627.9 L918,625.2 L921,622.5 L924,619.8 L927,617.1 L930,614.4 L931.5,613" stroke="#d1377d" stroke-width="2.6" fill="none"/>
<path d="M117,1105 L120,1105 L123,1105 L126,1105 L129,1105 L132,1105 L135,1105 L138,1104.9 L141,1104.9 L144,1104.9 L147,1104.9 L150,1104.8 L153,1104.8 L156,1104.7 L159,1104.7 L162,1104.6 L165,1104.6 L168,1104.5 L171,1104.4 L174,1104.3 L177,1104.3 L180,1104.2 L183,1104.1 L186,1104 L189,1103.9 L192,1103.7 L195,1103.6 L198,1103.5 L201,1103.4 L204,1103.2 L207,1103.1 L210,1102.9 L213,1102.7 L216,1102.6 L219,1102.4 L222,1102.2 L225,1102 L228,1101.8 L231,1101.6 L234,1101.4 L237,1101.2 L240,1100.9 L243,1100.7 L246,1100.4 L249,1100.2 L252,1099.9 L255,1099.6 L258,1099.4 L261,1099.1 L264,1098.7 L267,1098.4 L270,1098 L273,1097.6 L276,1097.1 L279,1096.6 L282,1096.1 L285,1095.6 L288,1095 L291,1094.4 L294,1093.8 L297,1093.1 L300,1092.4 L303,1091.7 L306,1090.9 L309,1090.2 L312,1089.4 L315,1088.6 L318,1087.7 L321,1086.8 L324,1085.9 L327,1085 L330,1084.1 L333,1083.1 L336,1082.1 L339,1081.1 L342,1080 L345,1078.9 L348,1077.8 L351,1076.7 L354,1075.6 L357,1074.4 L360,1073.3 L363,1072.1 L366,1070.8 L369,1069.6 L372,1068.3 L375,1067 L378,1065.7 L381,1064.4 L384,1063.1 L387,1061.7 L390,1060.3 L393,1059 L396,1057.5 L399,1056.1 L402,1054.7 L405,1053.2 L408,1051.7 L411,1050.2 L414,1048.7 L417,1047.2 L420,1045.7 L423,1044.1 L426,1042.5 L429,1040.9 L432,1039.3 L435,1037.7 L438,1036.1 L441,1034.5 L444,1032.8 L447,1031.2 L450,1029.5 L453,1027.8 L456,1026.1 L459,1024.4 L462,1022.6 L465,1020.9 L468,1019.2 L471,1017.4 L474,1015.6 L477,1013.8 L480,1012 L483,1010.2 L486,1008.4 L489,1006.5 L492,1004.7 L495,1002.8 L498,1000.9 L501,999 L504,997.1 L507,995.2 L510,993.3 L513,991.3 L516,989.4 L519,987.4 L522,985.5 L525,983.5 L528,981.5 L531,979.5 L534,977.4 L537,975.4 L540,973.4 L543,971.3 L546,969.3 L549,967.2 L552,965.1 L555,963 L558,960.9 L561,958.8 L564,956.6 L567,954.5 L570,952.3 L573,950.2 L576,948 L579,945.8 L582,943.7 L585,941.5 L588,939.3 L591,937.1 L594,934.9 L597,932.7 L600,930.4 L603,928.2 L606,926 L609,923.7 L612,921.5 L615,919.3 L618,917 L621,914.8 L624,912.5 L627,910.3 L630,908 L633,905.7 L636,903.5 L639,901.2 L642,898.9 L645,896.6 L648,894.3 L651,892 L654,889.7 L657,887.5 L660,885.1 L663,882.8 L666,880.5 L669,878.2 L672,875.9 L675,873.6 L678,871.3 L681,868.9 L684,866.6 L687,864.3 L690,861.9 L693,859.6 L696,857.2 L699,854.9 L702,852.5 L705,850.2 L708,847.8 L711,845.5 L714,843.1 L717,840.7 L720,838.3 L723,836 L726,833.6 L729,831.2 L732,828.8 L735,826.4 L738,824 L741,821.6 L744,819.2 L747,816.8 L750,814.4 L753,812 L756,809.6 L759,807.1 L762,804.7 L765,802.3 L768,799.8 L771,797.4 L774,795 L777,792.5 L780,790.1 L783,787.6 L786,785.2 L789,782.7 L792,780.3 L795,777.8 L798,775.3 L801,772.9 L804,770.4 L807,767.9 L810,765.4 L813,763 L816,760.5 L819,758 L822,755.5 L825,753 L828,750.5 L831,748 L834,745.5 L837,743 L840,740.5 L843,737.9 L846,735.4 L849,732.9 L852,730.4 L855,727.9 L858,725.3 L861,722.8 L864,720.2 L867,717.7 L870,715.2 L873,712.6 L876,710.1 L879,707.5 L882,705 L885,702.4 L888,699.8 L891,697.3 L894,694.7 L897,692.1 L900,689.6 L903,687 L906,684.4 L909,681.8 L912,679.2 L915,676.6 L918,674 L921,671.4 L924,668.8 L927,666.2 L930,663.6 L933,661 L936,658.4 L939,655.8 L942,653.2 L945,650.6 L948,648 L951,645.3 L954,642.7 L957,640.1 L960,637.4 L963,634.8" stroke="#d1377d" stroke-width="2.6" fill="none"/>
<path d="M117,1105 L120,1105 L123,1105 L126,1105 L129,1105 L132,1105 L135,1105 L138,1105 L141,1105 L144,1105 L147,1105 L150,1104.9 L153,1104.9 L156,1104.9 L159,1104.9 L162,1104.9 L165,1104.8 L168,1104.8 L171,1104.8 L174,1104.7 L177,1104.7 L180,1104.6 L183,1104.6 L186,1104.5 L189,1104.4 L192,1104.4 L195,1104.3 L198,1104.2 L201,1104.1 L204,1104 L207,1103.9 L210,1103.8 L213,1103.6 L216,1103.5 L219,1103.4 L222,1103.2 L225,1103.1 L228,1102.9 L231,1102.7 L234,1102.6 L237,1102.4 L240,1102.2 L243,1102 L246,1101.7 L249,1101.5 L252,1101.3 L255,1101 L258,1100.8 L261,1100.5 L264,1100.2 L267,1099.9 L270,1099.6 L273,1099.2 L276,1098.9 L279,1098.5 L282,1098.1 L285,1097.7 L288,1097.3 L291,1096.9 L294,1096.4 L297,1096 L300,1095.5 L303,1095 L306,1094.5 L309,1094 L312,1093.4 L315,1092.9 L318,1092.3 L321,1091.8 L324,1091.2 L327,1090.6 L330,1089.9 L333,1089.3 L336,1088.7 L339,1088 L342,1087.3 L345,1086.6 L348,1085.9 L351,1085.2 L354,1084.5 L357,1083.7 L360,1083 L363,1082.2 L366,1081.4 L369,1080.6 L372,1079.8 L375,1079 L378,1078.1 L381,1077.3 L384,1076.4 L387,1075.5 L390,1074.7 L393,1073.8 L396,1072.8 L399,1071.9 L402,1071 L405,1070 L408,1069 L411,1068.1 L414,1067.1 L417,1066.1 L420,1065 L423,1064 L426,1063 L429,1061.9 L432,1060.9 L435,1059.8 L438,1058.7 L441,1057.6 L444,1056.5 L447,1055.4 L450,1054.2 L453,1053.1 L456,1051.9 L459,1050.7 L462,1049.6 L465,1048.4 L468,1047.2 L471,1045.9 L474,1044.7 L477,1043.5 L480,1042.2 L483,1041 L486,1039.7 L489,1038.4 L492,1037.1 L495,1035.8 L498,1034.5 L501,1033.2 L504,1031.8 L507,1030.5 L510,1029.1 L513,1027.8 L516,1026.4 L519,1025 L522,1023.6 L525,1022.2 L528,1020.8 L531,1019.3 L534,1017.9 L537,1016.5 L540,1015 L543,1013.5 L546,1012.1 L549,1010.6 L552,1009.1 L555,1007.6 L558,1006.1 L561,1004.5 L564,1003 L567,1001.5 L570,999.9 L573,998.4 L576,996.8 L579,995.2 L582,993.6 L585,992 L588,990.4 L591,988.8 L594,987.2 L597,985.6 L600,983.9 L603,982.3 L606,980.6 L609,979 L612,977.3 L615,975.6 L618,973.9 L621,972.2 L624,970.5 L627,968.8 L630,967.1 L633,965.4 L636,963.6 L639,961.9 L642,960.1 L645,958.4 L648,956.6 L651,954.8 L654,953.1 L657,951.3 L660,949.5 L663,947.7 L666,945.9 L669,944 L672,942.2 L675,940.4 L678,938.6 L681,936.7 L684,934.9 L687,933 L690,931.2 L693,929.3 L696,927.4 L699,925.5 L702,923.6 L705,921.7 L708,919.8 L711,917.9 L714,916 L717,914.1 L720,912.2 L723,910.3 L726,908.3 L729,906.4 L732,904.4 L735,902.5 L738,900.5 L741,898.6 L744,896.6 L747,894.6 L750,892.6 L753,890.7 L756,888.7 L759,886.7 L762,884.7 L765,882.7 L768,880.7 L771,878.6 L774,876.6 L777,874.6 L780,872.6 L783,870.5 L786,868.5 L789,866.5 L792,864.4 L795,862.4 L798,860.3 L801,858.3 L804,856.2 L807,854.1 L810,852.1 L813,850 L816,847.9 L819,845.8 L822,843.7 L825,841.6 L828,839.6 L831,837.5 L834,835.4 L837,833.3 L840,831.1 L843,829 L846,826.9 L849,824.8 L852,822.7 L855,820.6 L858,818.4 L861,816.3 L864,814.2 L867,812.1 L870,809.9 L873,807.8 L876,805.6 L879,803.5 L882,801.3 L885,799.2 L888,797 L891,794.9 L894,792.7 L897,790.6 L900,788.4 L903,786.3 L906,784.1 L909,781.9 L912,779.8 L915,777.6 L918,775.4 L921,773.3 L924,771.1 L927,768.9 L930,766.7 L933,764.6 L936,762.4 L939,760.2 L942,758 L945,755.8 L948,753.7 L951,751.5 L954,749.3 L957,747.1 L960,744.9 L963,742.7" stroke="#d1377d" stroke-width="2.6" fill="none"/>
</g>
<path d="M152.3,1105 v-7 M152.3,615 v7 M187.7,1105 v-7 M187.7,615 v7 M223,1105 v-7 M223,615 v7 M258.3,1105 v-11 M258.3,615 v11 M293.7,1105 v-7 M293.7,615 v7 M329,1105 v-7 M329,615 v7 M364.3,1105 v-7 M364.3,615 v7 M399.7,1105 v-11 M399.7,615 v11 M435,1105 v-7 M435,615 v7 M470.3,1105 v-7 M470.3,615 v7 M505.7,1105 v-7 M505.7,615 v7 M541,1105 v-11 M541,615 v11 M576.3,1105 v-7 M576.3,615 v7 M611.7,1105 v-7 M611.7,615 v7 M647,1105 v-7 M647,615 v7 M682.3,1105 v-11 M682.3,615 v11 M717.7,1105 v-7 M717.7,615 v7 M753,1105 v-7 M753,615 v7 M788.3,1105 v-7 M788.3,615 v7 M823.7,1105 v-11 M823.7,615 v11 M859,1105 v-7 M859,615 v7 M894.3,1105 v-7 M894.3,615 v7 M929.7,1105 v-7 M929.7,615 v7 M117,1064.2 h7 M965,1064.2 h-7 M117,1023.3 h7 M965,1023.3 h-7 M117,982.5 h7 M965,982.5 h-7 M117,941.7 h11 M965,941.7 h-11 M117,900.8 h7 M965,900.8 h-7 M117,860 h7 M965,860 h-7 M117,819.2 h7 M965,819.2 h-7 M117,778.3 h11 M965,778.3 h-11 M117,737.5 h7 M965,737.5 h-7 M117,696.7 h7 M965,696.7 h-7 M117,655.8 h7 M965,655.8 h-7" stroke="#000" stroke-width="2" fill="none"/>
<rect x="117" y="615" width="848" height="490" fill="none" stroke="#000" stroke-width="2"/>
<text x="117" y="1141" text-anchor="middle" font-size="30.6">0</text>
<text x="258.3" y="1141" text-anchor="middle" font-size="30.6">200</text>
<text x="399.7" y="1141" text-anchor="middle" font-size="30.6">400</text>
<text x="541" y="1141" text-anchor="middle" font-size="30.6">600</text>
<text x="682.3" y="1141" text-anchor="middle" font-size="30.6">800</text>
<text x="823.7" y="1141" text-anchor="middle" font-size="30.6">1000</text>
<text x="965" y="1141" text-anchor="middle" font-size="30.6">1200</text>
<text x="101.5" y="1114.8" text-anchor="end" font-size="30.6">0</text>
<text x="101.5" y="951.5" text-anchor="end" font-size="30.6">200</text>
<text x="101.5" y="788.1" text-anchor="end" font-size="30.6">400</text>
<text x="101.5" y="624.8" text-anchor="end" font-size="30.6">600</text>
<text x="542.5" y="1192" text-anchor="middle" font-size="30.2"><tspan font-family="Liberation Serif" font-style="italic">ε</tspan> [MeV fm<tspan dy="-11.7" font-size="20">-3</tspan><tspan dy="11.7">]</tspan></text>
<text transform="translate(26.4,860) rotate(-90)" text-anchor="middle" font-size="29.8"><tspan font-style="italic">P</tspan> [MeV fm<tspan dy="-11.7" font-size="20">-3</tspan><tspan dy="11.7">]</tspan></text>
<text x="149.7" y="668.1" font-size="29" font-weight="bold">(b)</text>
<rect x="143" y="732.7" width="154.7" height="97.9" fill="#8fb6de"/>
<rect x="138.5" y="728.3" width="155.2" height="97.9" fill="#fff" stroke="#e49b5a" stroke-width="1.3"/>
<path d="M152.9,746 H181" stroke="#6aad45" stroke-width="2.6" stroke-dasharray="7.5 5.95 0 5.95" stroke-linecap="round"/>
<path d="M152.9,777.4 H181" stroke="#27a9e1" stroke-width="2.6" stroke-dasharray="3 8.7" stroke-linecap="round"/>
<path d="M152.9,808.1 H181" stroke="#d1377d" stroke-width="2.6" stroke-linecap="round"/>
<text x="202" y="754.8" font-size="26">MPE</text>
<text x="202.5" y="786" font-size="26">DD2</text>
<text x="195.5" y="817.6" font-size="26">DDME2</text>
<text x="570.2" y="745" font-size="25.5">(800, 50)</text>
<text x="517.4" y="840.3" font-size="25.5">(0, 50)</text>
<text x="393.2" y="915.3" font-size="25.5">(-600, 50)</text>
<path d="M715.2,800.4 L675.5,761.4" stroke="#000" stroke-width="3.0"/>
<path d="M666.6,752.6 L680.9,760.2 L675.5,761.4 L674.4,766.7 Z" fill="#000" stroke="#000" stroke-width="1.6" stroke-linejoin="round"/>
<path d="M634.7,896.3 L595.4,856.9" stroke="#000" stroke-width="3.0"/>
<path d="M586.6,848.1 L600.8,855.8 L595.4,856.9 L594.3,862.3 Z" fill="#000" stroke="#000" stroke-width="1.6" stroke-linejoin="round"/>
<path d="M575.3,1003.1 L504.6,932.5" stroke="#000" stroke-width="3.0"/>
<path d="M495.8,923.7 L510,931.4 L504.6,932.5 L503.5,937.9 Z" fill="#000" stroke="#000" stroke-width="1.6" stroke-linejoin="round"/>
<defs><clipPath id="clipA"><rect x="117" y="12" width="848" height="490"/></clipPath><clipPath id="clipB"><rect x="117" y="615" width="848" height="490"/></clipPath></defs>
</svg></body></html>
